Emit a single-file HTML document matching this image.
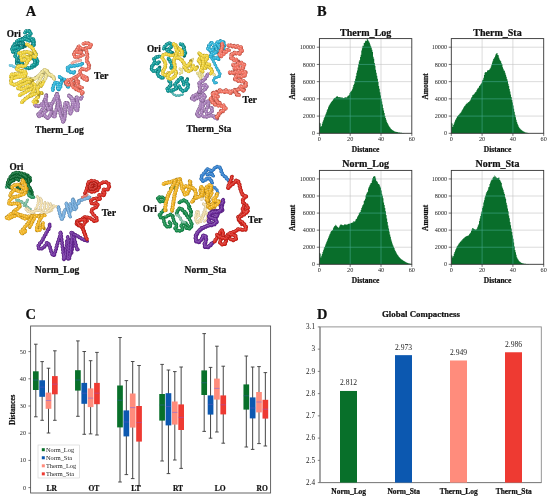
<!DOCTYPE html>
<html><head><meta charset="utf-8"><title>Figure</title>
<style>
html,body{margin:0;padding:0;background:#fff;}
body{width:550px;height:500px;overflow:hidden;font-family:"Liberation Serif",serif;}
svg{display:block;}
svg text{font-family:"Liberation Serif",serif;}
</style></head><body>
<svg width="550" height="500" viewBox="0 0 550 500">
<rect width="550" height="500" fill="#fff"/>
<text x="25.80" y="16.10" font-size="14.4" font-weight="bold" text-anchor="start" fill="#111"  stroke="#111" stroke-width="0.22">A</text>
<text x="317.00" y="16.10" font-size="14.4" font-weight="bold" text-anchor="start" fill="#111"  stroke="#111" stroke-width="0.22">B</text>
<text x="25.50" y="318.90" font-size="14.4" font-weight="bold" text-anchor="start" fill="#111"  stroke="#111" stroke-width="0.22">C</text>
<text x="317.00" y="318.90" font-size="14.4" font-weight="bold" text-anchor="start" fill="#111"  stroke="#111" stroke-width="0.22">D</text>
<g fill="none" stroke-linecap="round" stroke-linejoin="round" opacity="0.7"><defs><path id="s1" d="M9.8,65.2L10.1,65.7L10.5,65.9L10.8,65.8L11.2,65.6L11.7,65.4L12.2,65.4L12.7,66.1L13.2,66.8L14.2,66.7L14.9,66.6L15.2,67.0L15.3,67.5L15.4,67.9L15.6,68.2L15.8,68.3L16.3,68.3"/></defs><use href="#s1" stroke="#218ba9" stroke-width="2.2"/><use href="#s1" stroke="#2bb3d9" stroke-width="1.50"/><use href="#s1" stroke="#6ac9e4" stroke-width="0.55" transform="translate(-0.3,-0.4)"/></g>
<g fill="none" stroke-linecap="round" stroke-linejoin="round"><defs><path id="s2" d="M24.8,32.8L25.3,32.8L25.6,32.5L25.8,32.2L25.7,31.8L25.8,31.4L26.0,30.9L26.5,30.8L27.2,31.1L27.9,31.4L28.3,31.1L28.7,30.8L29.2,30.6L29.6,30.8L29.8,31.2L29.8,31.8L29.8,32.4L30.2,32.8L30.7,33.0L31.0,33.4L31.0,33.8L30.7,34.2L30.2,34.3L29.6,34.5L29.3,35.0L29.3,35.7L28.9,36.2L28.4,36.3L28.0,36.0L27.6,35.7L27.2,35.6L26.8,36.0L26.8,36.5L27.2,36.8L27.6,36.8L27.9,36.8L28.2,36.9L28.5,37.3L28.8,37.9L29.3,38.3L30.3,38.0L31.0,38.1L31.4,38.5L31.7,38.9L32.0,39.1L32.2,39.1L32.3,39.1L32.8,39.0L33.5,39.1L33.8,39.7L33.8,40.3L33.7,40.6L33.7,40.8L33.7,41.0L33.9,41.3L34.2,41.9L34.2,42.5L33.7,43.0L33.1,43.2L32.9,43.5L32.8,43.8L32.7,44.2L32.6,44.5L32.5,44.9L32.3,45.1"/></defs><use href="#s2" stroke="#0b6e6d" stroke-width="3.1"/><use href="#s2" stroke="#109a98" stroke-width="3.04" stroke-dasharray="0.01 2.48"/><use href="#s2" stroke="#6fc2c1" stroke-width="1.18" stroke-dasharray="0.01 2.48" transform="translate(-0.35,-0.45)"/></g>
<g fill="none" stroke-linecap="round" stroke-linejoin="round"><defs><path id="s3" d="M25.4,37.0L24.9,36.9L24.6,37.0L24.4,37.2L24.2,37.5L24.1,37.9L23.9,38.5L23.3,38.6L22.2,38.5L21.6,39.0L21.3,39.6L21.0,39.9L20.7,40.0L20.4,39.9L19.9,39.8L19.3,39.8L18.8,40.6L18.3,41.4L17.7,41.4L17.2,41.3L16.9,41.3L16.6,41.5L16.5,41.8L16.4,42.5L16.1,43.3L15.1,43.4L14.5,43.6L14.3,43.9L14.3,44.3L14.3,44.6L14.4,45.0L14.1,45.5L13.2,45.9L12.7,46.5L12.8,47.3L12.8,47.8L12.6,48.0L12.4,48.2L12.0,48.5L11.7,49.0L12.0,49.6L12.6,50.2L12.8,50.7L12.6,51.1L12.5,51.4L12.6,51.8L12.9,52.2L13.4,52.2L14.0,51.9L14.6,51.7L14.9,51.8L15.1,52.0L15.5,52.1L15.9,52.1L16.3,51.9L16.5,51.3L16.8,50.5L17.4,50.2L18.0,50.2L18.4,50.0L18.5,49.8L18.6,49.6L18.5,49.2L18.6,48.6L19.2,48.1L20.2,48.3L20.8,48.1L21.1,47.7L21.4,47.2L21.8,47.0L22.2,47.0L22.6,47.3L23.1,47.5"/></defs><use href="#s3" stroke="#0b6e6d" stroke-width="3.1"/><use href="#s3" stroke="#109a98" stroke-width="3.04" stroke-dasharray="0.01 2.48"/><use href="#s3" stroke="#6fc2c1" stroke-width="1.18" stroke-dasharray="0.01 2.48" transform="translate(-0.35,-0.45)"/></g>
<g fill="none" stroke-linecap="round" stroke-linejoin="round"><defs><path id="s4" d="M16.4,52.6L15.9,52.8L15.6,53.1L15.6,53.6L15.7,54.1L15.7,54.6L15.5,54.9L14.9,55.5L14.8,56.3L15.5,56.8L16.0,57.0L16.2,57.3L16.4,57.8L16.6,58.3L16.8,58.5L17.3,58.7L18.0,59.1L18.0,59.9L17.4,60.2L17.0,60.3L16.7,60.5L16.5,60.9L16.5,61.4L16.7,61.7L16.8,62.1L16.5,62.8L16.5,63.4L16.8,63.7L17.3,63.8L17.8,63.6L18.2,63.4L18.8,63.6L19.4,64.3L20.1,64.4L20.6,63.9L20.8,63.5L21.0,63.3L21.3,63.2L21.8,63.2L22.2,63.2L22.6,63.2"/></defs><use href="#s4" stroke="#0b6e6d" stroke-width="3.1"/><use href="#s4" stroke="#109a98" stroke-width="3.04" stroke-dasharray="0.01 2.48"/><use href="#s4" stroke="#6fc2c1" stroke-width="1.18" stroke-dasharray="0.01 2.48" transform="translate(-0.35,-0.45)"/></g>
<g fill="none" stroke-linecap="round" stroke-linejoin="round"><defs><path id="s5" d="M20.6,42.4L20.9,42.8L21.2,43.0L21.5,43.0L21.8,42.9L22.3,42.7L22.8,42.6L23.2,42.9L23.5,43.8L23.8,44.3L24.4,44.4L24.9,44.5L25.3,44.7L25.4,45.0L25.3,45.3L25.2,45.7L25.2,46.2"/></defs><use href="#s5" stroke="#095d5c" stroke-width="3.1"/><use href="#s5" stroke="#0d8281" stroke-width="3.04" stroke-dasharray="0.01 2.48"/><use href="#s5" stroke="#6db4b3" stroke-width="1.18" stroke-dasharray="0.01 2.48" transform="translate(-0.35,-0.45)"/></g>
<g fill="none" stroke-linecap="round" stroke-linejoin="round"><defs><path id="s6" d="M32.0,55.6L32.2,56.2L32.6,56.4L33.1,56.4L33.7,56.2L34.2,56.3L34.6,56.8L34.7,57.7L35.5,58.1L36.5,58.2L36.8,58.7L36.8,59.2L36.9,59.5L36.8,59.7L36.9,59.9L37.2,60.3L37.8,61.0L37.7,61.7L37.2,62.2L37.0,62.6L37.1,62.8L37.1,63.2L37.2,63.7L37.0,64.3L36.1,64.6L35.4,64.9L35.3,65.3L35.2,65.7L35.1,65.9L34.8,66.2L34.5,66.3L33.9,66.1L33.0,66.0L32.5,66.8L32.3,67.5L32.0,67.7L31.6,67.8L31.2,67.7L30.7,67.6L30.3,67.7L29.6,68.4L28.9,68.7L28.3,68.3L28.0,68.1L27.9,67.9L27.6,67.9L27.2,67.9L26.6,68.1L25.9,67.9L25.4,67.1L25.0,66.7L24.6,66.7L24.3,66.8L24.0,66.8L23.6,66.8L23.2,66.5L23.1,65.7L22.8,65.1L22.3,64.9L21.9,64.9L21.5,64.8L21.3,64.7L21.1,64.6L21.1,64.5L21.0,64.2"/></defs><use href="#s6" stroke="#0b6e6d" stroke-width="3.1"/><use href="#s6" stroke="#109a98" stroke-width="3.04" stroke-dasharray="0.01 2.48"/><use href="#s6" stroke="#6fc2c1" stroke-width="1.18" stroke-dasharray="0.01 2.48" transform="translate(-0.35,-0.45)"/></g>
<g fill="none" stroke-linecap="round" stroke-linejoin="round"><defs><path id="s7" d="M34.4,52.0L34.3,52.6L34.5,53.0L34.9,53.2L35.5,53.4L35.9,53.6L36.0,54.1L35.9,54.7L35.9,55.2"/></defs><use href="#s7" stroke="#0b6e6d" stroke-width="3.1"/><use href="#s7" stroke="#109a98" stroke-width="3.04" stroke-dasharray="0.01 2.48"/><use href="#s7" stroke="#6fc2c1" stroke-width="1.18" stroke-dasharray="0.01 2.48" transform="translate(-0.35,-0.45)"/></g>
<g fill="none" stroke-linecap="round" stroke-linejoin="round"><defs><path id="s8" d="M17.0,41.2L17.5,41.4L17.9,41.3L18.2,41.1L18.4,40.7L18.6,40.3L19.1,40.0L19.8,40.2L20.7,40.4L21.3,39.7L21.7,39.2L22.0,39.1L22.3,39.2L22.6,39.4L23.0,39.6L23.5,39.9L24.2,39.4L25.0,39.0L25.5,39.2L25.8,39.5L26.0,39.8L26.2,40.0L26.5,40.0L27.1,39.9L27.9,39.6L28.5,40.1L28.9,40.7L29.3,40.9L29.6,40.9L30.0,40.8L30.3,40.7L30.6,40.7L31.0,40.8"/></defs><use href="#s8" stroke="#0b6e6d" stroke-width="3.1"/><use href="#s8" stroke="#109a98" stroke-width="3.04" stroke-dasharray="0.01 2.48"/><use href="#s8" stroke="#6fc2c1" stroke-width="1.18" stroke-dasharray="0.01 2.48" transform="translate(-0.35,-0.45)"/></g>
<g fill="none" stroke-linecap="round" stroke-linejoin="round"><defs><path id="s9" d="M15.2,44.8L15.7,44.9L16.0,44.9L16.2,44.7L16.4,44.4L16.5,44.0L16.8,43.5L17.4,43.4L18.2,43.8L19.0,43.9L19.4,43.4L19.7,43.0L20.0,42.9L20.3,42.9L20.7,43.1L21.1,43.7L21.7,44.0L22.6,43.6L23.2,43.5L23.6,43.8L23.8,44.2L23.9,44.5L24.0,44.8L24.3,45.0L24.7,45.1"/></defs><use href="#s9" stroke="#0a6361" stroke-width="3.1"/><use href="#s9" stroke="#0e8a88" stroke-width="3.04" stroke-dasharray="0.01 2.48"/><use href="#s9" stroke="#6eb8b7" stroke-width="1.18" stroke-dasharray="0.01 2.48" transform="translate(-0.35,-0.45)"/></g>
<g fill="none" stroke-linecap="round" stroke-linejoin="round"><defs><path id="s10" d="M13.4,48.4L13.8,48.6L14.1,48.8L14.3,48.8L14.6,48.6L14.9,48.3L15.2,47.9L15.7,47.7L16.4,47.9L17.2,47.9L17.5,47.5L17.7,46.9L17.7,46.6L17.8,46.3L18.1,46.2L18.4,46.1L18.9,46.1"/></defs><use href="#s10" stroke="#0b6e6d" stroke-width="3.1"/><use href="#s10" stroke="#109a98" stroke-width="3.04" stroke-dasharray="0.01 2.48"/><use href="#s10" stroke="#6fc2c1" stroke-width="1.18" stroke-dasharray="0.01 2.48" transform="translate(-0.35,-0.45)"/></g>
<g fill="none" stroke-linecap="round" stroke-linejoin="round"><defs><path id="s11" d="M32.0,40.0L31.9,40.6L32.1,41.0L32.6,41.2L33.2,41.4L33.6,41.7L33.6,42.3L33.3,43.0L33.5,43.7L34.1,44.2L34.3,44.7L34.2,45.1L33.9,45.4L33.6,45.4L33.3,45.5L33.0,45.6L32.8,45.8"/></defs><use href="#s11" stroke="#0b6e6d" stroke-width="3.1"/><use href="#s11" stroke="#109a98" stroke-width="3.04" stroke-dasharray="0.01 2.48"/><use href="#s11" stroke="#6fc2c1" stroke-width="1.18" stroke-dasharray="0.01 2.48" transform="translate(-0.35,-0.45)"/></g>
<g fill="none" stroke-linecap="round" stroke-linejoin="round"><defs><path id="s12" d="M17.0,60.4L17.2,60.8L17.5,61.0L17.8,61.1L18.0,61.0L18.4,60.8L19.0,60.7L19.5,60.9L19.9,61.8L20.5,62.3L21.3,62.3L21.8,62.3L22.1,62.7L22.2,63.2L22.2,63.6L22.4,64.0L22.8,64.3"/></defs><use href="#s12" stroke="#0a6361" stroke-width="3.1"/><use href="#s12" stroke="#0e8a88" stroke-width="3.04" stroke-dasharray="0.01 2.48"/><use href="#s12" stroke="#6eb8b7" stroke-width="1.18" stroke-dasharray="0.01 2.48" transform="translate(-0.35,-0.45)"/></g>
<g fill="none" stroke-linecap="round" stroke-linejoin="round"><defs><path id="s13" d="M32.6,58.0L32.7,58.6L33.0,58.9L33.4,59.0L34.0,59.0L34.5,59.1L34.7,59.7L34.6,60.4L34.6,61.1L35.3,61.6L35.7,62.0L35.8,62.4L35.6,62.8L35.3,62.9L34.9,63.0L34.4,63.2L34.2,63.9L34.3,64.7L34.0,65.2L33.5,65.3L33.1,65.2L32.7,65.1L32.4,65.1L32.1,65.3L31.9,65.7"/></defs><use href="#s13" stroke="#0b6e6d" stroke-width="3.1"/><use href="#s13" stroke="#109a98" stroke-width="3.04" stroke-dasharray="0.01 2.48"/><use href="#s13" stroke="#6fc2c1" stroke-width="1.18" stroke-dasharray="0.01 2.48" transform="translate(-0.35,-0.45)"/></g>
<g fill="none" stroke-linecap="round" stroke-linejoin="round"><defs><path id="s14" d="M19.4,55.6L19.4,56.1L19.5,56.5L19.8,56.7L20.3,56.8L20.8,56.9L21.1,57.1L21.2,57.5L21.2,58.0"/></defs><use href="#s14" stroke="#0b6e6d" stroke-width="3.1"/><use href="#s14" stroke="#109a98" stroke-width="3.04" stroke-dasharray="0.01 2.48"/><use href="#s14" stroke="#6fc2c1" stroke-width="1.18" stroke-dasharray="0.01 2.48" transform="translate(-0.35,-0.45)"/></g>
<g fill="none" stroke-linecap="round" stroke-linejoin="round"><defs><path id="s15" d="M25.4,76.6L25.6,77.1L25.9,77.4L26.2,77.5L26.7,77.4L27.2,77.3L27.7,77.5L28.1,78.3L28.9,78.7L29.9,78.4L30.5,78.5L30.8,79.0L31.0,79.4L31.4,79.6L31.8,79.6L32.4,79.1L33.1,78.6L34.0,79.1L34.7,79.2L35.0,78.9L35.2,78.5L35.2,78.1L35.4,77.7L36.0,77.4L37.0,77.5L37.6,76.9L37.8,76.2L38.0,75.9L38.2,75.8L38.5,75.8L38.9,75.8L39.6,75.7L39.9,74.9L40.0,73.9L40.5,73.7L41.0,73.5L41.3,73.4L41.5,73.2L41.6,72.9L41.7,72.3L41.9,71.5L42.8,71.3L43.5,71.1L43.7,70.8L43.8,70.4L43.9,70.0L44.2,69.7L44.6,69.6L45.2,69.9L45.7,70.4L46.0,70.5L46.2,70.4L46.5,70.4L46.8,70.5L47.2,70.6L47.5,71.0L47.5,71.9L47.7,72.6L48.1,72.8L48.5,73.0L48.8,73.2L48.9,73.4L48.9,73.7L48.9,74.3L49.1,75.1L49.9,75.3L50.5,75.3L50.8,75.4L51.0,75.5L51.2,75.8L51.4,76.2L51.6,76.6L52.3,76.8L53.1,76.7L53.6,77.0L53.7,77.4L53.7,77.7L53.6,78.0L53.6,78.2L53.7,78.5L53.9,78.7"/></defs><use href="#s15" stroke="#aca268" stroke-width="3.1"/><use href="#s15" stroke="#efe291" stroke-width="3.04" stroke-dasharray="0.01 2.48"/><use href="#s15" stroke="#f5edbd" stroke-width="1.18" stroke-dasharray="0.01 2.48" transform="translate(-0.35,-0.45)"/></g>
<g fill="none" stroke-linecap="round" stroke-linejoin="round"><defs><path id="s16" d="M36.8,84.4L37.4,84.2L37.7,83.9L37.7,83.5L37.7,83.0L37.7,82.4L38.1,82.1L39.0,81.8L39.3,80.9L39.2,79.8L39.7,79.4L40.1,79.2L40.4,79.0L40.6,78.8L40.7,78.5L40.5,77.9L40.6,77.0L41.6,76.6L42.2,76.2L42.2,75.6L42.2,75.1L42.4,74.7L42.6,74.5L43.0,74.4L43.6,74.3"/></defs><use href="#s16" stroke="#aca268" stroke-width="3.1"/><use href="#s16" stroke="#efe291" stroke-width="3.04" stroke-dasharray="0.01 2.48"/><use href="#s16" stroke="#f5edbd" stroke-width="1.18" stroke-dasharray="0.01 2.48" transform="translate(-0.35,-0.45)"/></g>
<g fill="none" stroke-linecap="round" stroke-linejoin="round"><defs><path id="s17" d="M45.8,70.6L45.5,71.2L45.7,71.7L46.2,72.0L46.7,72.4L46.8,72.9L46.4,73.6L46.1,74.4L46.7,75.4L46.4,76.4L45.8,76.9L45.6,77.2L45.7,77.5L45.7,78.0L45.7,78.5L45.3,79.0L44.2,79.4L44.2,80.5L44.1,81.3L43.6,81.7L43.0,81.8L42.6,81.9L42.4,82.3L42.4,82.8L42.5,83.4"/></defs><use href="#s17" stroke="#aca268" stroke-width="3.1"/><use href="#s17" stroke="#efe291" stroke-width="3.04" stroke-dasharray="0.01 2.48"/><use href="#s17" stroke="#f5edbd" stroke-width="1.18" stroke-dasharray="0.01 2.48" transform="translate(-0.35,-0.45)"/></g>
<g fill="none" stroke-linecap="round" stroke-linejoin="round"><defs><path id="s18" d="M45.0,70.0L45.1,70.7L45.5,71.0L46.1,71.1L46.6,71.2L47.0,71.6L47.1,72.5L47.6,73.2L48.9,73.3L49.3,74.3L49.7,74.9L50.1,75.0L50.5,74.9L50.9,74.8L51.4,74.8L51.8,75.2L52.0,76.3L52.7,76.7L53.6,76.8L53.9,77.2L53.9,77.8L53.8,78.2L53.8,78.6L54.0,78.9L54.5,79.1"/></defs><use href="#s18" stroke="#aca268" stroke-width="3.1"/><use href="#s18" stroke="#efe291" stroke-width="3.04" stroke-dasharray="0.01 2.48"/><use href="#s18" stroke="#f5edbd" stroke-width="1.18" stroke-dasharray="0.01 2.48" transform="translate(-0.35,-0.45)"/></g>
<g fill="none" stroke-linecap="round" stroke-linejoin="round"><defs><path id="s19" d="M26.6,44.2L26.8,44.7L27.0,45.0L27.3,45.0L27.7,45.0L28.2,44.9L28.7,44.9L29.1,45.4L29.4,46.3L30.0,46.6L30.6,46.5L30.9,46.4L31.1,46.4L31.4,46.5L31.6,46.7L31.6,47.2L31.7,48.1L32.2,48.5L32.8,48.6L33.2,48.7L33.4,49.0L33.4,49.2L33.4,49.6L33.2,50.3L33.5,51.0L34.4,51.3L34.9,51.5L35.0,51.9L35.0,52.3L35.0,52.6L34.9,52.9L35.1,53.3L35.7,53.8L36.2,54.4L36.0,55.0L35.7,55.4L35.5,55.7L35.4,55.8L35.5,56.1L35.4,56.6L35.2,57.1L34.8,57.4L34.3,57.3L34.1,57.0L33.9,56.7L33.7,56.4L33.3,56.3L32.6,56.5L31.9,56.6L31.3,56.1L30.9,55.6L30.5,55.5L30.2,55.6L29.9,55.7L29.6,55.9L29.3,56.1L28.9,56.0"/></defs><use href="#s19" stroke="#ac9729" stroke-width="3.1"/><use href="#s19" stroke="#f0d33a" stroke-width="3.04" stroke-dasharray="0.01 2.48"/><use href="#s19" stroke="#f6e488" stroke-width="1.18" stroke-dasharray="0.01 2.48" transform="translate(-0.35,-0.45)"/></g>
<g fill="none" stroke-linecap="round" stroke-linejoin="round"><defs><path id="s20" d="M18.8,53.2L19.3,53.5L19.6,53.5L19.9,53.4L20.2,53.1L20.5,52.7L20.9,52.4L21.6,52.6L22.5,53.0L23.2,52.5L23.5,52.0L23.8,51.8L24.1,51.8L24.4,51.9L24.8,52.1L25.3,52.4L26.0,52.2L26.8,51.6L27.3,51.7L27.7,52.0L27.9,52.3L28.1,52.5L28.4,52.7L28.9,52.5L29.7,52.2L30.3,52.5L30.6,53.1L30.8,53.5L31.0,53.6L31.2,53.7L31.4,53.7L31.7,53.7L32.1,53.6"/></defs><use href="#s20" stroke="#ac9729" stroke-width="3.1"/><use href="#s20" stroke="#f0d33a" stroke-width="3.04" stroke-dasharray="0.01 2.48"/><use href="#s20" stroke="#f6e488" stroke-width="1.18" stroke-dasharray="0.01 2.48" transform="translate(-0.35,-0.45)"/></g>
<g fill="none" stroke-linecap="round" stroke-linejoin="round"><defs><path id="s21" d="M20.6,53.8L20.3,54.3L20.2,54.6L20.4,54.9L20.7,55.2L21.1,55.6L21.3,56.0L21.1,56.6L20.8,57.5L21.3,58.1L21.8,58.7L21.9,59.1L21.7,59.4L21.5,59.7L21.5,60.0L21.7,60.5L22.3,60.7L23.0,60.4L23.3,60.3L23.5,60.3L23.8,60.3L24.3,60.5L24.8,60.6L25.3,60.2L25.9,59.4L26.8,59.5L27.3,60.0L27.7,60.2L28.1,60.1L28.4,59.9L28.6,59.6L28.9,59.2L29.5,59.0L30.3,59.0L30.8,58.6L30.7,58.0L30.5,57.6L30.3,57.3L30.2,56.9L30.5,56.5L30.9,56.2"/></defs><use href="#s21" stroke="#ac9729" stroke-width="3.1"/><use href="#s21" stroke="#f0d33a" stroke-width="3.04" stroke-dasharray="0.01 2.48"/><use href="#s21" stroke="#f6e488" stroke-width="1.18" stroke-dasharray="0.01 2.48" transform="translate(-0.35,-0.45)"/></g>
<g fill="none" stroke-linecap="round" stroke-linejoin="round"><defs><path id="s22" d="M23.0,56.2L23.4,56.6L23.8,56.7L24.2,56.5L24.6,56.2L25.0,55.9L25.5,56.0L26.0,56.6L26.4,57.2L27.1,57.2L27.7,56.9L28.0,56.9L28.3,57.0L28.6,57.3L28.6,57.6L28.3,58.0L28.0,58.6L28.2,59.2L28.6,59.6L28.7,60.1L28.7,60.4L28.3,60.7L27.7,60.9L27.1,61.3L27.2,62.2L27.3,63.1L26.9,63.5L26.4,63.7L26.1,63.8L26.0,64.0L25.8,64.2L25.8,64.7L25.7,65.5L25.2,65.8L24.6,65.9L24.3,65.9L24.2,65.9L24.1,65.9L23.9,65.9L23.6,66.2L23.0,66.7L22.4,66.8L22.0,66.5L21.8,66.1L21.7,65.8L21.5,65.6L21.1,65.5L20.6,65.8L20.0,66.2L19.5,66.2L19.0,65.9L18.6,65.7L18.3,65.7L18.0,65.8L17.9,66.1L17.8,66.6L17.9,67.2L17.7,67.6L17.3,67.8L16.9,68.1L16.7,68.3L16.6,68.6L16.6,68.9L16.8,69.1L17.0,69.4"/></defs><use href="#s22" stroke="#ac9729" stroke-width="3.1"/><use href="#s22" stroke="#f0d33a" stroke-width="3.04" stroke-dasharray="0.01 2.48"/><use href="#s22" stroke="#f6e488" stroke-width="1.18" stroke-dasharray="0.01 2.48" transform="translate(-0.35,-0.45)"/></g>
<g fill="none" stroke-linecap="round" stroke-linejoin="round"><defs><path id="s23" d="M17.0,69.4L17.2,69.8L17.4,70.1L17.6,70.2L17.9,70.2L18.3,70.1L18.9,69.9L19.4,70.0L19.9,70.8L20.6,71.2L21.2,70.9L21.6,70.5L21.9,70.4L22.2,70.4L22.5,70.7L22.9,71.2L23.5,71.6L24.3,71.3L25.0,71.3L25.4,71.6L25.6,72.1L25.6,72.4L25.6,72.6L25.6,72.7L25.8,73.0L26.0,73.3L26.1,73.7L25.9,74.1L25.5,74.2L25.1,74.2L24.5,73.8L23.8,73.6L23.0,74.4L22.2,74.6L21.6,74.2L21.1,73.9L20.8,74.0L20.4,74.2L19.8,74.6L19.2,74.5L18.2,73.8L17.3,74.2L16.6,74.6L16.1,74.4L15.9,74.1L15.6,73.8L15.2,73.6L14.7,73.7L14.0,74.5L13.2,74.6L12.6,74.2L12.0,74.0L11.7,74.2L11.4,74.5L11.4,74.8L11.4,75.2L11.4,75.5L11.1,75.9L10.7,76.2L10.5,76.6L10.6,77.1L11.1,77.3L11.7,77.3L12.3,77.2L12.8,77.7L13.4,78.4L13.9,78.4L14.3,78.2L14.5,77.8L14.7,77.4L15.2,77.2L16.1,77.6L17.0,77.5L17.9,76.6L18.6,76.9L19.1,77.2L19.5,77.3L19.9,77.2L20.3,76.8L20.9,76.3L21.8,76.6L22.8,76.9L23.4,76.2L23.8,75.9L24.1,75.8L24.4,76.0L24.7,76.1L25.1,76.3L25.5,76.4"/></defs><use href="#s23" stroke="#ac9729" stroke-width="3.1"/><use href="#s23" stroke="#f0d33a" stroke-width="3.04" stroke-dasharray="0.01 2.48"/><use href="#s23" stroke="#f6e488" stroke-width="1.18" stroke-dasharray="0.01 2.48" transform="translate(-0.35,-0.45)"/></g>
<g fill="none" stroke-linecap="round" stroke-linejoin="round"><defs><path id="s24" d="M12.2,77.2L11.7,77.4L11.4,77.7L11.4,78.1L11.4,78.6L11.6,79.1L11.4,79.5L10.9,80.0L10.6,80.8L11.2,81.6L11.5,82.2L11.3,82.7L11.0,83.2L11.1,83.7L11.5,84.0L12.2,84.0L13.0,84.0L13.4,84.7L13.9,85.2L14.4,85.3L14.7,85.0L15.0,84.4L15.3,84.0L16.1,84.0L17.1,84.2L17.8,83.4L18.2,82.9L18.5,82.9L18.8,82.9L19.2,83.0L19.6,83.0L20.0,82.7L20.5,81.7L21.2,81.4L21.9,81.5L22.4,81.5L22.6,81.3L22.7,81.1L22.9,80.6L23.3,80.1L24.2,80.1L25.2,80.4L25.6,79.9L25.9,79.4L26.1,79.1L26.5,79.1L26.9,79.3L27.5,79.8L28.4,79.8L29.4,79.3L30.1,79.7L30.5,80.3L30.9,80.5L31.3,80.4L31.8,80.3L32.3,80.2L32.7,80.5"/></defs><use href="#s24" stroke="#ac9729" stroke-width="3.1"/><use href="#s24" stroke="#f0d33a" stroke-width="3.04" stroke-dasharray="0.01 2.48"/><use href="#s24" stroke="#f6e488" stroke-width="1.18" stroke-dasharray="0.01 2.48" transform="translate(-0.35,-0.45)"/></g>
<g fill="none" stroke-linecap="round" stroke-linejoin="round"><defs><path id="s25" d="M19.4,86.2L20.0,86.3L20.3,86.2L20.5,86.0L20.7,85.6L20.9,85.1L21.3,84.7L22.2,84.9L23.2,84.7L23.7,83.7L24.2,83.4L24.8,83.5L25.2,83.6L25.6,83.6L25.9,83.3L26.3,82.6L27.1,82.3L28.2,82.7L28.8,82.5L29.1,82.0L29.5,81.7L29.8,81.6L30.1,81.7L30.4,81.9L30.8,82.2"/></defs><use href="#s25" stroke="#ac9729" stroke-width="3.1"/><use href="#s25" stroke="#f0d33a" stroke-width="3.04" stroke-dasharray="0.01 2.48"/><use href="#s25" stroke="#f6e488" stroke-width="1.18" stroke-dasharray="0.01 2.48" transform="translate(-0.35,-0.45)"/></g>
<g fill="none" stroke-linecap="round" stroke-linejoin="round"><defs><path id="s26" d="M17.6,88.0L17.8,88.5L18.1,88.7L18.5,88.8L19.0,88.7L19.5,88.6L19.9,88.7L20.4,89.2L21.2,89.6L21.9,89.1L22.4,88.7L22.6,88.7L22.8,88.7L23.1,88.7L23.6,88.8L24.2,88.7L24.7,87.8L25.5,87.4L26.3,87.6L26.8,87.7L27.1,87.4L27.3,87.0L27.5,86.5L28.0,86.1L29.1,86.5L29.9,86.1L30.4,85.3L30.8,85.1L31.3,85.2L31.6,85.4L32.0,85.5L32.3,85.6L32.7,85.3"/></defs><use href="#s26" stroke="#ac9729" stroke-width="3.1"/><use href="#s26" stroke="#f0d33a" stroke-width="3.04" stroke-dasharray="0.01 2.48"/><use href="#s26" stroke="#f6e488" stroke-width="1.18" stroke-dasharray="0.01 2.48" transform="translate(-0.35,-0.45)"/></g>
<g fill="none" stroke-linecap="round" stroke-linejoin="round"><defs><path id="s27" d="M19.4,95.2L19.9,95.3L20.3,95.3L20.5,95.0L20.7,94.7L20.9,94.2L21.3,93.8L22.2,93.9L23.2,93.7L23.6,92.6L24.2,92.3L24.8,92.5L25.3,92.5L25.6,92.4L25.9,91.9L26.2,91.1L27.1,90.9L28.2,91.0L28.6,90.4L28.7,89.9L28.9,89.6L29.1,89.4L29.5,89.4L30.1,89.6L31.0,89.6L31.5,88.7L32.1,88.2L32.7,88.4L33.1,88.6L33.5,88.7L33.8,88.6L34.1,88.3L34.3,87.8"/></defs><use href="#s27" stroke="#ac9729" stroke-width="3.1"/><use href="#s27" stroke="#f0d33a" stroke-width="3.04" stroke-dasharray="0.01 2.48"/><use href="#s27" stroke="#f6e488" stroke-width="1.18" stroke-dasharray="0.01 2.48" transform="translate(-0.35,-0.45)"/></g>
<g fill="none" stroke-linecap="round" stroke-linejoin="round"><defs><path id="s28" d="M33.2,83.2L33.2,83.8L33.4,84.2L33.9,84.3L34.5,84.4L35.0,84.6L35.1,85.2L34.7,86.0L34.7,86.8L35.4,87.6L35.3,88.3L34.8,88.6L34.4,88.7L34.0,88.9L33.9,89.5L34.0,90.4L33.3,91.1L32.4,91.6L32.4,92.4L32.5,92.9L32.4,93.3L32.2,93.5L31.7,93.6L31.0,93.8L30.6,94.5L30.6,95.5L30.1,95.9L29.5,95.9L29.1,96.0L28.8,96.1L28.6,96.3L28.5,96.6L28.5,97.1"/></defs><use href="#s28" stroke="#ac9729" stroke-width="3.1"/><use href="#s28" stroke="#f0d33a" stroke-width="3.04" stroke-dasharray="0.01 2.48"/><use href="#s28" stroke="#f6e488" stroke-width="1.18" stroke-dasharray="0.01 2.48" transform="translate(-0.35,-0.45)"/></g>
<g fill="none" stroke-linecap="round" stroke-linejoin="round"><defs><path id="s29" d="M21.8,102.4L22.4,102.3L22.7,102.1L22.8,101.6L22.8,101.1L22.9,100.6L23.4,100.3L24.3,100.2L25.0,99.6L25.1,98.5L25.6,98.2L26.1,98.2L26.4,98.2L26.7,98.2L27.0,98.1L27.3,97.6L27.6,96.7L28.4,96.5L29.2,96.5L29.6,96.3L29.8,95.9L29.9,95.6L30.0,95.2L30.2,95.0L30.6,94.9"/></defs><use href="#s29" stroke="#ac9729" stroke-width="3.1"/><use href="#s29" stroke="#f0d33a" stroke-width="3.04" stroke-dasharray="0.01 2.48"/><use href="#s29" stroke="#f6e488" stroke-width="1.18" stroke-dasharray="0.01 2.48" transform="translate(-0.35,-0.45)"/></g>
<g fill="none" stroke-linecap="round" stroke-linejoin="round"><defs><path id="s30" d="M30.8,95.8L31.4,96.0L31.8,95.8L32.1,95.4L32.3,94.9L32.6,94.4L33.3,94.5L34.2,94.7L35.0,93.9L35.7,93.3L36.6,93.6L37.1,93.6L37.4,93.5L37.6,93.2L37.9,92.8L38.4,92.4L39.2,92.8L40.0,93.2L40.5,92.9L41.0,92.7L41.4,92.6L41.7,92.7L41.8,92.9L42.0,93.1L42.2,93.5"/></defs><use href="#s30" stroke="#ac9729" stroke-width="3.1"/><use href="#s30" stroke="#f0d33a" stroke-width="3.04" stroke-dasharray="0.01 2.48"/><use href="#s30" stroke="#f6e488" stroke-width="1.18" stroke-dasharray="0.01 2.48" transform="translate(-0.35,-0.45)"/></g>
<g fill="none" stroke-linecap="round" stroke-linejoin="round"><defs><path id="s31" d="M33.2,101.8L33.8,101.7L34.1,101.5L34.2,101.1L34.3,100.6L34.4,100.1L34.8,99.7L35.7,99.7L36.4,99.0L36.5,97.8L37.3,97.6L38.0,97.5L38.4,97.2L38.5,96.8L38.5,96.3L38.6,95.9L38.9,95.5"/></defs><use href="#s31" stroke="#ac9729" stroke-width="3.1"/><use href="#s31" stroke="#f0d33a" stroke-width="3.04" stroke-dasharray="0.01 2.48"/><use href="#s31" stroke="#f6e488" stroke-width="1.18" stroke-dasharray="0.01 2.48" transform="translate(-0.35,-0.45)"/></g>
<g fill="none" stroke-linecap="round" stroke-linejoin="round"><defs><path id="s32" d="M41.0,83.2L40.4,83.4L40.1,83.7L40.1,84.1L40.1,84.7L40.0,85.2L39.6,85.5L38.7,85.8L38.5,86.7L38.6,87.8L38.0,88.2L37.5,88.3L37.1,88.5L36.9,88.8L37.0,89.2L37.4,89.7L37.8,90.3L37.5,91.1L37.3,91.8L37.6,92.3L38.1,92.4L38.6,92.4L39.0,92.5L39.3,92.8L39.3,93.3"/></defs><use href="#s32" stroke="#ac9729" stroke-width="3.1"/><use href="#s32" stroke="#f0d33a" stroke-width="3.04" stroke-dasharray="0.01 2.48"/><use href="#s32" stroke="#f6e488" stroke-width="1.18" stroke-dasharray="0.01 2.48" transform="translate(-0.35,-0.45)"/></g>
<g fill="none" stroke-linecap="round" stroke-linejoin="round"><defs><path id="s33" d="M43.4,82.0L42.7,82.3L42.6,82.9L42.7,83.7L42.6,84.3L41.9,84.6L41.2,84.9L41.1,85.6L41.3,86.3"/></defs><use href="#s33" stroke="#ac9729" stroke-width="3.1"/><use href="#s33" stroke="#f0d33a" stroke-width="3.04" stroke-dasharray="0.01 2.48"/><use href="#s33" stroke="#f6e488" stroke-width="1.18" stroke-dasharray="0.01 2.48" transform="translate(-0.35,-0.45)"/></g>
<g fill="none" stroke-linecap="round" stroke-linejoin="round"><defs><path id="s34" d="M34.4,104.2L35.1,104.1L35.4,103.7L35.5,103.0L35.6,102.4L36.1,102.1L36.8,102.1L37.3,101.9L37.6,101.4"/></defs><use href="#s34" stroke="#ac9729" stroke-width="3.1"/><use href="#s34" stroke="#f0d33a" stroke-width="3.04" stroke-dasharray="0.01 2.48"/><use href="#s34" stroke="#f6e488" stroke-width="1.18" stroke-dasharray="0.01 2.48" transform="translate(-0.35,-0.45)"/></g>
<g fill="none" stroke-linecap="round" stroke-linejoin="round"><defs><path id="s35" d="M52.8,90.4L53.2,89.9L53.3,89.5L53.0,89.1L52.7,88.7L52.4,88.3L52.6,87.7L53.4,87.2L53.6,86.3L53.3,85.2L54.0,84.6L54.6,84.2L54.7,83.7L54.6,83.2L54.7,82.7L55.1,82.4L55.8,82.5L56.4,82.8L56.7,82.9L57.0,82.8L57.4,82.8L57.9,83.0L58.2,83.5L57.9,84.3L57.8,85.1L58.5,85.8L58.7,86.5L58.1,87.1L57.5,87.5L57.4,88.0L57.6,88.5L57.8,88.8L58.0,89.0L58.0,89.2L58.1,89.4L58.3,89.7L58.8,89.7L59.2,89.4L59.3,88.8L59.2,87.9L59.9,87.4L60.8,86.9L60.7,86.2L60.4,85.6L60.2,85.2L60.4,84.7L61.0,84.3L61.3,83.6L60.9,82.5L61.4,81.6L62.1,81.0L62.1,80.4L61.8,79.8L61.7,79.4L62.0,79.0L62.5,78.9L63.0,79.1L63.5,79.3L63.7,79.3L63.9,79.2L64.3,79.3L64.8,79.5L65.1,80.0L64.9,80.8L65.0,81.6L65.9,82.0L66.4,82.4L66.3,82.9L66.1,83.3L65.8,83.6L65.7,84.1L66.0,84.5L66.8,84.9L67.3,85.4L67.3,85.9L67.3,86.4L67.4,86.7L67.6,86.8L67.8,86.9L68.0,86.9L68.4,86.9"/></defs><use href="#s35" stroke="#1e809c" stroke-width="3.1"/><use href="#s35" stroke="#2bb3d9" stroke-width="3.04" stroke-dasharray="0.01 2.48"/><use href="#s35" stroke="#7fd1e8" stroke-width="1.18" stroke-dasharray="0.01 2.48" transform="translate(-0.35,-0.45)"/></g>
<g fill="none" stroke-linecap="round" stroke-linejoin="round"><defs><path id="s36" d="M59.4,76.6L59.5,77.1L59.7,77.5L60.2,77.6L60.7,77.7L61.2,77.8L61.5,78.1L61.5,78.7L61.6,79.2"/></defs><use href="#s36" stroke="#1e809c" stroke-width="3.1"/><use href="#s36" stroke="#2bb3d9" stroke-width="3.04" stroke-dasharray="0.01 2.48"/><use href="#s36" stroke="#7fd1e8" stroke-width="1.18" stroke-dasharray="0.01 2.48" transform="translate(-0.35,-0.45)"/></g>
<g fill="none" stroke-linecap="round" stroke-linejoin="round"><defs><path id="s37" d="M82.6,63.6L82.2,63.5L81.9,63.6L81.7,63.6L81.6,63.8L81.5,64.0L81.3,64.4L81.0,65.0L80.3,65.0L79.5,64.7L79.0,64.7L78.8,64.8L78.5,65.1L78.3,65.4L77.9,65.6L77.4,65.6L76.6,65.1L75.8,65.2L75.4,65.7L75.1,66.0L74.9,66.1L74.6,66.2L74.3,66.0L73.7,65.6L72.9,65.6L72.3,66.4L71.7,66.6L71.3,66.3L71.0,66.0L70.7,65.8L70.3,65.7L69.8,66.0L69.5,66.8L69.0,67.3L68.4,67.2L67.9,67.2L67.5,67.3L67.3,67.6L67.3,68.1L67.6,68.5L68.0,69.0L68.0,69.5L67.7,69.9L67.5,70.2L67.5,70.6L67.8,70.9L68.2,71.0L68.9,70.9L69.6,71.0L70.0,71.8L70.3,72.4L70.7,72.6L71.2,72.5L71.6,72.2L72.0,72.1L72.4,72.2L73.0,72.8L73.6,73.1L74.0,72.9L74.2,72.6L74.3,72.4L74.2,72.2L74.2,72.0L74.4,71.8L74.6,71.6"/></defs><use href="#s37" stroke="#218ba9" stroke-width="3.1"/><use href="#s37" stroke="#2bb3d9" stroke-width="2.11"/><use href="#s37" stroke="#6ac9e4" stroke-width="0.78" transform="translate(-0.3,-0.4)"/></g>
<g fill="none" stroke-linecap="round" stroke-linejoin="round"><defs><path id="s38" d="M71.8,63.0L72.2,63.1L72.6,63.2L72.8,63.1L73.0,62.8L73.2,62.5L73.4,62.0L73.9,61.7L74.9,62.0L75.6,61.9L76.0,61.3L76.3,60.9L76.5,60.7L76.9,60.7L77.3,60.8L77.9,61.1L78.5,61.0L79.0,60.2L79.4,59.9L79.7,59.8L80.0,59.9L80.2,60.0L80.4,60.2L80.6,60.3L80.9,60.4"/></defs><use href="#s38" stroke="#bf8479" stroke-width="2.4"/><use href="#s38" stroke="#f6aa9c" stroke-width="1.63"/><use href="#s38" stroke="#f8c3b9" stroke-width="0.60" transform="translate(-0.3,-0.4)"/></g>
<g fill="none" stroke-linecap="round" stroke-linejoin="round"><defs><path id="s39" d="M35.0,105.4L35.4,105.9L35.7,106.1L36.2,106.0L36.7,105.8L37.2,105.8L37.6,106.1L38.4,106.6L39.2,106.1L39.9,105.3L40.5,105.4L41.1,105.5L41.5,105.4L41.8,105.0L41.7,104.3L41.8,103.5L43.0,103.1L43.6,102.4L43.6,101.5L43.8,101.1L44.1,100.9L44.6,100.7L45.0,100.4L45.1,99.7L44.8,98.6L45.7,97.9L46.2,97.1L45.8,96.1L45.9,95.5L46.3,95.1L46.6,94.9L46.2,94.9L46.0,95.2L46.0,95.7L46.5,96.3L46.7,97.0L46.1,97.7L45.7,98.6L46.2,99.8L45.2,100.9L45.5,102.5L44.8,103.6L44.3,104.3L44.5,104.9L44.7,105.3L44.7,105.6L44.5,106.0L43.8,106.3L43.1,107.0L43.3,108.3L42.9,108.9L42.4,109.1L42.0,109.3L41.8,109.5L41.8,109.9L41.8,110.8L41.1,111.5L40.0,112.0L40.0,113.0L39.5,113.6L38.8,113.6L38.2,113.7L37.9,114.0L37.8,114.5L38.2,115.0L38.5,115.4L38.5,115.7L38.4,115.9L38.6,116.3L39.0,116.6L39.6,116.5L40.1,115.7L40.9,115.3L41.9,115.6L42.5,115.3L42.7,114.7L42.8,114.2L43.2,113.9L44.0,113.7L44.7,113.1L44.9,111.7L46.2,111.3L46.6,110.6L46.5,109.8L46.6,109.4L47.0,109.1L47.6,108.8L48.1,108.3L47.9,107.0L48.8,106.3L49.4,105.5L49.1,104.7L48.9,104.1L49.1,103.7L49.4,103.5L49.7,103.5L49.9,103.9L50.0,104.1L50.2,104.2L50.5,104.5L51.0,104.9L51.1,105.5L50.5,106.4L50.8,107.3L51.6,108.3L51.1,109.5L51.3,110.2L51.8,110.6L52.1,110.9L52.2,111.2L52.1,111.7L51.7,112.4L52.3,113.2L53.1,114.1L52.7,115.1L52.7,115.9L53.4,116.3L53.7,116.6L53.8,116.6L53.7,116.7L54.2,116.8L54.9,116.8L55.2,116.3L55.0,115.6L54.7,114.9L55.2,114.2L55.9,113.4L55.3,112.1L56.3,110.9L56.1,109.5L56.2,108.7L56.8,108.2L57.1,107.9L57.2,107.5L56.9,106.9L56.6,106.0L57.6,104.9L57.1,103.5L57.3,102.6L57.9,102.1L58.2,101.7L58.0,101.2L57.6,100.7L57.4,99.9L58.2,98.8L57.4,97.6L57.6,96.5L57.9,95.5L57.3,94.9L56.8,94.5L56.7,94.2L56.8,93.7L57.4,93.8L57.4,94.1L57.3,94.6L57.2,95.0L57.6,95.6L58.4,96.2L58.2,97.3L58.5,98.5L59.1,100.0L59.3,101.4L60.0,102.3L59.7,103.1L59.5,103.7L59.8,104.2L60.5,104.8L60.5,105.8L60.7,107.2L61.4,108.6L61.0,109.7L61.6,110.3L62.1,110.7L62.2,111.1L62.0,111.7L61.8,112.5L62.7,113.2L63.3,113.9L63.1,114.8L63.2,115.3L63.5,115.5L63.7,115.6L63.9,115.5L64.2,115.4L64.5,115.5"/></defs><use href="#s39" stroke="#775a84" stroke-width="3.1"/><use href="#s39" stroke="#a67db8" stroke-width="3.04" stroke-dasharray="0.01 2.48"/><use href="#s39" stroke="#c9b1d4" stroke-width="1.18" stroke-dasharray="0.01 2.48" transform="translate(-0.35,-0.45)"/></g>
<g fill="none" stroke-linecap="round" stroke-linejoin="round"><defs><path id="s40" d="M45.0,100.0L44.8,100.7L45.0,101.1L45.5,101.4L46.0,101.7L46.2,102.2L46.0,103.0L46.0,103.9L47.2,104.7L46.9,106.0L47.2,106.9L47.9,107.6L47.9,108.2L47.6,108.8L47.5,109.4L48.0,109.7L48.6,109.6L49.0,109.3L49.1,109.2L49.2,109.2L49.7,109.0L50.3,108.6L50.4,107.9L50.1,106.8L51.2,106.1L51.7,105.2L51.5,104.3L51.7,103.8L52.2,103.6L52.7,103.3L53.1,102.9L52.9,102.1L53.1,101.0L54.2,100.5L54.4,99.9L54.2,99.5L54.2,99.1L54.1,98.9L54.2,98.6L54.7,98.2L55.6,97.8L55.5,96.7L55.5,95.8L56.2,95.2L56.7,94.7L56.6,94.2L56.5,93.8L56.8,93.6L57.3,93.7L57.6,94.1L57.5,94.7L57.1,95.2L57.1,95.8L57.7,96.6L57.7,97.5L57.0,98.7L58.0,100.0L57.4,101.3L57.5,102.1L58.0,102.6L58.2,103.0L58.1,103.4L57.7,104.0L57.6,104.8L58.6,105.9L58.1,107.3L58.5,108.1L59.1,108.5L59.4,108.8L59.3,109.3L59.0,110.0L59.4,110.8L60.4,111.9L59.9,113.4L60.9,114.1L61.2,114.7L61.0,115.3L60.7,115.8L60.8,116.4L61.6,116.9L62.0,117.9L61.8,119.2L62.7,119.9L63.0,120.6L62.7,121.2L62.6,121.7L62.8,122.0L63.3,122.1L63.7,121.8L63.9,121.4L63.8,121.0L63.8,120.7L64.1,120.4L64.7,119.8L64.8,119.1L64.2,118.0L65.1,116.8L65.0,115.7L64.7,114.8L65.2,114.3L65.7,113.8L65.8,113.4L65.4,112.8L64.9,111.9L65.7,110.8L65.3,109.7L64.8,109.0L64.9,108.5L65.1,108.0L65.2,107.7L65.2,107.4L64.8,106.9L64.4,105.9L65.2,105.1L65.4,104.3L65.0,103.6L65.0,103.0L65.4,102.6L65.9,102.6L66.3,102.7L66.6,102.9L66.9,102.7L67.2,102.6L67.6,102.7L68.0,103.0L68.0,103.5L67.7,104.3L67.7,105.1L68.8,105.9L68.7,106.9L68.5,107.7L68.8,108.2L69.3,108.5L69.6,108.9L69.5,109.4L69.2,110.1L69.2,110.9L70.2,111.5L70.4,112.2L70.0,112.8L69.8,113.3L69.9,113.7L70.4,113.9L70.8,113.7L70.9,113.3L70.8,112.7L70.8,112.3L71.1,112.0L71.7,111.6L72.0,111.0L71.6,110.2L71.4,109.3L72.3,108.5L72.4,107.6L72.1,107.0L72.1,106.6L72.1,106.5L72.2,106.4L72.3,106.1L72.8,105.6L73.0,104.8L72.3,103.9L72.3,103.3L72.8,102.8L73.1,102.5L73.2,102.0L72.8,101.6L72.0,101.1L72.0,100.0L71.8,98.8L70.7,98.4L70.5,97.7L70.4,96.8L70.0,96.4L69.4,96.4L68.9,96.3L68.6,95.9L68.6,95.5L68.9,95.1L69.3,95.2L69.4,95.6L69.5,96.1L70.0,96.5L71.0,96.6L71.5,97.5L71.6,98.6L72.4,98.8L73.1,99.0L73.4,99.4L73.3,100.0L73.2,100.8L73.9,101.4L74.7,102.3L74.4,103.6L75.0,104.1L75.5,104.5L75.7,104.9L75.6,105.3L75.2,105.7L74.9,106.4L75.6,107.2L76.2,108.1L75.7,109.1L75.8,109.7L76.3,110.2L76.7,110.5L76.7,110.5L76.6,110.5L76.7,110.6L77.1,110.6L77.6,110.5L77.9,110.1L77.8,109.5L77.4,108.8L77.6,108.0L78.4,107.1L77.7,106.0L77.9,105.0L78.5,104.3L78.5,103.8L78.1,103.4L77.7,103.2L77.4,102.8L77.4,102.1L77.8,101.1L77.0,100.3L76.5,99.8L76.6,99.0L76.6,98.4L76.5,98.1L76.3,98.1L76.1,97.9L76.1,97.5L76.4,97.0L77.0,97.1L77.3,97.5L77.4,98.2L77.8,98.7L78.5,98.7L79.2,98.4L79.8,98.5L80.5,99.0L81.1,98.9L81.4,98.5L81.4,98.0L81.3,97.6L81.4,97.3L81.7,97.0L82.1,96.9"/></defs><use href="#s40" stroke="#775a84" stroke-width="3.1"/><use href="#s40" stroke="#a67db8" stroke-width="3.04" stroke-dasharray="0.01 2.48"/><use href="#s40" stroke="#c9b1d4" stroke-width="1.18" stroke-dasharray="0.01 2.48" transform="translate(-0.35,-0.45)"/></g>
<g fill="none" stroke-linecap="round" stroke-linejoin="round"><defs><path id="s41" d="M45.0,115.6L45.0,116.1L45.1,116.5L45.5,116.8L46.1,117.0L46.5,117.2L46.6,117.5L46.9,118.0L47.4,118.4L47.9,118.3L48.3,117.9L48.4,117.6L48.3,117.3L48.5,117.0L48.9,116.8L49.7,116.5L50.0,115.7L49.9,114.7L50.4,114.2L51.0,114.0L51.4,113.7L51.5,113.3L51.3,112.8L51.1,112.3L51.2,111.8"/></defs><use href="#s41" stroke="#775a84" stroke-width="3.1"/><use href="#s41" stroke="#a67db8" stroke-width="3.04" stroke-dasharray="0.01 2.48"/><use href="#s41" stroke="#c9b1d4" stroke-width="1.18" stroke-dasharray="0.01 2.48" transform="translate(-0.35,-0.45)"/></g>
<g fill="none" stroke-linecap="round" stroke-linejoin="round"><defs><path id="s42" d="M83.2,43.8L83.6,44.0L84.0,44.0L84.2,43.9L84.4,43.7L84.6,43.3L85.0,42.9L85.5,42.8L86.2,43.3L86.8,43.6L87.3,43.5L87.6,43.2L87.9,43.0L88.2,42.9L88.5,43.0L88.8,43.3L89.1,44.0L89.5,44.5L90.1,44.4L90.5,44.3L90.9,44.3L91.2,44.5L91.4,44.8L91.3,45.2L91.0,45.6L90.6,46.0L90.5,46.2L90.5,46.3L90.5,46.4L90.4,46.7L90.3,47.2L89.9,47.6L89.3,47.5L88.6,47.3L88.2,47.3L88.0,47.4L87.8,47.6L87.5,47.8L87.2,48.1L86.9,48.3L86.2,48.1L85.5,47.9L85.1,48.1L84.9,48.5L84.9,48.8L85.0,49.1L84.8,49.4L84.4,49.6L83.8,49.4L83.3,48.9L83.0,48.6L82.7,48.6L82.4,48.5L81.9,48.5L81.6,48.6L81.3,48.4L80.8,47.9L80.2,47.6L79.8,47.7L79.6,47.9L79.5,48.2L79.5,48.5L79.4,48.8L79.2,49.2L78.5,49.3L77.7,49.2L77.3,49.3L77.2,49.6L77.1,49.9L77.0,50.2L77.0,50.5L76.8,50.9L76.1,51.1L75.3,51.1L75.0,51.4L74.8,51.8L74.8,52.1L74.8,52.4L74.8,52.6L74.7,52.9L74.2,53.4L73.6,53.9L73.7,54.4L73.9,54.8L74.2,55.1L74.4,55.2L74.5,55.4L74.5,55.9L74.6,56.6L74.9,57.1L75.4,57.2L75.8,57.1L76.0,56.9L76.2,56.8L76.6,56.8L77.2,57.1L77.9,57.4L78.5,57.1L78.8,56.6L79.0,56.4L79.1,56.2L79.4,56.2L79.8,56.2L80.4,56.3L81.0,56.2L81.3,55.4L81.6,54.9L82.0,54.8L82.3,54.8L82.5,54.9L82.8,55.0L83.1,55.0L83.4,55.0"/></defs><use href="#s42" stroke="#ac5044" stroke-width="3.1"/><use href="#s42" stroke="#f0705f" stroke-width="3.04" stroke-dasharray="0.01 2.48"/><use href="#s42" stroke="#f6a99f" stroke-width="1.18" stroke-dasharray="0.01 2.48" transform="translate(-0.35,-0.45)"/></g>
<g fill="none" stroke-linecap="round" stroke-linejoin="round"><defs><path id="s43" d="M79.0,46.2L78.4,46.4L78.1,46.7L78.1,47.2L78.1,47.8L78.0,48.2L77.6,48.5L76.9,49.0L76.9,49.8L77.5,50.5L77.7,51.1L77.4,51.5L77.3,52.0L77.4,52.5L77.9,52.7L78.5,52.6L79.1,52.4L79.6,52.6L80.0,53.0L80.6,53.1L81.0,52.9L81.2,52.5L81.2,51.9L81.4,51.4L81.8,51.3"/></defs><use href="#s43" stroke="#ac5044" stroke-width="3.1"/><use href="#s43" stroke="#f0705f" stroke-width="3.04" stroke-dasharray="0.01 2.48"/><use href="#s43" stroke="#f6a99f" stroke-width="1.18" stroke-dasharray="0.01 2.48" transform="translate(-0.35,-0.45)"/></g>
<g fill="none" stroke-linecap="round" stroke-linejoin="round"><defs><path id="s44" d="M85.6,49.2L85.4,49.7L85.5,50.1L85.7,50.4L86.1,50.6L86.5,50.8L86.8,51.3L86.6,52.0L86.4,52.9L87.1,53.5L87.6,53.9L87.7,54.2L87.6,54.5L87.4,54.8L87.2,55.2L87.0,55.7L87.4,56.4L87.8,57.2L87.5,57.7L87.1,58.0L86.7,58.1L86.5,58.4L86.4,58.8L86.8,59.3L87.2,60.0L87.0,60.7L86.7,61.2L86.7,61.6L86.8,61.8L87.0,62.0L87.4,62.1L88.0,62.3L88.4,62.8L88.2,63.7L88.2,64.3L88.4,64.6L88.7,64.6L89.0,64.7L89.4,64.9L89.6,65.3L89.4,66.0L88.8,66.7L88.8,67.1L89.0,67.5L89.2,67.8L89.3,68.2L89.1,68.6L88.6,68.8L87.8,68.8L87.3,69.0L87.1,69.4L87.0,69.7L86.7,70.0L86.4,70.1L86.1,70.1L85.6,69.8L85.0,69.2L84.4,69.3L83.9,69.5L83.4,69.6L83.1,69.4L83.0,69.3L82.8,69.0L82.5,68.7L81.9,68.6L81.4,69.0L81.2,69.5L81.1,69.8L81.0,70.0L80.9,70.1L80.5,70.4L80.0,70.7L79.8,71.3L80.1,72.0L80.4,72.5L80.4,72.7L80.3,72.9L80.2,73.2L80.1,73.6L80.1,74.1L80.6,74.5L81.4,74.7L81.7,74.9L81.8,75.1L81.8,75.3L81.9,75.6L82.1,75.9L82.4,76.3L83.1,76.3L83.9,76.1L84.3,76.3L84.6,76.5L84.8,76.8L85.0,77.1L85.2,77.2L85.5,77.3L86.3,77.3L87.0,77.5L87.2,78.1L87.1,78.6L87.1,79.0L87.1,79.2L87.2,79.3L87.4,79.5L87.5,79.8L87.4,80.2L87.2,80.4L86.9,80.5L86.6,80.4L86.3,80.1L86.1,79.6L85.8,79.1L85.1,79.0L84.2,79.3L83.7,79.0L83.5,78.5L83.4,78.0L83.2,77.7L82.9,77.5L82.4,77.5L81.9,77.6"/></defs><use href="#s44" stroke="#ac5044" stroke-width="3.1"/><use href="#s44" stroke="#f0705f" stroke-width="3.04" stroke-dasharray="0.01 2.48"/><use href="#s44" stroke="#f6a99f" stroke-width="1.18" stroke-dasharray="0.01 2.48" transform="translate(-0.35,-0.45)"/></g>
<g fill="none" stroke-linecap="round" stroke-linejoin="round"><defs><path id="s45" d="M79.0,75.0L78.5,74.9L78.2,75.0L77.9,75.2L77.8,75.5L77.6,76.0L77.4,76.5L76.8,76.6L75.8,76.5L75.3,77.0L75.1,77.6L74.9,78.0L74.8,78.1L74.5,78.2L74.1,78.2L73.5,78.0L72.8,78.3L72.5,79.1L72.1,79.5L71.8,79.6L71.6,79.6L71.3,79.5L71.0,79.3L70.5,79.2L69.9,79.6L69.5,80.4L69.0,80.6L68.6,80.5L68.3,80.3L68.0,80.2L67.6,80.1L67.2,80.4L67.0,81.0L66.8,81.7L66.4,81.9L66.0,81.8L65.7,81.8L65.5,81.9L65.3,82.2L65.3,82.5L65.5,82.9L65.9,83.2L66.3,83.4L66.6,83.5L66.7,83.7L66.8,84.0L67.0,84.4L67.4,84.9L68.2,84.8L68.9,84.3L69.3,84.3L69.6,84.5L69.9,84.7L70.3,84.9L70.8,84.8L71.1,84.4L71.7,83.6L72.5,83.6L73.2,83.9L73.6,83.9L73.9,83.6L74.0,83.3L74.2,82.9L74.3,82.6L74.6,82.4"/></defs><use href="#s45" stroke="#ac5044" stroke-width="3.1"/><use href="#s45" stroke="#f0705f" stroke-width="3.04" stroke-dasharray="0.01 2.48"/><use href="#s45" stroke="#f6a99f" stroke-width="1.18" stroke-dasharray="0.01 2.48" transform="translate(-0.35,-0.45)"/></g>
<g fill="none" stroke-linecap="round" stroke-linejoin="round"><defs><path id="s46" d="M70.6,81.6L70.5,82.2L70.7,82.6L71.1,82.8L71.6,83.0L72.0,83.3L72.2,83.8L72.1,84.8L72.9,85.3L73.9,85.5L74.1,86.1L74.2,86.5L74.3,86.9L74.4,87.1L74.7,87.3L75.4,87.2L76.3,87.2L76.7,88.1L76.9,88.8L77.4,88.9L77.9,88.8L78.2,88.7L78.6,88.7L78.9,88.8L79.1,89.2"/></defs><use href="#s46" stroke="#ac5044" stroke-width="3.1"/><use href="#s46" stroke="#f0705f" stroke-width="3.04" stroke-dasharray="0.01 2.48"/><use href="#s46" stroke="#f6a99f" stroke-width="1.18" stroke-dasharray="0.01 2.48" transform="translate(-0.35,-0.45)"/></g>
<g fill="none" stroke-linecap="round" stroke-linejoin="round"><defs><path id="s47" d="M74.2,78.0L74.3,78.6L74.6,78.9L75.0,78.9L75.5,78.9L76.0,78.9L76.5,79.2L76.6,79.9L76.9,80.7L77.8,80.9L78.4,81.1L78.6,81.4L78.6,81.8L78.5,82.1L78.5,82.4L78.5,82.8L78.6,83.0"/></defs><use href="#s47" stroke="#ac5044" stroke-width="3.1"/><use href="#s47" stroke="#f0705f" stroke-width="3.04" stroke-dasharray="0.01 2.48"/><use href="#s47" stroke="#f6a99f" stroke-width="1.18" stroke-dasharray="0.01 2.48" transform="translate(-0.35,-0.45)"/></g>
<g fill="none" stroke-linecap="round" stroke-linejoin="round"><defs><path id="s48" d="M70.8,81.4L70.6,81.9L70.5,82.2L70.7,82.5L71.1,82.8L71.5,83.1L71.8,83.5L71.6,84.3L71.6,85.2L72.5,85.6L73.0,86.0L73.1,86.3L73.1,86.6L73.1,87.0L73.2,87.4L73.6,87.8L74.5,87.9L75.2,88.2L75.4,88.8L75.5,89.2L75.7,89.5L75.9,89.6L76.2,89.6L76.8,89.5L77.6,89.4L78.1,90.1L78.3,90.6L78.6,90.8L78.9,90.8L79.1,90.7L79.4,90.6L80.0,90.4L80.6,90.7L80.9,91.5L81.3,92.0L81.7,92.0L82.1,91.9L82.5,91.9L82.8,92.0L83.1,92.3L83.1,92.7L83.0,93.1L82.7,93.3L82.5,93.3L82.3,93.2L82.1,93.3L81.9,93.5L81.7,93.8L81.6,94.1"/></defs><use href="#s48" stroke="#ac5044" stroke-width="3.1"/><use href="#s48" stroke="#f0705f" stroke-width="3.04" stroke-dasharray="0.01 2.48"/><use href="#s48" stroke="#f6a99f" stroke-width="1.18" stroke-dasharray="0.01 2.48" transform="translate(-0.35,-0.45)"/></g>
<g fill="none" stroke-linecap="round" stroke-linejoin="round"><defs><path id="s49" d="M76.2,79.6L75.9,80.0L75.8,80.3L75.9,80.7L76.1,81.0L76.5,81.4L76.7,81.8L76.6,82.4L76.4,83.4L77.1,83.9L77.7,84.2L77.9,84.5L77.9,84.7L77.9,85.1L78.0,85.6L78.3,86.0L79.3,86.1L80.1,86.4L80.3,87.1L80.5,87.6L80.8,87.9L81.2,87.9L81.5,87.7L82.0,87.6L82.4,87.6"/></defs><use href="#s49" stroke="#ac5044" stroke-width="3.1"/><use href="#s49" stroke="#f0705f" stroke-width="3.04" stroke-dasharray="0.01 2.48"/><use href="#s49" stroke="#f6a99f" stroke-width="1.18" stroke-dasharray="0.01 2.48" transform="translate(-0.35,-0.45)"/></g>
<text x="6.80" y="36.70" font-size="9.3" font-weight="bold" text-anchor="start" fill="#111"  stroke="#111" stroke-width="0.22">Ori</text>
<text x="94.00" y="79.20" font-size="9.8" font-weight="bold" text-anchor="start" fill="#111"  stroke="#111" stroke-width="0.22">Ter</text>
<text x="59.40" y="133.00" font-size="9.5" font-weight="bold" text-anchor="middle" fill="#111"  stroke="#111" stroke-width="0.22">Therm_Log</text>
<g fill="none" stroke-linecap="round" stroke-linejoin="round"><defs><path id="s50" d="M163.6,48.8L164.2,48.6L164.4,48.2L164.4,47.7L164.2,47.1L164.3,46.6L164.8,46.2L165.7,46.1L166.1,45.3L166.3,44.3L166.8,44.0L167.4,44.0L167.7,44.0L167.9,44.0L168.1,43.9L168.4,43.5L169.0,43.0L169.6,43.0L170.1,43.4L170.4,43.6L170.6,43.7L170.7,43.7L171.0,43.8L171.4,44.0L171.8,44.5L171.7,45.1L171.4,45.6L171.1,45.9L171.1,46.2L171.2,46.7L171.3,47.3L171.0,47.8L170.0,48.0L169.4,48.5L169.2,49.2L168.8,49.7L168.3,49.7L167.9,49.4L167.4,49.2L167.0,49.4L166.8,49.9L167.0,50.4L167.4,50.6L167.6,50.6L167.9,50.7L168.1,50.9L168.4,51.4L168.8,51.9L169.5,52.0L170.3,51.7L170.8,51.8L171.1,52.2L171.4,52.5L171.7,52.7L172.0,52.8L172.2,52.7L172.6,52.5"/></defs><use href="#s50" stroke="#0b6e6d" stroke-width="3.1"/><use href="#s50" stroke="#109a98" stroke-width="3.04" stroke-dasharray="0.01 2.48"/><use href="#s50" stroke="#6fc2c1" stroke-width="1.18" stroke-dasharray="0.01 2.48" transform="translate(-0.35,-0.45)"/></g>
<g fill="none" stroke-linecap="round" stroke-linejoin="round"><defs><path id="s51" d="M180.4,44.0L180.6,44.5L181.0,44.7L181.4,44.7L181.8,44.4L182.3,44.3L182.8,44.5L183.0,45.2L183.0,46.0L183.6,46.5L184.1,46.7L184.4,47.1L184.4,47.4L184.2,47.7L183.8,48.1L183.4,48.7L183.9,49.4L184.6,50.0L184.7,50.6L184.6,51.1L184.5,51.5L184.6,51.7L184.8,51.9L185.2,52.3L185.7,53.0L185.2,53.7L184.7,54.2L184.5,54.5L184.6,54.8L184.6,55.2L184.6,55.6L184.5,55.9L184.3,56.2"/></defs><use href="#s51" stroke="#0b6e6d" stroke-width="3.1"/><use href="#s51" stroke="#109a98" stroke-width="3.04" stroke-dasharray="0.01 2.48"/><use href="#s51" stroke="#6fc2c1" stroke-width="1.18" stroke-dasharray="0.01 2.48" transform="translate(-0.35,-0.45)"/></g>
<g fill="none" stroke-linecap="round" stroke-linejoin="round"><defs><path id="s52" d="M160.0,56.6L159.6,56.3L159.2,56.2L158.9,56.3L158.5,56.6L158.1,57.0L157.7,57.1L157.1,56.9L156.2,56.8L155.7,57.5L155.4,58.1L155.1,58.3L154.8,58.3L154.4,58.3L154.0,58.5L153.7,58.9L153.9,59.6L154.3,60.1L154.5,60.4L154.5,60.7L154.5,61.2L154.6,61.6L154.7,61.8L155.0,62.0L155.5,62.7L155.4,63.3L155.0,63.6L154.5,63.6L154.2,63.4L153.8,63.4L153.4,63.8L153.3,64.5L153.2,65.2L152.3,65.6L151.7,65.9L151.6,66.3L151.7,66.8L151.8,67.2L151.9,67.5L151.7,67.9L151.3,68.7L151.4,69.3L151.9,69.7L152.3,70.0L152.5,70.1L152.6,70.3L152.8,70.8L153.2,71.3L154.0,71.2L154.7,70.8L155.1,70.7L155.4,70.9L155.8,71.1L156.3,71.1L156.7,70.9L157.0,70.2L157.4,69.4L158.2,69.4L159.0,69.4L159.3,69.0L159.3,68.5L159.3,68.1L159.2,67.7L159.4,67.4L159.8,67.2"/></defs><use href="#s52" stroke="#0b6e6d" stroke-width="3.1"/><use href="#s52" stroke="#109a98" stroke-width="3.04" stroke-dasharray="0.01 2.48"/><use href="#s52" stroke="#6fc2c1" stroke-width="1.18" stroke-dasharray="0.01 2.48" transform="translate(-0.35,-0.45)"/></g>
<g fill="none" stroke-linecap="round" stroke-linejoin="round"><defs><path id="s53" d="M157.0,63.8L157.5,63.8L157.9,63.7L158.1,63.4L158.2,62.9L158.3,62.4L158.5,62.1L158.9,62.0L159.4,62.0"/></defs><use href="#s53" stroke="#0b6e6d" stroke-width="3.1"/><use href="#s53" stroke="#109a98" stroke-width="3.04" stroke-dasharray="0.01 2.48"/><use href="#s53" stroke="#6fc2c1" stroke-width="1.18" stroke-dasharray="0.01 2.48" transform="translate(-0.35,-0.45)"/></g>
<g fill="none" stroke-linecap="round" stroke-linejoin="round"><defs><path id="s54" d="M159.4,70.4L158.9,70.5L158.6,70.7L158.4,71.1L158.3,71.6L158.3,72.1L158.2,72.4L157.7,72.7L157.2,73.4L157.4,74.0L157.8,74.5L158.1,74.7L158.2,74.8L158.2,75.1L158.3,75.6L158.5,76.2L159.3,76.5L160.3,76.6L160.6,77.2L160.9,77.8L161.3,78.1L161.7,78.0L162.2,77.8L162.7,77.6L163.2,77.8"/></defs><use href="#s54" stroke="#0b6e6d" stroke-width="3.1"/><use href="#s54" stroke="#109a98" stroke-width="3.04" stroke-dasharray="0.01 2.48"/><use href="#s54" stroke="#6fc2c1" stroke-width="1.18" stroke-dasharray="0.01 2.48" transform="translate(-0.35,-0.45)"/></g>
<g fill="none" stroke-linecap="round" stroke-linejoin="round"><defs><path id="s55" d="M168.4,58.4L168.3,58.9L168.4,59.2L168.6,59.4L168.9,59.6L169.3,59.7L169.9,59.9L170.0,60.5L169.9,61.6L170.5,62.2L171.2,62.4L171.6,62.6L171.7,63.0L171.6,63.5L171.5,63.9L171.5,64.4L172.1,65.0L172.5,65.7L172.1,66.3L171.6,66.5L171.3,66.7L171.1,66.9L171.0,67.3L171.1,67.7L171.1,68.2"/></defs><use href="#s55" stroke="#0b6e6d" stroke-width="3.1"/><use href="#s55" stroke="#109a98" stroke-width="3.04" stroke-dasharray="0.01 2.48"/><use href="#s55" stroke="#6fc2c1" stroke-width="1.18" stroke-dasharray="0.01 2.48" transform="translate(-0.35,-0.45)"/></g>
<g fill="none" stroke-linecap="round" stroke-linejoin="round"><defs><path id="s56" d="M169.0,80.6L168.9,81.2L169.2,81.6L169.7,81.8L170.3,81.9L170.8,82.2L170.8,82.8L170.4,83.5L170.5,84.2L171.1,84.9L171.1,85.5L170.8,85.8L170.4,85.9L170.0,85.9L169.5,86.0L169.2,86.4L169.2,87.4L168.8,88.0L168.1,88.1L167.6,88.1L167.3,88.3L167.1,88.6L167.1,88.9L167.3,89.2L167.6,89.5L167.7,89.8L167.7,90.2L167.7,90.6L167.9,91.0L168.3,91.2L168.8,91.0L169.5,90.5L170.2,90.5L170.9,91.1L171.4,91.2L171.8,91.0L172.0,90.6L172.1,90.2L172.4,89.8L173.0,89.7L174.0,90.0L174.6,89.5L175.0,88.8L175.5,88.6L175.9,88.8L176.3,88.9L176.7,88.8L177.1,88.5L177.0,87.8L176.6,87.3L176.3,87.2L176.2,87.0L176.0,86.4L175.8,85.9L175.6,85.6L175.1,85.4L174.6,84.8L174.8,84.1L175.4,83.8L175.7,83.8L175.9,83.7L176.2,83.3L176.3,82.7L176.5,82.1L177.5,81.9L178.2,81.4L178.2,80.7L178.2,80.2L178.2,79.8L178.4,79.6L178.9,79.5L179.5,79.4L180.1,79.1L180.3,78.3L180.5,77.7L180.9,77.6L181.2,77.6L181.5,77.8L181.7,77.9L182.0,78.0L182.4,78.0"/></defs><use href="#s56" stroke="#0b6e6d" stroke-width="3.1"/><use href="#s56" stroke="#109a98" stroke-width="3.04" stroke-dasharray="0.01 2.48"/><use href="#s56" stroke="#6fc2c1" stroke-width="1.18" stroke-dasharray="0.01 2.48" transform="translate(-0.35,-0.45)"/></g>
<g fill="none" stroke-linecap="round" stroke-linejoin="round"><defs><path id="s57" d="M179.2,86.0L179.0,86.6L179.1,87.0L179.4,87.3L179.9,87.6L180.3,87.9L180.3,88.4L180.3,89.2L180.8,89.8L181.7,89.9L182.2,90.2L182.3,90.6L182.4,91.0L182.6,91.2L183.0,91.4L183.4,91.3L184.0,90.6L184.5,90.2L185.1,90.4L185.5,90.6L186.0,90.5L186.3,90.2L186.3,89.6L186.3,88.9L186.8,88.3L187.8,88.0L188.1,87.5L188.0,87.0L187.9,86.6L187.8,86.3L187.9,86.0L188.3,85.5L188.6,84.7L188.1,84.1L187.6,83.9L187.3,83.8L187.1,83.5L187.0,83.1L187.0,82.6L187.0,82.3L186.5,81.8L186.0,81.1L186.1,80.6L186.6,80.2L187.0,80.1L187.3,80.0L187.5,79.6L187.5,79.2L187.4,78.7"/></defs><use href="#s57" stroke="#0b6e6d" stroke-width="3.1"/><use href="#s57" stroke="#109a98" stroke-width="3.04" stroke-dasharray="0.01 2.48"/><use href="#s57" stroke="#6fc2c1" stroke-width="1.18" stroke-dasharray="0.01 2.48" transform="translate(-0.35,-0.45)"/></g>
<g fill="none" stroke-linecap="round" stroke-linejoin="round"><defs><path id="s58" d="M182.8,80.6L182.6,81.2L182.8,81.7L183.4,82.1L183.8,82.6L183.8,83.2L183.5,83.8L183.4,84.4L183.9,84.8"/></defs><use href="#s58" stroke="#0b6e6d" stroke-width="3.1"/><use href="#s58" stroke="#109a98" stroke-width="3.04" stroke-dasharray="0.01 2.48"/><use href="#s58" stroke="#6fc2c1" stroke-width="1.18" stroke-dasharray="0.01 2.48" transform="translate(-0.35,-0.45)"/></g>
<g fill="none" stroke-linecap="round" stroke-linejoin="round" opacity="0.75"><defs><path id="s59" d="M171.4,91.4L171.3,91.9L171.4,92.3L171.7,92.5L172.1,92.7L172.6,92.9L172.9,93.2L173.1,94.0L173.6,94.7L174.6,94.7L175.2,94.8L175.4,95.2L175.6,95.6L175.9,95.9L176.4,96.1L177.0,95.6L178.0,95.2L179.0,95.9L179.8,95.7L180.3,95.0L180.8,94.8L181.3,94.9L181.9,95.1L182.4,95.0L182.8,94.4"/></defs><use href="#s59" stroke="#0c7876" stroke-width="2.0"/><use href="#s59" stroke="#109a98" stroke-width="1.36"/><use href="#s59" stroke="#57b8b6" stroke-width="0.50" transform="translate(-0.3,-0.4)"/></g>
<g fill="none" stroke-linecap="round" stroke-linejoin="round"><defs><path id="s60" d="M193.0,59.0L192.4,59.3L192.2,59.7L192.2,60.2L192.3,60.7L192.2,61.2L191.6,61.6L190.7,62.1L190.9,63.3L190.2,64.2L189.4,64.5L189.3,65.0L189.4,65.4L189.5,65.8L189.5,66.4L188.9,66.8L187.8,67.1L187.7,68.3L187.4,69.0L186.7,69.2L186.2,69.2L185.8,69.3L185.6,69.6L185.5,70.1L185.5,70.7"/></defs><use href="#s60" stroke="#bab071" stroke-width="2.2"/><use href="#s60" stroke="#efe291" stroke-width="1.50"/><use href="#s60" stroke="#f3eab2" stroke-width="0.55" transform="translate(-0.3,-0.4)"/></g>
<g fill="none" stroke-linecap="round" stroke-linejoin="round"><defs><path id="s61" d="M179.8,68.6L179.9,69.2L180.3,69.5L180.8,69.4L181.4,69.3L181.9,69.3L182.2,69.8L182.1,70.4L181.8,71.0L181.9,71.6L182.1,72.2L182.0,72.8L181.5,73.0L180.8,72.9L180.2,73.0L179.9,73.4L179.9,74.1"/></defs><use href="#s61" stroke="#bab071" stroke-width="2.2"/><use href="#s61" stroke="#efe291" stroke-width="1.50"/><use href="#s61" stroke="#f3eab2" stroke-width="0.55" transform="translate(-0.3,-0.4)"/></g>
<g fill="none" stroke-linecap="round" stroke-linejoin="round"><defs><path id="s62" d="M197.2,72.8L197.2,73.5L197.5,73.9L198.2,74.1L198.8,74.4L198.9,74.9L198.8,75.6L198.9,76.2L199.5,76.5"/></defs><use href="#s62" stroke="#bab071" stroke-width="2.2"/><use href="#s62" stroke="#efe291" stroke-width="1.50"/><use href="#s62" stroke="#f3eab2" stroke-width="0.55" transform="translate(-0.3,-0.4)"/></g>
<g fill="none" stroke-linecap="round" stroke-linejoin="round"><defs><path id="s63" d="M200.0,71.6L200.1,72.1L200.5,72.4L200.9,72.4L201.4,72.3L201.9,72.3L202.3,72.6L202.3,73.3L202.0,74.1L202.3,74.7L202.7,75.3L202.7,75.9L202.3,76.2L201.7,76.4L201.3,76.6L201.1,77.0L201.2,77.6"/></defs><use href="#s63" stroke="#bab071" stroke-width="2.2"/><use href="#s63" stroke="#efe291" stroke-width="1.50"/><use href="#s63" stroke="#f3eab2" stroke-width="0.55" transform="translate(-0.3,-0.4)"/></g>
<g fill="none" stroke-linecap="round" stroke-linejoin="round"><defs><path id="s64" d="M212.0,73.4L212.2,73.9L212.5,74.2L213.0,74.2L213.6,74.1L214.1,74.1L214.4,74.5L214.6,75.0L214.8,75.5"/></defs><use href="#s64" stroke="#bab071" stroke-width="2.2"/><use href="#s64" stroke="#efe291" stroke-width="1.50"/><use href="#s64" stroke="#f3eab2" stroke-width="0.55" transform="translate(-0.3,-0.4)"/></g>
<g fill="none" stroke-linecap="round" stroke-linejoin="round"><defs><path id="s65" d="M199.4,72.4L199.1,72.8L199.0,73.2L199.2,73.5L199.4,73.8L199.8,74.1L200.1,74.5L200.0,75.2L199.6,76.1L200.2,76.8L200.8,77.3L200.8,77.8L200.7,78.3L200.5,78.7L200.5,79.0L200.7,79.3L201.2,79.6"/></defs><use href="#s65" stroke="#bab071" stroke-width="2.2"/><use href="#s65" stroke="#efe291" stroke-width="1.50"/><use href="#s65" stroke="#f3eab2" stroke-width="0.55" transform="translate(-0.3,-0.4)"/></g>
<g fill="none" stroke-linecap="round" stroke-linejoin="round"><defs><path id="s66" d="M212.0,42.8L211.4,42.6L211.0,42.6L210.8,42.8L210.7,43.3L210.8,44.0L210.9,44.6L210.5,45.0L209.3,45.0L208.6,45.3L208.7,46.0L208.9,46.7L209.0,47.1L209.1,47.2L208.9,47.2L208.4,47.6L207.8,48.3L207.9,49.0L208.8,49.3L209.5,49.4L209.7,49.4L209.7,49.8L209.8,50.4L210.1,51.2L210.7,51.3L211.3,50.7L211.6,50.2L211.5,49.9L211.5,49.9L211.7,49.8L212.3,49.7L213.2,49.7L213.7,49.2L213.4,48.1L213.3,47.5L213.4,47.3L213.7,47.2L214.2,47.1L214.8,47.0L215.3,46.8L215.2,45.9L214.8,44.9L214.9,44.5L215.2,44.4L215.5,44.3L215.8,44.3L216.3,44.4L216.8,44.4L217.1,43.7L216.9,42.5L217.1,42.0L217.6,42.0L218.1,42.1L218.6,42.3L218.9,42.5L219.3,42.4L219.8,41.5L220.3,40.7L220.8,40.9L221.3,41.3L221.4,41.7L221.5,42.1L221.6,42.3L222.0,42.3L223.0,42.0L223.7,41.9L224.0,42.2L224.0,42.7L223.9,43.1L223.6,43.4L223.3,43.6L223.2,44.1L223.8,44.6L224.7,45.1L224.9,45.6L224.7,46.0L224.3,46.2L223.8,46.3L223.3,46.4L222.9,46.7L223.1,47.5L223.8,48.4L223.7,48.9L223.3,49.2L222.8,49.2L222.4,49.2L222.0,49.2L221.7,49.4L221.5,49.6"/></defs><use href="#s66" stroke="#1e809c" stroke-width="3.1"/><use href="#s66" stroke="#2bb3d9" stroke-width="3.04" stroke-dasharray="0.01 2.48"/><use href="#s66" stroke="#7fd1e8" stroke-width="1.18" stroke-dasharray="0.01 2.48" transform="translate(-0.35,-0.45)"/></g>
<g fill="none" stroke-linecap="round" stroke-linejoin="round"><defs><path id="s67" d="M215.6,47.0L215.3,47.6L215.4,48.1L215.7,48.3L216.2,48.3L216.8,48.3L217.5,48.7L217.5,49.3L216.6,50.0L215.9,50.6L216.2,51.1L216.7,51.6L216.9,52.1L216.8,52.6L216.3,52.8L215.5,52.6L214.6,52.4L214.3,52.9L214.1,53.7L213.6,54.1L213.2,54.1L213.0,54.0L212.9,53.6L212.4,53.1L211.6,52.9L211.3,53.5L211.3,54.3L211.3,54.8L211.4,55.0L211.4,55.0L211.1,55.1L210.6,55.5L210.1,56.2L210.3,56.7L211.0,57.0L211.6,57.1L212.0,57.0L212.1,57.2L212.1,57.8L212.4,58.7L213.0,59.1L213.9,58.3L214.2,57.8L214.4,57.7L214.8,57.9L215.4,58.2L215.9,58.5L216.2,58.5L216.8,57.7L217.6,57.1L218.1,57.5L218.3,58.1L218.2,58.6L218.2,58.9L218.2,59.2L218.5,59.5L218.9,59.5"/></defs><use href="#s67" stroke="#1e809c" stroke-width="3.1"/><use href="#s67" stroke="#2bb3d9" stroke-width="3.04" stroke-dasharray="0.01 2.48"/><use href="#s67" stroke="#7fd1e8" stroke-width="1.18" stroke-dasharray="0.01 2.48" transform="translate(-0.35,-0.45)"/></g>
<g fill="none" stroke-linecap="round" stroke-linejoin="round"><defs><path id="s68" d="M218.0,45.2L217.8,45.9L217.9,46.4L218.4,46.5L219.0,46.4L219.7,46.4L220.3,46.7L220.1,47.4L219.2,48.3L219.1,48.8L219.7,49.4L220.1,50.0L220.1,50.5L219.7,50.8L219.2,50.8L218.5,50.7L218.0,50.9"/></defs><use href="#s68" stroke="#1e809c" stroke-width="3.1"/><use href="#s68" stroke="#2bb3d9" stroke-width="3.04" stroke-dasharray="0.01 2.48"/><use href="#s68" stroke="#7fd1e8" stroke-width="1.18" stroke-dasharray="0.01 2.48" transform="translate(-0.35,-0.45)"/></g>
<g fill="none" stroke-linecap="round" stroke-linejoin="round"><defs><path id="s69" d="M212.0,58.4L211.9,59.0L212.0,59.3L212.3,59.6L212.7,59.7L213.2,60.0L213.5,60.4L213.3,61.3L213.5,62.2L214.4,62.6L214.8,63.0L214.8,63.5L214.7,63.8L214.6,64.2L214.6,64.6L215.0,65.0L216.0,65.4L216.1,66.3L215.9,67.0L216.0,67.4L216.2,67.6L216.5,67.8L217.0,67.9L217.4,68.3L217.3,69.2L217.4,70.1L218.0,70.4L218.4,70.5L218.7,70.5L219.0,70.7L219.1,71.0L219.0,71.6L218.8,72.4L219.3,72.9L219.9,73.2L220.2,73.4L220.4,73.7L220.3,74.1L220.1,74.4L219.7,74.6L219.4,75.1L219.5,75.7L219.7,76.1L219.7,76.5L219.5,76.8L219.3,76.9L218.9,76.9L218.5,76.8L217.8,76.6L217.4,76.9L217.2,77.2L217.0,77.4L216.8,77.6L216.6,77.7L216.5,77.7L216.2,77.7L215.6,77.5L215.0,77.5L214.6,77.6L214.4,77.9L214.3,78.2L214.3,78.4L214.4,78.7L214.4,79.0L214.0,79.4L213.4,79.9L213.1,80.3L213.3,80.7L213.6,81.1L213.9,81.2L214.2,81.4L214.4,81.8L214.3,82.5L214.5,83.1L214.9,83.3L215.4,83.2L215.7,83.0L215.9,82.7L216.2,82.6L216.5,82.5L216.8,82.8"/></defs><use href="#s69" stroke="#218ba9" stroke-width="2.3"/><use href="#s69" stroke="#2bb3d9" stroke-width="1.56"/><use href="#s69" stroke="#6ac9e4" stroke-width="0.57" transform="translate(-0.3,-0.4)"/></g>
<g fill="none" stroke-linecap="round" stroke-linejoin="round"><defs><path id="s70" d="M173.8,44.0L173.9,44.4L174.1,44.7L174.3,44.8L174.6,44.9L175.0,44.8L175.5,44.8L176.0,45.0L176.2,45.8L176.3,46.5L176.6,46.8L176.9,46.9L177.1,47.0L177.4,47.1L177.6,47.2L177.9,47.5L178.0,48.2L178.2,49.0L178.6,49.2L178.9,49.2L179.2,49.1L179.5,49.0L179.9,49.0L180.2,49.3L180.4,50.0L180.6,50.8L181.1,51.0L181.6,50.9L181.9,50.9L182.3,51.1L182.5,51.4L182.4,51.8L182.0,52.4L181.8,53.0L182.0,53.4L182.3,53.7L182.4,54.1L182.4,54.5L182.0,54.8L181.6,54.8L180.9,54.6L180.5,54.5L180.3,54.6L180.0,54.7L179.7,54.8L179.3,54.9L179.0,54.8L178.6,54.4L178.0,53.8L177.3,53.9L176.8,54.4L176.5,54.7L176.3,54.8L176.0,54.8L175.6,54.7L175.3,54.5L174.9,54.4"/></defs><use href="#s70" stroke="#ac9729" stroke-width="3.1"/><use href="#s70" stroke="#f0d33a" stroke-width="3.04" stroke-dasharray="0.01 2.48"/><use href="#s70" stroke="#f6e488" stroke-width="1.18" stroke-dasharray="0.01 2.48" transform="translate(-0.35,-0.45)"/></g>
<g fill="none" stroke-linecap="round" stroke-linejoin="round"><defs><path id="s71" d="M173.8,44.0L173.7,44.8L174.1,45.2L174.8,45.4L175.3,45.6L175.4,46.3L175.2,47.2L175.7,47.9L176.6,48.7L176.2,49.9L176.5,50.6L177.2,50.9L177.6,51.2L177.7,51.6L177.4,52.0L176.9,52.3L176.4,52.8L176.5,53.6L176.6,54.2L176.3,54.6L175.9,54.7L175.5,54.5L175.0,54.2L174.4,54.2L173.8,54.9L173.3,55.5L172.7,55.4L172.3,55.2L172.0,55.1L171.8,55.1L171.5,55.2L170.9,55.6L170.2,55.8L169.5,55.2L169.1,54.7L168.8,54.7L168.4,54.7L168.0,54.8L167.6,54.8L167.2,54.7L166.6,54.0L166.0,53.7L165.4,54.0L165.0,54.3L164.8,54.4L164.8,54.4L164.6,54.5L164.1,54.5L163.3,54.5L162.9,55.0L162.9,55.6L162.8,56.0L162.8,56.2L162.7,56.3L162.4,56.7L162.0,57.2L162.0,57.8L162.7,58.4L163.0,58.6L163.1,58.8L163.2,59.0L163.3,59.4L163.3,59.9L163.5,60.3L164.3,60.7L164.9,61.3L164.8,61.9L164.7,62.4L164.7,62.7L164.8,62.9L165.0,63.2L165.6,63.6L165.8,64.4L165.2,65.2L165.1,65.7L165.2,66.0L165.4,66.3L165.5,66.6L165.6,67.0L165.4,67.5L164.6,67.9L164.2,68.5L164.2,69.1L164.2,69.6L164.0,69.9L163.8,70.0L163.5,70.1L163.0,70.3L162.6,70.9L162.9,71.6L163.2,72.2L163.2,72.5L163.1,72.6L163.0,72.9L162.9,73.3L162.9,73.8L163.3,74.2L164.1,74.4L164.5,74.6L164.7,74.8L164.8,75.1L164.9,75.4L165.2,75.6L165.6,75.8L166.1,75.5L166.4,74.9L166.5,74.5L166.7,74.2L167.0,74.1L167.5,73.9L167.8,73.6L168.0,73.3L168.0,72.9"/></defs><use href="#s71" stroke="#ac9729" stroke-width="3.1"/><use href="#s71" stroke="#f0d33a" stroke-width="3.04" stroke-dasharray="0.01 2.48"/><use href="#s71" stroke="#f6e488" stroke-width="1.18" stroke-dasharray="0.01 2.48" transform="translate(-0.35,-0.45)"/></g>
<g fill="none" stroke-linecap="round" stroke-linejoin="round"><defs><path id="s72" d="M176.2,53.6L175.7,54.0L175.5,54.3L175.6,54.7L175.9,55.2L176.0,55.7L175.8,56.2L174.9,56.8L174.9,57.8L175.1,58.8L174.6,59.3L174.0,59.5L173.7,59.7L173.6,60.0L173.7,60.5L174.2,61.1L174.0,62.0L173.4,62.9L173.8,63.5L174.4,63.8L174.7,63.9L175.0,64.3L174.9,64.8L174.6,65.4L174.8,66.2L175.4,67.0L175.3,67.6L174.9,67.9L174.6,68.1L174.4,68.2L174.2,68.5L174.2,69.2L174.2,70.0L173.5,70.5L172.9,70.6L172.6,70.8L172.5,70.9L172.4,71.2L172.3,71.6L172.2,72.1L171.6,72.4L170.7,72.4L170.3,72.5L170.1,72.6L170.0,72.8L169.8,73.1L169.8,73.4L169.7,73.8L169.2,74.2L168.3,74.3L167.9,74.6L167.8,75.1L167.9,75.6L168.0,75.9L168.1,76.1L168.0,76.4L167.6,77.0L167.5,77.7L167.8,78.1L168.3,78.2L168.6,78.2L168.9,78.2L169.2,78.3L169.6,78.7L170.2,79.2L170.7,79.2L171.2,78.9L171.4,78.6L171.5,78.4L171.7,78.3L172.1,78.2L172.8,78.2L173.4,77.9L173.7,77.0L173.9,76.5L174.3,76.4L174.6,76.4L175.1,76.3L175.4,76.0L175.5,75.4L175.3,74.5L175.7,73.8L176.4,73.4L176.6,72.9L176.5,72.4L176.1,72.1L175.8,71.8L175.7,71.4L175.9,71.0"/></defs><use href="#s72" stroke="#ac9729" stroke-width="3.1"/><use href="#s72" stroke="#f0d33a" stroke-width="3.04" stroke-dasharray="0.01 2.48"/><use href="#s72" stroke="#f6e488" stroke-width="1.18" stroke-dasharray="0.01 2.48" transform="translate(-0.35,-0.45)"/></g>
<g fill="none" stroke-linecap="round" stroke-linejoin="round"><defs><path id="s73" d="M177.4,57.8L177.7,58.2L177.9,58.4L178.2,58.4L178.5,58.3L178.9,58.1L179.5,58.0L180.0,58.3L180.3,59.2L180.7,59.7L181.3,59.7L181.7,59.7L182.0,59.7L182.3,59.9L182.4,60.2L182.4,60.8L182.4,61.7L183.2,62.0L183.8,62.2L184.0,62.6L184.1,62.9L184.0,63.1L183.8,63.6L183.8,64.1L184.4,64.6L185.3,64.7L185.7,65.2L185.7,65.7L185.6,66.1L185.7,66.4L186.1,66.7L186.5,66.6L187.0,66.2L187.4,65.7L187.7,65.6L187.9,65.6L188.3,65.6L188.7,65.4L189.0,65.1L189.1,64.5L189.1,63.5L189.8,63.1L190.5,62.9L190.8,62.5L190.8,62.1L190.7,61.7L190.6,61.3L190.6,60.9L190.9,60.6"/></defs><use href="#s73" stroke="#ac9729" stroke-width="3.1"/><use href="#s73" stroke="#f0d33a" stroke-width="3.04" stroke-dasharray="0.01 2.48"/><use href="#s73" stroke="#f6e488" stroke-width="1.18" stroke-dasharray="0.01 2.48" transform="translate(-0.35,-0.45)"/></g>
<g fill="none" stroke-linecap="round" stroke-linejoin="round"><defs><path id="s74" d="M184.0,66.8L184.0,67.4L184.1,67.7L184.4,67.9L184.9,68.1L185.4,68.3L185.7,68.6L185.7,69.4L186.1,70.1L187.0,70.2L187.7,70.3L187.9,70.6L188.0,71.0L188.1,71.3L188.4,71.5L188.9,71.6L189.4,71.1L189.9,70.5L190.2,70.3L190.5,70.3L190.8,70.3L191.2,70.2L191.6,69.9L191.6,69.3L191.5,68.4L191.9,67.9L192.6,67.4L192.8,66.8L192.5,66.4L192.2,66.0L192.2,65.5L192.5,65.2L193.1,65.2L193.4,65.8L193.4,66.4L193.6,66.9L194.3,67.3L194.8,67.8L194.6,68.5L194.7,69.2L195.3,69.6L195.9,69.2L196.0,68.9L196.0,68.6L196.3,68.3L196.8,68.0L197.3,67.7L197.4,67.3L197.3,66.8"/></defs><use href="#s74" stroke="#ac9729" stroke-width="3.1"/><use href="#s74" stroke="#f0d33a" stroke-width="3.04" stroke-dasharray="0.01 2.48"/><use href="#s74" stroke="#f6e488" stroke-width="1.18" stroke-dasharray="0.01 2.48" transform="translate(-0.35,-0.45)"/></g>
<g fill="none" stroke-linecap="round" stroke-linejoin="round"><defs><path id="s75" d="M199.0,53.0L199.0,53.5L199.2,53.9L199.6,54.0L200.0,54.1L200.6,54.2L200.9,54.6L200.8,55.3L200.4,56.0L200.6,56.7L200.9,57.4L200.8,57.9L200.3,58.1L199.7,58.2L199.3,58.4L199.2,59.0L199.7,59.6L200.2,60.1L200.1,60.6L200.0,61.1L200.1,61.5L200.4,61.8L200.9,61.8L201.4,61.4L201.9,61.0L202.5,61.1L203.1,61.3L203.5,61.2L203.8,60.9L203.9,60.4L203.8,59.8L204.1,59.2L205.1,59.1L205.9,58.9L206.1,58.3L206.2,57.7L206.3,57.4L206.5,57.3L206.7,57.3L207.0,57.3L207.5,57.3"/></defs><use href="#s75" stroke="#ac9729" stroke-width="3.1"/><use href="#s75" stroke="#f0d33a" stroke-width="3.04" stroke-dasharray="0.01 2.48"/><use href="#s75" stroke="#f6e488" stroke-width="1.18" stroke-dasharray="0.01 2.48" transform="translate(-0.35,-0.45)"/></g>
<g fill="none" stroke-linecap="round" stroke-linejoin="round"><defs><path id="s76" d="M198.4,60.2L198.3,60.8L198.5,61.2L198.9,61.4L199.4,61.5L199.9,61.8L200.1,62.3L200.0,63.3L200.7,63.9L201.7,64.2L201.8,64.9L201.7,65.4L201.7,65.7L201.8,66.0L202.1,66.2L202.7,66.3L203.5,66.5L203.8,67.3L203.9,68.0L204.2,68.3L204.5,68.3L204.9,68.3L205.2,68.2L205.5,68.1L205.9,68.2"/></defs><use href="#s76" stroke="#ac9729" stroke-width="3.1"/><use href="#s76" stroke="#f0d33a" stroke-width="3.04" stroke-dasharray="0.01 2.48"/><use href="#s76" stroke="#f6e488" stroke-width="1.18" stroke-dasharray="0.01 2.48" transform="translate(-0.35,-0.45)"/></g>
<g fill="none" stroke-linecap="round" stroke-linejoin="round"><defs><path id="s77" d="M200.0,53.6L200.0,54.1L200.1,54.5L200.4,54.7L200.8,54.9L201.3,55.0L201.6,55.1L201.9,55.6L202.3,56.4L202.9,56.5L203.4,56.1L203.6,55.7L203.7,55.4L204.0,55.3L204.5,55.3L204.9,55.5L205.3,55.8L205.9,55.7L206.4,55.5L206.8,55.4L207.1,55.5L207.3,55.8L207.3,56.2L207.0,56.7L206.8,57.3L207.0,57.7L207.3,58.1L207.5,58.5L207.4,58.8L207.2,59.1L206.8,59.3L206.1,59.5L205.7,60.0L205.8,60.8L205.6,61.4L205.3,61.6L204.9,61.6L204.6,61.5L204.2,61.6L203.9,61.9L203.9,62.6L204.4,63.2L204.6,63.6L204.5,63.9L204.3,64.2L204.3,64.6L204.3,65.1L204.7,65.4L205.5,65.5L206.1,65.7L206.3,66.0L206.5,66.3L206.7,66.6L207.0,66.7L207.3,66.8L207.7,66.7L208.6,66.5L209.1,66.8L209.3,67.3L209.5,67.7L209.6,67.8L209.7,67.9L209.9,68.0L210.4,68.2L211.1,68.4L211.4,69.0L211.4,69.6L211.4,70.1L211.5,70.3L211.8,70.4L212.1,70.7L212.4,71.1L212.4,71.7L211.9,72.1L211.5,72.3L211.2,72.4L211.1,72.5L210.9,72.8L210.7,73.2L210.6,73.5L210.5,73.8"/></defs><use href="#s77" stroke="#ac9729" stroke-width="3.1"/><use href="#s77" stroke="#f0d33a" stroke-width="3.04" stroke-dasharray="0.01 2.48"/><use href="#s77" stroke="#f6e488" stroke-width="1.18" stroke-dasharray="0.01 2.48" transform="translate(-0.35,-0.45)"/></g>
<g fill="none" stroke-linecap="round" stroke-linejoin="round"><defs><path id="s78" d="M201.8,58.4L201.7,59.0L202.0,59.4L202.4,59.5L203.0,59.6L203.5,59.8L203.6,60.4L203.2,61.2L203.3,62.0L204.0,62.8L204.0,63.4L203.6,63.8L203.2,64.0L202.8,64.2L202.7,64.7L202.9,65.5L202.7,66.3L201.8,66.9L201.6,67.5L201.7,68.0L201.7,68.5L201.7,68.7L201.6,68.9L201.2,69.2L200.8,69.9L201.0,70.5L201.5,70.8L201.9,70.8L202.1,70.8L202.3,70.8L202.6,71.1L202.8,71.4L202.9,71.8"/></defs><use href="#s78" stroke="#ac9729" stroke-width="3.1"/><use href="#s78" stroke="#f0d33a" stroke-width="3.04" stroke-dasharray="0.01 2.48"/><use href="#s78" stroke="#f6e488" stroke-width="1.18" stroke-dasharray="0.01 2.48" transform="translate(-0.35,-0.45)"/></g>
<g fill="none" stroke-linecap="round" stroke-linejoin="round"><defs><path id="s79" d="M207.2,63.8L207.4,64.2L207.6,64.5L207.9,64.6L208.3,64.5L208.8,64.4L209.2,64.3L209.5,64.5L209.7,64.8"/></defs><use href="#s79" stroke="#ac9729" stroke-width="3.1"/><use href="#s79" stroke="#f0d33a" stroke-width="3.04" stroke-dasharray="0.01 2.48"/><use href="#s79" stroke="#f6e488" stroke-width="1.18" stroke-dasharray="0.01 2.48" transform="translate(-0.35,-0.45)"/></g>
<g fill="none" stroke-linecap="round" stroke-linejoin="round"><defs><path id="s80" d="M207.8,74.2L207.3,74.4L207.1,74.6L207.0,74.9L207.0,75.2L207.1,75.7L207.1,76.3L206.7,76.7L205.7,77.0L205.4,77.7L205.5,78.4L205.5,78.8L205.3,79.1L205.0,79.2L204.5,79.3L203.9,79.4L203.5,80.1L203.3,81.0L202.7,81.2L202.2,81.1L201.9,80.9L201.6,80.8L201.2,81.0L200.9,81.4L200.8,82.3L200.4,82.7L199.7,82.7L199.2,82.8L198.9,83.0L198.8,83.4L198.9,83.7L199.3,84.0L199.7,84.2L200.0,84.6L200.0,84.9L200.0,85.3L200.3,85.7L200.7,85.9L201.1,85.8L201.7,85.3L202.4,85.2L203.1,85.7L203.6,85.9L204.1,85.7L204.2,85.3L204.3,84.9L204.6,84.6L205.0,84.4L205.5,84.7L205.8,85.3L206.0,85.8L206.2,85.9L206.4,86.0L206.7,86.1L207.1,86.5L207.2,86.9L206.8,87.4L206.2,87.8L205.9,88.0L205.9,88.2L205.8,88.5L205.7,88.9L205.5,89.4L205.0,89.6L204.0,89.6L203.4,89.9L203.3,90.5L203.1,90.9L203.0,91.2L202.7,91.3L202.4,91.3L201.8,91.1L201.0,91.2L200.6,92.0L200.4,92.6L200.1,92.8L199.9,92.8L199.6,92.8L199.2,92.7L198.6,92.7L198.1,93.3L197.8,94.1L197.4,94.3L197.0,94.3L196.7,94.2L196.4,94.2L196.0,94.2L195.7,94.6L195.3,95.5L194.7,95.9L193.9,95.6L193.4,95.5L193.1,95.7L192.8,96.0L192.7,96.4L192.7,96.8L192.6,97.2L192.0,97.5L191.6,97.9L191.4,98.3L191.7,98.7L192.1,98.9L192.6,98.8L193.0,98.8L193.4,99.2L193.9,99.8L194.3,100.0L194.7,99.8L195.0,99.4L195.1,98.9L195.4,98.5L196.2,98.5L197.2,98.6L197.7,97.8L198.1,97.3L198.4,97.2L198.8,97.2L199.2,97.3L199.6,97.4L200.1,97.1L200.5,96.2L201.1,95.7L201.9,95.7L202.5,95.6L202.6,95.2L202.7,94.9L202.8,94.5L203.1,94.2L203.7,94.2L204.1,94.6L204.3,95.0L204.4,95.3L204.4,95.4L204.6,95.5L204.9,95.9L205.3,96.4L205.1,97.0L204.5,97.5L204.2,97.8L204.1,97.9L204.1,98.1L204.0,98.5L204.0,99.0L203.8,99.5L202.8,99.9L202.3,100.5L202.4,101.2L202.5,101.6L202.4,101.9L202.3,102.2L201.8,102.4L201.2,102.7L201.0,103.5L201.3,104.5L201.1,104.9L200.7,105.2L200.5,105.4L200.2,105.6L200.0,105.8L200.1,106.4L200.4,107.4L199.8,108.0L199.1,108.3L198.9,108.6L198.8,108.9L198.9,109.3L199.0,109.8L198.9,110.3L198.1,110.8L197.5,111.3L197.5,111.9L197.5,112.4L197.5,112.7L197.4,112.8L197.3,112.9L197.1,113.2L196.6,113.8L196.7,114.5L197.2,114.9L197.7,115.2L197.8,115.4L197.8,115.7L197.9,116.1L198.3,116.5L198.8,116.6L199.3,116.3L199.6,116.0L199.7,115.7L199.7,115.5L200.0,115.4L200.6,115.2L201.2,114.7L201.1,113.8L201.2,112.9L201.8,112.6L202.3,112.3L202.5,111.9L202.4,111.5L202.1,111.0L201.8,110.4L202.4,109.6L203.0,108.9L202.8,108.3L202.4,107.9L202.3,107.7L202.2,107.4L202.3,107.0L202.7,106.7L203.4,106.1L203.3,105.3L203.1,104.7L203.1,104.3L203.4,104.1L203.7,103.9L204.1,103.9L204.7,103.8L205.0,103.2L205.0,102.2L205.3,101.8L205.8,101.6L206.3,101.5L206.5,101.5L206.6,101.5L206.8,101.4L207.2,101.2L207.8,101.0L208.2,101.2L208.4,101.6L208.3,102.0L208.1,102.4L207.9,102.9L208.3,103.5L208.8,104.2L208.6,104.9L208.1,105.3L207.8,105.5L207.7,105.7L207.7,106.0L207.8,106.6L207.9,107.2L207.2,107.8L206.5,108.4L206.6,109.0L206.7,109.6L206.6,110.0L206.5,110.2L206.2,110.4L205.8,110.8L205.6,111.4L206.1,112.1L206.5,112.5L206.6,112.8L206.6,113.1L206.6,113.4L206.8,113.8L207.1,114.1L207.8,114.0L208.4,113.6L208.8,113.5L209.0,113.6L209.3,113.8L209.8,113.9L210.3,113.8L210.5,113.3L210.6,112.4L211.0,111.9L211.5,111.8L212.0,111.7L212.3,111.4L212.4,111.0L212.3,110.6L211.9,110.2L211.6,109.6L211.8,109.0L212.1,108.5L212.1,108.0L211.9,107.7L211.5,107.6L211.2,107.6L210.8,107.6L210.5,107.4"/></defs><use href="#s80" stroke="#775a84" stroke-width="3.1"/><use href="#s80" stroke="#a67db8" stroke-width="3.04" stroke-dasharray="0.01 2.48"/><use href="#s80" stroke="#c9b1d4" stroke-width="1.18" stroke-dasharray="0.01 2.48" transform="translate(-0.35,-0.45)"/></g>
<g fill="none" stroke-linecap="round" stroke-linejoin="round"><defs><path id="s81" d="M199.4,85.6L199.2,86.1L199.2,86.5L199.4,86.8L199.8,87.0L200.2,87.3L200.5,87.8L200.1,88.4L199.6,89.2L199.9,90.0L200.2,90.7L199.9,91.2L199.5,91.4L199.0,91.6L198.7,91.9L198.7,92.3L198.8,92.8"/></defs><use href="#s81" stroke="#775a84" stroke-width="3.1"/><use href="#s81" stroke="#a67db8" stroke-width="3.04" stroke-dasharray="0.01 2.48"/><use href="#s81" stroke="#c9b1d4" stroke-width="1.18" stroke-dasharray="0.01 2.48" transform="translate(-0.35,-0.45)"/></g>
<g fill="none" stroke-linecap="round" stroke-linejoin="round"><defs><path id="s82" d="M203.0,116.2L203.3,116.6L203.6,116.8L203.9,116.9L204.3,116.7L204.8,116.5L205.2,116.4L205.8,116.7L206.6,117.2L207.4,116.7L207.7,116.2L208.0,116.0L208.3,116.0L208.7,116.0L209.2,116.1L209.6,116.1L210.2,115.6L210.8,115.1L211.3,115.2L211.6,115.5L211.8,115.7L211.9,115.9L212.1,116.1L212.5,116.2L213.3,116.0L214.0,116.1L214.2,116.6L214.3,117.0L214.3,117.3L214.4,117.6L214.6,117.8L215.0,117.9L215.7,117.8L216.3,117.8L216.5,118.1L216.7,118.4L216.8,118.6L216.9,118.7L217.0,118.8L217.1,118.9L217.3,119.0"/></defs><use href="#s82" stroke="#775a84" stroke-width="3.1"/><use href="#s82" stroke="#a67db8" stroke-width="3.04" stroke-dasharray="0.01 2.48"/><use href="#s82" stroke="#c9b1d4" stroke-width="1.18" stroke-dasharray="0.01 2.48" transform="translate(-0.35,-0.45)"/></g>
<g fill="none" stroke-linecap="round" stroke-linejoin="round"><defs><path id="s83" d="M200.6,100.0L200.8,100.4L201.0,100.7L201.3,100.8L201.7,100.7L202.2,100.6L202.6,100.5L202.9,100.7L203.1,101.0"/></defs><use href="#s83" stroke="#775a84" stroke-width="3.1"/><use href="#s83" stroke="#a67db8" stroke-width="3.04" stroke-dasharray="0.01 2.48"/><use href="#s83" stroke="#c9b1d4" stroke-width="1.18" stroke-dasharray="0.01 2.48" transform="translate(-0.35,-0.45)"/></g>
<g fill="none" stroke-linecap="round" stroke-linejoin="round"><defs><path id="s84" d="M222.2,43.4L221.6,43.9L221.3,44.3L221.4,44.6L221.8,44.8L222.4,45.1L223.1,45.6L223.1,46.3L221.8,46.9L221.2,47.6L221.6,48.1L222.1,48.6L222.3,49.1L222.4,49.4L222.3,49.7L221.5,50.0L220.2,50.3L220.3,51.2L221.0,52.1L221.2,52.7L220.9,53.0L220.5,53.1L219.9,53.2L219.2,53.5L218.9,54.1L219.7,54.8L220.3,55.4L220.5,55.7L220.5,55.7L220.2,55.5L219.9,55.5L220.0,55.8L220.5,56.4L221.1,56.8L221.6,56.6L221.8,56.0L221.6,55.4L221.4,54.6L221.6,54.0L222.6,54.0L224.0,54.3L224.2,53.3L224.0,52.2L224.2,51.8L224.4,51.7L224.8,51.7L225.5,51.9L226.3,52.2L226.9,51.8L226.7,50.4L226.9,49.7L227.3,49.6L227.8,49.7L228.2,49.9L228.6,50.1L229.0,50.2L229.4,50.2"/></defs><use href="#s84" stroke="#ac5044" stroke-width="3.1"/><use href="#s84" stroke="#f0705f" stroke-width="3.04" stroke-dasharray="0.01 2.48"/><use href="#s84" stroke="#f6a99f" stroke-width="1.18" stroke-dasharray="0.01 2.48" transform="translate(-0.35,-0.45)"/></g>
<g fill="none" stroke-linecap="round" stroke-linejoin="round"><defs><path id="s85" d="M228.2,45.2L228.4,45.8L228.6,46.1L228.8,46.3L229.1,46.3L229.4,46.0L230.0,45.4L230.6,44.8L231.3,45.3L231.8,46.5L232.2,46.9L232.5,46.9L232.9,46.6L233.2,46.2L233.6,45.7L234.2,45.3L234.8,46.2L235.4,47.4L236.0,47.3L236.4,46.8L236.7,46.4L237.0,46.0L237.5,45.8L238.0,46.0L238.3,47.3L238.9,48.1L239.6,47.7L240.2,47.1L240.8,46.8L241.2,47.0L241.5,47.5L241.3,48.2L240.7,49.1L240.8,49.7L241.4,49.8L242.0,50.0L242.3,50.5L242.4,51.0L242.2,51.4L241.4,51.4L240.2,51.4L239.7,51.9L240.0,52.5L240.3,53.1L240.3,53.6L240.0,54.1L239.6,54.3L239.1,54.0L238.3,53.2L237.8,52.7L237.6,52.9L237.4,53.2L236.9,53.5L236.5,53.7L236.2,53.9L236.0,53.8L235.4,52.9L234.7,52.2L234.2,52.3L233.9,52.8L233.7,53.4L233.7,53.8L233.7,54.2L233.4,54.5L232.4,54.2L231.4,53.9L231.0,54.2L231.0,54.7L231.0,55.2L231.3,55.5L231.7,55.7L232.1,56.0L231.9,56.5L231.1,57.1L230.7,57.7L230.6,58.2L230.9,58.6L231.4,58.7L232.0,58.5L232.8,58.1L233.5,58.3L233.5,59.3L233.6,60.2L233.9,60.6L234.3,60.7L234.6,60.5L234.9,60.1L235.6,59.5L236.4,59.3L236.7,60.3L236.8,61.2L236.9,61.6L237.1,61.8L237.4,61.7L237.7,61.6L238.1,61.4L238.6,61.1"/></defs><use href="#s85" stroke="#ac5044" stroke-width="3.1"/><use href="#s85" stroke="#f0705f" stroke-width="3.04" stroke-dasharray="0.01 2.48"/><use href="#s85" stroke="#f6a99f" stroke-width="1.18" stroke-dasharray="0.01 2.48" transform="translate(-0.35,-0.45)"/></g>
<g fill="none" stroke-linecap="round" stroke-linejoin="round"><defs><path id="s86" d="M233.0,64.4L232.9,65.0L232.8,65.3L232.9,65.6L233.3,65.8L233.9,65.7L234.4,65.3L234.9,64.8L235.3,64.8L236.0,65.5L236.7,66.0L237.2,65.9L237.5,65.5L237.4,65.0L237.2,64.2L237.3,63.3L238.2,63.3L239.3,64.0L239.9,64.2L240.1,63.9L240.1,63.5L240.2,63.2L240.5,62.7L241.0,62.3L241.6,62.4L242.0,63.4L242.3,64.2L242.5,64.4L242.7,64.3L243.1,64.1L243.7,64.0L244.4,64.2L244.7,64.8L244.1,65.5L243.4,66.0L243.1,66.2L243.1,66.3L243.3,66.6L243.6,67.4L243.6,68.2L243.1,68.6L242.0,68.2L241.4,67.9L241.3,67.8L241.3,67.8L241.1,68.1L240.7,68.6L240.2,69.3L239.6,69.5L239.0,68.6L238.7,67.8L238.7,67.5L238.5,67.4L238.1,67.5L237.6,67.7L237.2,68.3L236.7,68.9L236.1,68.6L235.5,68.0L234.9,67.7L234.4,67.8L234.2,68.0L234.2,68.4L234.3,68.8L234.3,69.4"/></defs><use href="#s86" stroke="#ac5044" stroke-width="3.1"/><use href="#s86" stroke="#f0705f" stroke-width="3.04" stroke-dasharray="0.01 2.48"/><use href="#s86" stroke="#f6a99f" stroke-width="1.18" stroke-dasharray="0.01 2.48" transform="translate(-0.35,-0.45)"/></g>
<g fill="none" stroke-linecap="round" stroke-linejoin="round"><defs><path id="s87" d="M229.4,72.2L229.6,72.8L229.7,73.2L229.8,73.4L230.2,73.4L230.6,73.1L231.2,72.5L231.7,71.9L232.4,72.3L233.1,73.4L233.6,73.7L234.0,73.5L234.3,73.1L234.4,72.6L234.6,71.9L235.1,71.4L236.0,72.1L236.9,73.0L237.4,72.6L237.6,72.1L237.7,71.6L237.9,71.1L238.3,70.7L238.8,70.8L239.6,72.0L240.4,72.5L240.9,71.9L241.3,71.3L241.7,71.0L242.1,70.9L242.4,71.0L242.6,71.8L243.0,72.9L243.7,73.1L244.4,72.4L244.9,71.9L245.3,71.7L245.8,71.9L246.1,72.4L246.0,72.9L245.5,73.4L244.9,73.8L244.7,74.0L244.8,74.1L245.0,74.4L245.2,75.0L245.2,75.8L244.8,76.2L243.8,75.9L242.9,75.4L242.5,75.5L242.5,75.8L242.4,76.1L242.2,76.5L241.8,77.0L241.4,77.4L240.8,76.8L240.3,75.8L240.1,75.4L239.9,75.4L239.5,75.6L239.0,75.8L238.7,76.1L238.4,76.6L237.9,76.5L237.2,75.7L236.5,75.2L236.0,75.3L235.7,75.8L235.7,76.4L236.0,77.0L236.3,77.4L236.2,77.8L235.5,78.1L234.8,78.4L234.5,78.9L234.5,79.4L234.9,79.8L235.5,79.8L236.3,79.5L237.1,79.2L237.4,79.7L237.4,80.4L237.6,80.9L237.9,81.2L238.2,81.4L238.5,81.4L238.9,80.8L239.7,79.9L240.4,79.9L240.7,80.5L240.9,81.0L241.0,81.3L241.2,81.6L241.3,81.8L241.8,81.8L242.7,81.0L243.6,80.5L244.0,81.1L244.1,81.9L244.2,82.5L244.3,82.8L244.6,82.9L245.0,82.8L245.6,82.4"/></defs><use href="#s87" stroke="#ac5044" stroke-width="3.1"/><use href="#s87" stroke="#f0705f" stroke-width="3.04" stroke-dasharray="0.01 2.48"/><use href="#s87" stroke="#f6a99f" stroke-width="1.18" stroke-dasharray="0.01 2.48" transform="translate(-0.35,-0.45)"/></g>
<g fill="none" stroke-linecap="round" stroke-linejoin="round"><defs><path id="s88" d="M246.2,83.0L245.5,83.2L245.1,83.6L245.2,84.0L245.6,84.4L246.1,84.9L246.4,85.6L246.1,86.2L245.1,86.1L244.1,85.7L243.8,85.7L243.8,85.9L243.7,86.2L243.4,86.6L243.0,87.1L242.7,87.5L242.1,87.0L241.3,86.1L240.9,85.8L240.6,86.0L240.2,86.4L240.0,86.8L240.1,87.1L240.3,87.2L240.5,87.4L240.4,87.6L240.0,87.8L239.6,88.1L239.4,88.7L239.5,89.3L239.9,89.6L240.8,89.3L241.8,88.9L242.3,89.3L242.4,90.1L242.7,90.8L243.1,91.1L243.5,91.1L243.8,90.7L244.1,90.2L244.5,89.6"/></defs><use href="#s88" stroke="#ac5044" stroke-width="3.1"/><use href="#s88" stroke="#f0705f" stroke-width="3.04" stroke-dasharray="0.01 2.48"/><use href="#s88" stroke="#f6a99f" stroke-width="1.18" stroke-dasharray="0.01 2.48" transform="translate(-0.35,-0.45)"/></g>
<g fill="none" stroke-linecap="round" stroke-linejoin="round"><defs><path id="s89" d="M239.0,89.6L238.6,89.1L238.2,88.9L238.0,88.8L237.7,89.0L237.5,89.5L237.2,90.2L236.8,91.0L236.1,90.8L235.3,89.8L234.9,89.4L234.6,89.5L234.4,89.6L234.2,90.0L234.0,90.5L233.8,91.2L233.4,91.6L232.5,91.1L231.6,90.9L231.1,91.1L231.0,91.5L231.1,91.8L231.3,92.2L231.2,92.9L230.7,93.5L230.1,93.3L229.7,92.8L229.7,92.3L229.9,91.9L229.9,91.5L229.6,91.2L229.0,91.1L228.1,91.7L227.3,92.0L227.0,91.8L226.9,91.4L226.9,91.0L226.8,90.7L226.6,90.3L226.2,89.9L225.7,89.9L225.2,90.7L225.2,91.4L225.3,91.8L225.3,92.1L225.1,92.3L224.5,92.4L223.9,92.0L223.4,91.3L223.1,91.0L222.9,91.3L222.5,91.5L222.0,91.6L221.6,91.7L221.3,91.8L221.2,91.8L221.0,91.0L220.6,90.2L220.2,89.8L219.8,89.8L219.4,90.0L219.3,90.3L219.3,90.7L219.2,91.5L218.9,92.3L218.4,92.2L217.8,91.9L217.4,91.6L217.1,91.5L216.8,91.4L216.6,91.4L216.4,91.7L216.2,92.6L215.9,93.6L215.3,93.7L214.9,93.5L214.7,93.1L214.6,92.8L214.3,92.5L213.7,92.3L213.1,92.5L213.1,93.2L213.3,93.8L213.5,94.3L213.8,94.4L213.9,94.5L213.8,94.6L213.5,95.0L212.8,95.7L212.5,96.4L212.9,96.9L213.5,97.0L214.0,96.8L214.5,96.5L214.9,96.3L215.3,96.4L215.5,96.8"/></defs><use href="#s89" stroke="#ac5044" stroke-width="3.1"/><use href="#s89" stroke="#f0705f" stroke-width="3.04" stroke-dasharray="0.01 2.48"/><use href="#s89" stroke="#f6a99f" stroke-width="1.18" stroke-dasharray="0.01 2.48" transform="translate(-0.35,-0.45)"/></g>
<g fill="none" stroke-linecap="round" stroke-linejoin="round"><defs><path id="s90" d="M234.8,90.8L234.4,91.4L234.3,91.8L234.5,92.1L235.0,92.3L235.7,92.3L236.5,92.3L236.8,92.7L236.4,93.9L236.4,95.0L237.1,95.1L237.8,94.9L238.3,94.6L238.6,94.4L238.9,94.4L239.2,94.7L239.2,95.2"/></defs><use href="#s90" stroke="#ac5044" stroke-width="3.1"/><use href="#s90" stroke="#f0705f" stroke-width="3.04" stroke-dasharray="0.01 2.48"/><use href="#s90" stroke="#f6a99f" stroke-width="1.18" stroke-dasharray="0.01 2.48" transform="translate(-0.35,-0.45)"/></g>
<g fill="none" stroke-linecap="round" stroke-linejoin="round"><defs><path id="s91" d="M216.8,93.4L216.7,92.8L216.7,92.4L216.5,92.2L216.1,92.2L215.6,92.4L215.2,92.8L215.0,93.4L214.8,93.7L214.2,93.5L213.6,93.1L212.9,93.0L212.4,93.2L212.2,93.8L212.5,94.3L213.2,94.7L214.0,95.0L214.2,95.4L213.8,95.9L213.5,96.5L213.5,97.1L213.9,97.6L214.4,97.6L215.0,97.0L215.7,96.3L216.1,96.1L216.4,96.5L216.9,96.9L217.5,97.1L218.0,97.0L218.2,96.8L218.1,96.5L218.1,95.9"/></defs><use href="#s91" stroke="#ac5044" stroke-width="3.1"/><use href="#s91" stroke="#f0705f" stroke-width="3.04" stroke-dasharray="0.01 2.48"/><use href="#s91" stroke="#f6a99f" stroke-width="1.18" stroke-dasharray="0.01 2.48" transform="translate(-0.35,-0.45)"/></g>
<g fill="none" stroke-linecap="round" stroke-linejoin="round"><defs><path id="s92" d="M210.8,98.2L210.4,98.7L210.1,99.0L210.1,99.3L210.4,99.6L211.0,99.8L211.8,99.9L212.4,100.1L212.2,101.1L211.7,102.2L211.9,102.7L212.3,102.8L212.8,102.8L213.3,102.6L213.8,102.4L214.3,102.4L214.5,103.5L214.5,104.7L214.9,105.0L215.4,104.9L215.8,104.6L216.1,104.3L216.5,103.9L217.0,103.7L217.5,104.5L217.8,105.6L218.2,106.0L218.6,106.0L218.8,105.8L219.1,105.5L219.4,105.0L219.9,104.5L220.5,104.6L221.0,105.7L221.4,106.4L221.8,106.5L222.0,106.4L222.2,106.1L222.5,105.8L223.1,105.3L223.8,105.1L224.1,105.9L224.2,106.7L224.3,107.3L224.3,107.4L224.3,107.3L224.5,107.2L225.0,107.4L225.7,107.8L226.1,108.4L225.9,108.8L225.4,109.1L224.9,109.1L224.3,108.9L223.7,108.8L223.4,109.2L223.5,110.3L223.5,111.3L223.0,111.6L222.5,111.5L222.2,111.2L222.0,110.9L221.6,110.6L221.0,110.4L220.5,110.8L220.6,111.8L220.8,112.5L220.9,112.8L220.9,112.9L220.7,113.0L220.2,113.2L219.4,113.2L218.4,113.2L218.4,114.0L218.7,114.8L218.9,115.4L218.8,115.7L218.7,115.8L218.5,115.9L217.9,115.9L216.9,115.9L216.3,116.2L216.4,116.7L216.6,117.1L216.9,117.4L217.1,117.5L217.3,117.7L217.5,117.9L217.6,118.2"/></defs><use href="#s92" stroke="#ac5044" stroke-width="3.1"/><use href="#s92" stroke="#f0705f" stroke-width="3.04" stroke-dasharray="0.01 2.48"/><use href="#s92" stroke="#f6a99f" stroke-width="1.18" stroke-dasharray="0.01 2.48" transform="translate(-0.35,-0.45)"/></g>
<g fill="none" stroke-linecap="round" stroke-linejoin="round"><defs><path id="s93" d="M215.6,98.8L215.2,99.4L215.1,99.8L215.3,100.1L215.8,100.3L216.5,100.3L217.3,100.3L217.6,100.7L217.2,101.9L217.2,103.0L217.9,103.1L218.6,102.9L219.1,102.6L219.4,102.4L219.7,102.4L220.0,102.7L220.0,103.2"/></defs><use href="#s93" stroke="#ac5044" stroke-width="3.1"/><use href="#s93" stroke="#f0705f" stroke-width="3.04" stroke-dasharray="0.01 2.48"/><use href="#s93" stroke="#f6a99f" stroke-width="1.18" stroke-dasharray="0.01 2.48" transform="translate(-0.35,-0.45)"/></g>
<text x="146.90" y="51.70" font-size="9.3" font-weight="bold" text-anchor="start" fill="#111"  stroke="#111" stroke-width="0.22">Ori</text>
<text x="242.50" y="102.80" font-size="9.8" font-weight="bold" text-anchor="start" fill="#111"  stroke="#111" stroke-width="0.22">Ter</text>
<text x="209.00" y="132.20" font-size="9.3" font-weight="bold" text-anchor="middle" fill="#111"  stroke="#111" stroke-width="0.22">Therm_Sta</text>
<g fill="none" stroke-linecap="round" stroke-linejoin="round"><defs><path id="s94" d="M9.2,181.2L8.7,181.4L8.4,181.8L8.4,182.2L8.5,182.8L8.6,183.3L8.2,183.7L7.4,184.0L7.1,184.7L7.3,185.5L7.4,186.0L7.3,186.3L7.1,186.5L6.9,186.6L6.8,186.8L6.6,186.9L6.4,187.1"/></defs><use href="#s94" stroke="#2d835d" stroke-width="3.1"/><use href="#s94" stroke="#3aa878" stroke-width="2.11"/><use href="#s94" stroke="#75c2a0" stroke-width="0.78" transform="translate(-0.3,-0.4)"/></g>
<g fill="none" stroke-linecap="round" stroke-linejoin="round"><defs><path id="s95" d="M11.6,175.2L12.1,175.2L12.4,175.1L12.5,174.9L12.6,174.6L12.6,174.2L12.7,173.7L13.2,173.3L14.0,173.4L14.8,173.6L15.1,173.2L15.3,172.9L15.5,172.6L15.8,172.4L16.2,172.3L16.8,172.7L17.6,173.2L18.4,172.7L19.0,172.4L19.4,172.5L19.7,172.8L20.0,173.1L20.3,173.5L20.9,173.5L21.9,173.0L22.6,173.5L23.1,174.0L23.4,174.2L23.6,174.2L23.9,174.1L24.3,174.0L24.9,173.9L25.5,174.5L25.9,175.3L26.5,175.4L26.9,175.2L27.2,175.1L27.5,175.1L27.9,175.2L28.1,175.7L28.2,176.6L28.7,177.1L29.5,177.2L29.9,177.3L30.2,177.6L30.2,178.0L30.0,178.4L29.8,178.9L29.8,179.4L30.4,180.0L30.6,180.5L30.4,181.0L30.0,181.1L29.6,181.1L29.2,181.1L28.8,181.3L28.6,181.6"/></defs><use href="#s95" stroke="#095528" stroke-width="3.1"/><use href="#s95" stroke="#0c6e34" stroke-width="2.11"/><use href="#s95" stroke="#549970" stroke-width="0.78" transform="translate(-0.3,-0.4)"/></g>
<g fill="none" stroke-linecap="round" stroke-linejoin="round"><defs><path id="s96" d="M11.0,176.4L10.5,176.5L10.2,176.7L10.1,177.0L10.1,177.3L10.2,177.8L10.2,178.4L9.8,178.8L8.8,179.2L8.7,180.0L8.9,180.7L8.8,181.1L8.6,181.3L8.4,181.5L8.0,181.8L7.6,182.3L7.9,183.0L8.3,183.7L8.2,184.2L8.0,184.5L7.8,184.7L7.7,185.0L7.7,185.4L7.9,185.7L8.7,186.0L9.3,186.2L9.5,186.7L9.6,187.2L9.7,187.6L10.0,187.8L10.3,187.9L10.6,187.8L11.1,187.7"/></defs><use href="#s96" stroke="#095528" stroke-width="3.1"/><use href="#s96" stroke="#0c6e34" stroke-width="2.11"/><use href="#s96" stroke="#549970" stroke-width="0.78" transform="translate(-0.3,-0.4)"/></g>
<g fill="none" stroke-linecap="round" stroke-linejoin="round"><defs><path id="s97" d="M14.6,176.4L15.1,176.6L15.5,176.6L15.8,176.4L16.0,176.0L16.3,175.6L16.8,175.3L17.4,175.7L18.2,176.2L18.9,175.9L19.5,175.6L19.9,175.6L20.2,175.8L20.4,176.1L20.5,176.6L20.9,177.1L21.8,177.0L22.7,176.9L23.0,177.3L23.2,177.7L23.4,178.0L23.5,178.1L23.7,178.3L24.2,178.4L25.1,178.5L25.4,179.2L25.4,179.8L25.5,180.1L25.5,180.3L25.7,180.4L26.0,180.7L26.6,181.0L26.9,181.7L26.6,182.6L26.7,183.1L27.0,183.4L27.3,183.6L27.5,183.8L27.8,184.1L27.7,184.6L27.5,185.6L27.9,186.2L28.5,186.4L28.8,186.6L29.0,186.7L29.1,186.9L29.1,187.3L29.0,187.9L29.3,188.6L30.2,188.9L30.6,189.2L30.8,189.5L30.8,189.8L30.7,190.1L30.7,190.5L30.7,191.0L31.4,191.4L32.1,191.9L32.1,192.4L32.0,192.8L31.9,193.1L31.8,193.3L31.7,193.5L31.8,193.8L32.2,194.4L32.2,195.1L31.9,195.4L31.4,195.5L31.1,195.5L30.8,195.4L30.5,195.5L30.2,195.7L30.1,196.1"/></defs><use href="#s97" stroke="#095528" stroke-width="3.1"/><use href="#s97" stroke="#0c6e34" stroke-width="2.11"/><use href="#s97" stroke="#549970" stroke-width="0.78" transform="translate(-0.3,-0.4)"/></g>
<g fill="none" stroke-linecap="round" stroke-linejoin="round"><defs><path id="s98" d="M12.8,179.4L13.2,179.6L13.6,179.6L13.8,179.4L14.0,179.2L14.2,178.8L14.6,178.4L15.1,178.3L15.8,178.9L16.4,179.3L16.9,179.2L17.4,179.0L17.9,179.0L18.2,179.1L18.3,179.4L18.5,179.9L18.7,180.3"/></defs><use href="#s98" stroke="#095528" stroke-width="3.1"/><use href="#s98" stroke="#0c6e34" stroke-width="2.11"/><use href="#s98" stroke="#549970" stroke-width="0.78" transform="translate(-0.3,-0.4)"/></g>
<g fill="none" stroke-linecap="round" stroke-linejoin="round"><defs><path id="s99" d="M10.4,178.8L11.0,178.9L11.4,178.8L11.6,178.4L11.7,177.9L11.9,177.4L12.4,177.2L13.3,177.5L14.1,177.3L14.6,176.5L15.1,176.1L15.5,176.2L15.8,176.3L16.0,176.5L16.3,176.7L16.8,176.7L17.6,176.2L18.4,176.1L18.9,176.5L19.1,176.9L19.3,177.0L19.5,177.1L20.0,177.1L20.7,176.9L21.4,177.3L21.7,178.3L22.3,178.6L22.9,178.6L23.4,178.7L23.7,178.9L23.8,179.3L23.8,179.8L23.9,180.3"/></defs><use href="#s99" stroke="#074d23" stroke-width="3.1"/><use href="#s99" stroke="#0a632e" stroke-width="2.11"/><use href="#s99" stroke="#53916c" stroke-width="0.78" transform="translate(-0.3,-0.4)"/></g>
<g fill="none" stroke-linecap="round" stroke-linejoin="round"><defs><path id="s100" d="M9.2,183.6L9.7,183.5L10.0,183.3L10.2,183.0L10.1,182.5L10.1,182.0L10.4,181.5L11.0,181.4L11.8,181.5L12.3,181.2L12.5,180.7L12.8,180.4L13.1,180.2L13.4,180.2L13.5,180.2L13.7,180.4L14.0,180.6"/></defs><use href="#s100" stroke="#095528" stroke-width="3.1"/><use href="#s100" stroke="#0c6e34" stroke-width="2.11"/><use href="#s100" stroke="#549970" stroke-width="0.78" transform="translate(-0.3,-0.4)"/></g>
<g fill="none" stroke-linecap="round" stroke-linejoin="round"><defs><path id="s101" d="M24.8,175.2L24.9,175.8L25.2,176.1L25.7,176.2L26.3,176.1L26.8,176.3L27.0,176.9L27.0,177.8L27.6,178.3L28.6,178.6L28.9,179.1L28.8,179.5L28.8,179.9L28.6,180.0L28.6,180.3L28.7,180.6L29.1,181.2L29.4,181.8L29.1,182.3L28.7,182.5L28.3,182.6L28.1,182.7L27.9,182.8L27.7,183.1L27.7,183.6"/></defs><use href="#s101" stroke="#074d23" stroke-width="3.1"/><use href="#s101" stroke="#0a632e" stroke-width="2.11"/><use href="#s101" stroke="#53916c" stroke-width="0.78" transform="translate(-0.3,-0.4)"/></g>
<g fill="none" stroke-linecap="round" stroke-linejoin="round"><defs><path id="s102" d="M26.0,186.0L25.9,186.5L26.0,186.9L26.3,187.1L26.6,187.2L27.1,187.3L27.6,187.6L27.7,188.2L27.4,189.2L27.9,189.7L28.4,190.0L28.7,190.3L28.8,190.6L28.8,190.8L28.7,191.1L28.6,191.6L28.6,192.2L29.2,192.6L29.8,192.7L30.2,192.8L30.3,192.9L30.4,193.1L30.5,193.4L30.6,193.7L30.6,194.0"/></defs><use href="#s102" stroke="#095528" stroke-width="3.1"/><use href="#s102" stroke="#0c6e34" stroke-width="2.11"/><use href="#s102" stroke="#549970" stroke-width="0.78" transform="translate(-0.3,-0.4)"/></g>
<g fill="none" stroke-linecap="round" stroke-linejoin="round"><defs><path id="s103" d="M20.0,174.0L20.3,174.5L20.7,174.6L21.0,174.6L21.4,174.3L21.9,174.1L22.4,174.2L22.9,174.8L23.4,175.6L24.4,175.5L25.1,175.6L25.4,176.1L25.4,176.7L25.5,177.1L25.7,177.4L26.1,177.5L26.7,177.5"/></defs><use href="#s103" stroke="#095528" stroke-width="3.1"/><use href="#s103" stroke="#0c6e34" stroke-width="2.11"/><use href="#s103" stroke="#549970" stroke-width="0.78" transform="translate(-0.3,-0.4)"/></g>
<g fill="none" stroke-linecap="round" stroke-linejoin="round"><defs><path id="s104" d="M26.6,183.6L26.6,184.2L26.8,184.5L27.1,184.6L27.5,184.7L28.1,184.8L28.5,185.1L28.5,185.9L28.6,186.8L29.6,187.2L30.2,187.7L30.1,188.4L29.9,188.9L29.9,189.3L30.1,189.6L30.6,189.8L31.1,190.1"/></defs><use href="#s104" stroke="#095528" stroke-width="3.1"/><use href="#s104" stroke="#0c6e34" stroke-width="2.11"/><use href="#s104" stroke="#549970" stroke-width="0.78" transform="translate(-0.3,-0.4)"/></g>
<g fill="none" stroke-linecap="round" stroke-linejoin="round"><defs><path id="s105" d="M27.8,192.0L27.6,192.4L27.6,192.8L27.7,193.0L27.9,193.3L28.3,193.6L28.7,193.8L28.9,194.3L28.8,195.1L29.0,195.8L29.5,195.9L30.0,196.0L30.2,195.9L30.4,195.9L30.7,196.0L31.0,196.4L31.3,197.1L31.8,197.4L32.3,197.3L32.7,197.1L32.9,197.0L33.1,196.9L33.3,196.9L33.6,197.0L33.8,197.3"/></defs><use href="#s105" stroke="#20784c" stroke-width="3.1"/><use href="#s105" stroke="#2a9a62" stroke-width="2.11"/><use href="#s105" stroke="#69b891" stroke-width="0.78" transform="translate(-0.3,-0.4)"/></g>
<g fill="none" stroke-linecap="round" stroke-linejoin="round"><defs><path id="s106" d="M17.0,186.6L17.2,187.1L17.5,187.4L17.8,187.4L18.2,187.3L18.7,187.2L19.2,187.3L19.4,187.8L19.3,188.4L19.1,189.0L19.2,189.2L19.3,189.5L19.5,189.9L19.5,190.2L19.4,190.5L19.3,190.7L19.0,190.9"/></defs><use href="#s106" stroke="#07441f" stroke-width="3.1"/><use href="#s106" stroke="#095829" stroke-width="2.11"/><use href="#s106" stroke="#528a69" stroke-width="0.78" transform="translate(-0.3,-0.4)"/></g>
<g fill="none" stroke-linecap="round" stroke-linejoin="round"><defs><path id="s107" d="M16.4,199.8L16.7,200.3L17.1,200.5L17.4,200.4L17.8,200.2L18.3,200.0L18.8,200.0L19.3,200.7L19.8,201.4L20.7,201.3L21.3,201.1L21.6,201.3L21.8,201.5L21.9,201.8L22.0,202.2L22.2,202.7L22.9,202.9L23.8,202.9L24.2,203.3L24.3,203.6L24.3,203.9L24.2,204.3L24.3,204.6L24.6,205.0L25.6,205.1L26.2,205.4L26.3,206.0L26.3,206.4L26.3,206.7L26.4,207.0L26.7,207.1L27.3,207.2L28.1,207.3L28.4,207.9L28.5,208.6L28.8,209.0L29.1,209.1L29.4,209.1L29.7,209.0L30.1,209.0L30.5,209.0"/></defs><use href="#s107" stroke="#60957e" stroke-width="2.4"/><use href="#s107" stroke="#7cc0a2" stroke-width="1.63"/><use href="#s107" stroke="#a3d2bd" stroke-width="0.60" transform="translate(-0.3,-0.4)"/></g>
<g fill="none" stroke-linecap="round" stroke-linejoin="round"><defs><path id="s108" d="M27.8,199.8L27.3,200.0L27.1,200.2L27.0,200.5L27.0,200.8L27.1,201.3L27.1,201.9L26.6,202.3L25.7,202.6L25.4,203.4L25.6,204.1L25.4,204.6L25.1,204.8L24.7,204.9L24.3,205.1L24.0,205.2L23.9,205.6"/></defs><use href="#s108" stroke="#60957e" stroke-width="2.4"/><use href="#s108" stroke="#7cc0a2" stroke-width="1.63"/><use href="#s108" stroke="#a3d2bd" stroke-width="0.60" transform="translate(-0.3,-0.4)"/></g>
<g fill="none" stroke-linecap="round" stroke-linejoin="round"><defs><path id="s109" d="M37.4,196.2L37.2,196.7L37.3,197.1L37.6,197.4L38.1,197.5L38.6,197.8L38.8,198.3L38.5,199.0L38.2,199.8L38.7,200.5L39.1,201.0L39.1,201.4L38.9,201.7L38.6,201.9L38.2,202.1L37.8,202.5L38.0,203.4L38.3,204.3L37.8,204.7L37.4,205.0L37.2,205.2L37.0,205.5L37.1,205.8L37.2,206.4L37.2,207.2L36.4,207.6L35.8,207.9L35.7,208.2L35.6,208.5L35.6,208.9L35.6,209.2L35.5,209.4L35.3,209.7"/></defs><use href="#s109" stroke="#bfb089" stroke-width="2.2"/><use href="#s109" stroke="#f6e2b0" stroke-width="1.50"/><use href="#s109" stroke="#f8eac7" stroke-width="0.55" transform="translate(-0.3,-0.4)"/></g>
<g fill="none" stroke-linecap="round" stroke-linejoin="round"><defs><path id="s110" d="M40.4,198.0L40.2,198.5L40.3,198.9L40.6,199.2L41.1,199.3L41.6,199.6L41.8,200.1L41.5,200.8L41.2,201.6L41.7,202.3L42.1,202.9L42.0,203.3L41.8,203.5L41.5,203.7L41.1,203.9L40.7,204.4L41.0,205.2L41.3,206.1L40.8,206.5L40.4,206.8L40.1,207.0L40.0,207.3L40.1,207.7L40.4,208.2L40.8,208.8L40.6,209.5L40.2,210.0L40.1,210.5L40.3,210.8L40.6,211.0L41.0,210.9L41.3,210.8L41.7,210.8L42.0,211.0L42.3,211.3L42.7,211.5L43.1,211.4L43.4,211.1L43.5,210.5L43.4,209.8L43.7,209.2L44.5,208.9L44.9,208.6L44.9,208.2L44.8,207.8L44.5,207.5L44.2,207.1L44.2,206.6L44.9,205.8L45.0,205.0L44.5,204.4L44.2,203.9L44.3,203.6L44.6,203.2L44.8,202.9L45.0,202.6L45.0,202.2"/></defs><use href="#s110" stroke="#bfb089" stroke-width="2.2"/><use href="#s110" stroke="#f6e2b0" stroke-width="1.50"/><use href="#s110" stroke="#f8eac7" stroke-width="0.55" transform="translate(-0.3,-0.4)"/></g>
<g fill="none" stroke-linecap="round" stroke-linejoin="round"><defs><path id="s111" d="M27.2,208.2L27.2,208.7L27.3,209.0L27.5,209.2L27.9,209.3L28.4,209.4L28.9,209.5L29.2,210.0L29.4,210.9L30.0,211.3L30.6,211.2L31.0,211.2L31.2,211.3L31.4,211.3L31.6,211.5L32.0,211.9L32.6,212.3L33.2,211.9L33.6,211.4L33.8,211.2L33.9,211.2L34.2,211.1L34.7,211.1L35.2,211.2L35.7,210.9L36.1,210.1L36.4,209.7L36.8,209.7L37.1,209.7L37.4,209.8L37.7,209.9L37.9,209.9L38.2,209.8"/></defs><use href="#s111" stroke="#bfb089" stroke-width="2.2"/><use href="#s111" stroke="#f6e2b0" stroke-width="1.50"/><use href="#s111" stroke="#f8eac7" stroke-width="0.55" transform="translate(-0.3,-0.4)"/></g>
<g fill="none" stroke-linecap="round" stroke-linejoin="round"><defs><path id="s112" d="M47.6,202.8L47.4,203.3L47.3,203.7L47.5,203.9L47.9,204.2L48.3,204.5L48.6,204.9L48.3,205.6L47.8,206.4L48.1,207.2L48.4,207.9L48.2,208.3L47.8,208.6L47.4,208.7L47.0,209.1L47.0,209.6L47.5,210.0L48.2,210.4L48.4,210.7L48.4,211.0L48.4,211.4L48.7,211.7L49.1,211.8L49.5,211.7L50.0,211.1L50.4,210.6L50.7,210.6L51.1,210.7L51.5,210.6L51.9,210.5L52.1,210.1L52.0,209.4L52.0,208.6L52.7,208.2L53.3,207.8L53.4,207.3L53.3,206.9L53.0,206.6L52.8,206.2L52.9,205.8L53.4,205.5L54.0,205.6L54.3,205.7L54.4,205.9L54.4,206.0L54.6,206.1L55.0,206.1L55.6,206.0L56.2,206.0L56.6,206.5L56.8,207.0L57.0,207.3L57.3,207.4L57.6,207.4L57.9,207.4L58.2,207.3L58.6,207.3"/></defs><use href="#s112" stroke="#bfb089" stroke-width="2.2"/><use href="#s112" stroke="#f6e2b0" stroke-width="1.50"/><use href="#s112" stroke="#f8eac7" stroke-width="0.55" transform="translate(-0.3,-0.4)"/></g>
<g fill="none" stroke-linecap="round" stroke-linejoin="round"><defs><path id="s113" d="M50.6,203.4L50.3,203.9L50.3,204.4L50.7,204.8L51.2,205.2L51.4,205.6L51.3,206.1L51.0,206.6L50.8,207.1"/></defs><use href="#s113" stroke="#bfb089" stroke-width="2.2"/><use href="#s113" stroke="#f6e2b0" stroke-width="1.50"/><use href="#s113" stroke="#f8eac7" stroke-width="0.55" transform="translate(-0.3,-0.4)"/></g>
<g fill="none" stroke-linecap="round" stroke-linejoin="round"><defs><path id="s114" d="M25.8,208.6L25.7,209.2L25.8,209.5L26.2,209.8L26.6,210.0L27.1,210.1L27.4,210.5L27.5,211.3L28.0,212.0L28.9,211.9L29.5,211.8L29.7,212.0L29.9,212.2L30.1,212.5L30.6,212.7L31.1,212.7L31.8,212.0L32.5,211.7L33.1,212.0L33.5,212.2L33.9,212.1L34.1,211.9L34.3,211.5L34.6,210.9L35.3,210.7L36.2,211.0L36.7,211.0L36.9,210.8L37.1,210.6L37.2,210.4L37.4,210.1L37.8,209.9L38.4,210.1L39.0,210.8L39.3,211.0L39.5,211.0L39.7,211.0L40.0,211.0L40.4,210.9L40.9,210.9L41.4,211.6L41.9,212.3L42.5,212.3L43.0,212.2L43.4,212.2L43.6,212.2L43.9,212.4L44.3,212.9L45.0,213.2L45.7,212.8L46.1,212.4L46.3,212.3L46.5,212.3L46.7,212.3L47.1,212.4L47.7,212.3L48.1,211.8L48.4,210.9L48.7,210.6L49.0,210.5L49.3,210.5L49.7,210.5L50.0,210.3L50.3,210.0L50.3,209.1L50.5,208.4L51.1,208.2L51.6,208.1L52.0,207.9L52.1,207.7L52.2,207.5L52.1,207.2L52.1,206.7"/></defs><use href="#s114" stroke="#bfb089" stroke-width="2.2"/><use href="#s114" stroke="#f6e2b0" stroke-width="1.50"/><use href="#s114" stroke="#f8eac7" stroke-width="0.55" transform="translate(-0.3,-0.4)"/></g>
<g fill="none" stroke-linecap="round" stroke-linejoin="round"><defs><path id="s115" d="M22.4,180.0L22.3,180.5L22.4,180.9L22.7,181.1L23.0,181.2L23.5,181.3L24.0,181.6L24.1,182.2L23.9,183.2L24.3,183.8L25.0,183.9L25.4,184.1L25.6,184.3L25.6,184.7L25.5,185.0L25.2,185.4L25.0,186.0L25.3,186.6L25.7,187.1L25.8,187.5L25.6,187.9L25.2,188.1L24.8,188.0L24.5,187.9L24.1,188.0L23.8,188.3L23.5,188.6L23.2,188.8L22.8,188.7L22.6,188.5L22.4,188.2L22.4,187.5L22.1,186.9L21.5,186.7L20.9,186.5L20.6,186.3L20.6,186.0L20.6,185.7L20.7,185.4L20.6,184.9L20.2,184.4L19.5,184.5L19.1,184.7L18.9,184.8L18.7,184.9L18.5,184.8L18.1,184.7L17.6,184.4L17.0,184.4L16.4,185.0L15.9,185.3L15.6,185.3L15.4,185.2L15.2,185.0L14.8,184.9L14.3,184.8L13.9,185.1L13.5,185.8L13.2,186.2L13.0,186.3L12.7,186.3L12.5,186.3L12.2,186.4L11.9,186.7L11.8,187.1L12.0,187.7L12.3,188.0L12.5,188.2L12.6,188.3L12.6,188.5L12.7,188.9L12.8,189.5L13.2,190.0L13.8,190.0L14.3,189.8L14.5,189.7L14.6,189.6L14.9,189.6L15.3,189.9L15.7,190.3L16.3,190.6L17.1,190.2L17.6,190.2L17.9,190.3L18.1,190.5L18.2,190.8L18.3,191.2L18.6,191.6L19.3,191.6L20.1,191.3L20.6,191.4L20.8,191.7L20.9,192.0L21.1,192.3L21.4,192.5L21.8,192.6L22.4,192.1L22.9,191.4L23.4,191.4L23.8,191.5L24.2,191.6L24.6,191.5L24.8,191.2L25.0,190.7L25.2,189.9L25.7,189.6L26.4,189.6L26.8,189.5L27.0,189.4L27.1,189.2L27.2,189.0L27.1,188.7L27.1,188.3"/></defs><use href="#s115" stroke="#ad8119" stroke-width="3.1"/><use href="#s115" stroke="#f1b424" stroke-width="3.04" stroke-dasharray="0.01 2.48"/><use href="#s115" stroke="#f6d27b" stroke-width="1.18" stroke-dasharray="0.01 2.48" transform="translate(-0.35,-0.45)"/></g>
<g fill="none" stroke-linecap="round" stroke-linejoin="round"><defs><path id="s116" d="M23.0,180.6L22.5,180.8L22.2,181.1L22.2,181.6L22.3,182.2L22.3,182.7L21.9,183.0L21.4,183.2L20.9,183.4"/></defs><use href="#s116" stroke="#ad8119" stroke-width="3.1"/><use href="#s116" stroke="#f1b424" stroke-width="3.04" stroke-dasharray="0.01 2.48"/><use href="#s116" stroke="#f6d27b" stroke-width="1.18" stroke-dasharray="0.01 2.48" transform="translate(-0.35,-0.45)"/></g>
<g fill="none" stroke-linecap="round" stroke-linejoin="round"><defs><path id="s117" d="M14.0,190.2L13.5,190.2L13.2,190.3L13.0,190.5L12.9,190.9L12.8,191.4L12.7,191.9L12.2,192.2L11.3,192.4L10.9,193.0L11.0,193.7L11.0,194.2L10.9,194.4L10.7,194.5L10.4,194.7L10.1,195.1L10.0,195.7L10.3,196.1L10.7,196.5L11.0,196.6L11.1,196.6L11.1,196.7L11.3,197.0L11.6,197.4L12.1,197.8L12.7,197.7L13.1,197.4L13.2,197.2L13.4,197.0L13.6,196.9L14.0,196.9L14.6,197.2L15.3,197.2L15.8,196.7L16.2,196.3L16.5,196.1L16.7,196.2L16.8,196.2L17.1,196.4L17.7,196.6L18.3,196.6L18.8,195.9L19.1,195.5L19.3,195.4L19.5,195.3L19.8,195.4L20.2,195.5L20.7,195.6L21.3,195.3L21.7,194.5L22.2,194.2L22.5,194.3L22.8,194.4L23.1,194.5L23.5,194.6L23.9,194.5L24.2,193.9L24.5,193.1L24.8,192.9L25.2,192.8L25.5,192.8L25.8,192.7L26.0,192.6L26.2,192.5L26.3,192.3"/></defs><use href="#s117" stroke="#ad8119" stroke-width="3.1"/><use href="#s117" stroke="#f1b424" stroke-width="3.04" stroke-dasharray="0.01 2.48"/><use href="#s117" stroke="#f6d27b" stroke-width="1.18" stroke-dasharray="0.01 2.48" transform="translate(-0.35,-0.45)"/></g>
<g fill="none" stroke-linecap="round" stroke-linejoin="round"><defs><path id="s118" d="M12.2,198.0L11.7,198.0L11.4,198.1L11.2,198.3L11.0,198.7L11.0,199.2L10.8,199.7L10.3,199.9L9.5,200.2L9.2,200.8L9.3,201.5L9.4,202.0L9.3,202.2L9.2,202.4L8.9,202.7L8.8,203.1L8.8,203.6L9.1,203.9L9.5,204.0L9.8,204.0L10.0,203.8L10.2,203.7L10.5,203.7L11.0,203.9L11.6,204.4L12.2,204.3L12.6,203.9L12.7,203.6L12.9,203.4L13.1,203.2L13.5,203.1L14.0,203.4L14.6,203.8L15.2,203.6L15.7,203.3L16.0,203.1L16.3,203.0L16.5,203.2L16.8,203.4L17.0,203.9L17.5,204.4L18.2,204.3L18.7,204.0L19.1,203.9L19.4,204.0L19.7,204.2L19.8,204.5L19.7,204.9L19.6,205.3L19.7,205.7L20.0,205.9L20.1,206.1L20.2,206.5L20.1,206.8L19.8,207.1L19.3,207.2L18.5,207.3L18.2,207.8L18.1,208.3L18.1,208.7L17.9,208.9L17.7,209.1L17.5,209.2L17.0,209.1L16.2,209.1L15.7,209.6L15.6,210.3L15.4,210.7L15.2,210.9L14.9,210.9L14.5,210.9L14.1,210.8L13.8,210.9"/></defs><use href="#s118" stroke="#ad8119" stroke-width="3.1"/><use href="#s118" stroke="#f1b424" stroke-width="3.04" stroke-dasharray="0.01 2.48"/><use href="#s118" stroke="#f6d27b" stroke-width="1.18" stroke-dasharray="0.01 2.48" transform="translate(-0.35,-0.45)"/></g>
<g fill="none" stroke-linecap="round" stroke-linejoin="round"><defs><path id="s119" d="M14.6,211.8L14.1,211.7L13.8,211.7L13.6,211.9L13.4,212.2L13.2,212.7L13.0,213.2L12.4,213.4L11.4,213.3L10.8,213.9L10.7,214.6L10.5,215.0L10.2,215.1L9.8,215.1L9.3,215.1L8.8,215.2L8.5,215.9L8.3,216.8L7.8,217.0L7.3,217.0L6.9,216.9L6.6,217.0L6.4,217.2L6.3,217.6L6.5,217.9L6.8,218.1L7.1,218.2L7.3,218.2L7.4,218.2L7.6,218.2L8.0,218.3L8.6,218.8L9.3,218.8L9.8,218.2L10.1,217.7L10.4,217.6L10.7,217.5L11.2,217.6L11.7,217.6L12.2,217.2L12.6,216.2L13.5,216.1L14.1,216.4L14.5,216.4L14.7,216.3L14.9,216.1L15.2,215.8L15.5,215.3L16.3,215.2L17.3,215.6L17.9,215.1L18.2,214.5L18.5,214.2L18.8,214.2L19.2,214.3L19.6,214.5L20.1,214.6"/></defs><use href="#s119" stroke="#ad8119" stroke-width="3.1"/><use href="#s119" stroke="#f1b424" stroke-width="3.04" stroke-dasharray="0.01 2.48"/><use href="#s119" stroke="#f6d27b" stroke-width="1.18" stroke-dasharray="0.01 2.48" transform="translate(-0.35,-0.45)"/></g>
<g fill="none" stroke-linecap="round" stroke-linejoin="round"><defs><path id="s120" d="M14.0,212.4L14.2,212.8L14.5,213.0L14.8,213.1L15.0,213.0L15.4,212.8L16.0,212.7L16.5,212.9L16.9,213.8L17.4,214.3L18.0,214.3L18.5,214.3L18.8,214.4L19.0,214.7L19.1,215.1L19.2,215.8L19.8,216.3L20.8,216.2L21.3,216.4L21.4,216.8L21.5,217.1L21.6,217.4L21.8,217.7L22.2,217.9L23.0,217.7L23.8,217.6L24.1,218.0L24.3,218.3L24.4,218.6L24.6,218.7L24.9,218.9L25.3,218.8L26.0,218.2L26.7,218.0L27.3,218.4L27.9,218.7L28.3,218.6L28.6,218.3L28.8,217.9L29.1,217.5L29.5,217.4"/></defs><use href="#s120" stroke="#ad8119" stroke-width="3.1"/><use href="#s120" stroke="#f1b424" stroke-width="3.04" stroke-dasharray="0.01 2.48"/><use href="#s120" stroke="#f6d27b" stroke-width="1.18" stroke-dasharray="0.01 2.48" transform="translate(-0.35,-0.45)"/></g>
<g fill="none" stroke-linecap="round" stroke-linejoin="round"><defs><path id="s121" d="M20.6,214.8L20.9,215.3L21.2,215.5L21.5,215.5L21.9,215.4L22.4,215.2L22.9,215.2L23.4,215.8L24.1,216.4L25.0,216.1L25.6,215.9L25.9,216.1L26.1,216.3L26.2,216.5L26.6,216.8L27.1,217.1L27.8,216.6L28.5,216.1L29.1,216.4L29.5,216.7L29.8,216.8L30.2,216.8L30.4,216.6L30.8,216.1L31.3,215.6L32.0,215.7L32.4,215.9L32.7,215.9L32.9,215.9L32.9,215.9L33.0,215.9L33.3,215.7L33.8,215.2L34.4,215.0L34.8,215.2L35.0,215.5L35.1,215.8L35.3,216.1L35.6,216.3L36.1,216.3L36.8,215.8L37.5,215.6L38.1,216.0L38.7,216.3L39.1,216.2L39.4,215.8L39.6,215.4L39.9,215.1L40.3,215.0"/></defs><use href="#s121" stroke="#ad8119" stroke-width="3.1"/><use href="#s121" stroke="#f1b424" stroke-width="3.04" stroke-dasharray="0.01 2.48"/><use href="#s121" stroke="#f6d27b" stroke-width="1.18" stroke-dasharray="0.01 2.48" transform="translate(-0.35,-0.45)"/></g>
<g fill="none" stroke-linecap="round" stroke-linejoin="round"><defs><path id="s122" d="M31.8,216.4L31.3,216.6L31.1,217.0L31.0,217.3L31.2,217.7L31.3,218.3L31.2,218.8L30.4,219.2L29.7,219.8L29.9,220.9L29.6,221.5L29.1,221.7L28.7,221.8L28.4,221.9L28.1,222.2L28.1,222.9L28.0,223.9L27.0,224.2L26.4,224.4L26.3,224.8L26.3,225.1L26.3,225.4L26.3,225.8L26.0,226.3L25.1,226.5L24.4,227.0L24.4,227.7L24.4,228.2L24.3,228.5L24.1,228.6L23.7,228.7L23.0,228.9L22.5,229.4L22.5,230.3L22.2,230.9L21.8,231.0L21.3,231.0L21.0,231.0L20.7,231.2L20.6,231.6L20.7,232.0L21.1,232.4L21.4,232.7L21.5,232.8L21.6,232.9L21.6,233.1L21.8,233.4L22.3,233.7L22.9,233.6L23.3,233.0L23.6,232.4L24.0,232.2L24.5,232.2L25.1,232.1L25.4,231.7L25.5,231.2L25.6,230.6"/></defs><use href="#s122" stroke="#ad8119" stroke-width="3.1"/><use href="#s122" stroke="#f1b424" stroke-width="3.04" stroke-dasharray="0.01 2.48"/><use href="#s122" stroke="#f6d27b" stroke-width="1.18" stroke-dasharray="0.01 2.48" transform="translate(-0.35,-0.45)"/></g>
<g fill="none" stroke-linecap="round" stroke-linejoin="round"><defs><path id="s123" d="M34.8,217.0L34.3,217.2L34.0,217.5L34.0,217.9L34.1,218.4L34.3,218.9L34.1,219.4L33.3,219.7L32.7,220.4L32.9,221.5L32.8,222.0L32.4,222.3L32.0,222.4L31.7,222.6L31.4,222.8L31.4,223.4L31.6,224.4L30.9,225.0L30.2,225.3L29.9,225.6L29.9,226.1L30.0,226.4L30.0,226.8L30.0,227.1L29.7,227.4"/></defs><use href="#s123" stroke="#ad8119" stroke-width="3.1"/><use href="#s123" stroke="#f1b424" stroke-width="3.04" stroke-dasharray="0.01 2.48"/><use href="#s123" stroke="#f6d27b" stroke-width="1.18" stroke-dasharray="0.01 2.48" transform="translate(-0.35,-0.45)"/></g>
<g fill="none" stroke-linecap="round" stroke-linejoin="round"><defs><path id="s124" d="M39.0,217.0L39.5,217.1L39.8,217.1L40.0,217.0L40.2,216.7L40.4,216.3L40.7,215.8L41.2,215.7L42.1,216.0L42.8,216.0L43.2,215.5L43.5,215.1L43.8,214.9L44.1,214.9L44.4,215.0L44.7,215.2L45.0,215.5"/></defs><use href="#s124" stroke="#ad8119" stroke-width="3.1"/><use href="#s124" stroke="#f1b424" stroke-width="3.04" stroke-dasharray="0.01 2.48"/><use href="#s124" stroke="#f6d27b" stroke-width="1.18" stroke-dasharray="0.01 2.48" transform="translate(-0.35,-0.45)"/></g>
<g fill="none" stroke-linecap="round" stroke-linejoin="round"><defs><path id="s125" d="M42.0,215.8L41.5,216.0L41.2,216.3L41.2,216.7L41.3,217.2L41.5,217.7L41.3,218.2L40.5,218.5L39.9,219.2L40.1,220.3L39.9,220.8L39.5,221.1L39.2,221.2L38.8,221.3L38.5,221.6L38.5,222.2L38.8,223.2L38.2,223.8L37.6,224.1L37.3,224.5L37.3,224.8L37.4,225.1L37.6,225.5L37.8,226.0L37.3,226.6L36.6,227.2L36.5,227.7L36.7,228.2L36.7,228.6L36.8,228.8L36.8,228.9L36.7,229.1L36.5,229.6L36.5,230.2L36.7,230.6L37.1,230.7L37.5,230.7L37.8,230.4L38.0,230.2L38.4,230.1L39.0,230.3L39.7,230.3L40.0,230.0L40.1,229.5L40.0,229.1L39.8,228.7L39.9,228.3L40.5,227.9L41.2,227.4L41.2,226.6L41.0,225.9L41.1,225.5L41.4,225.3L41.7,225.1L42.0,224.9L42.3,224.7L42.4,224.3"/></defs><use href="#s125" stroke="#ad8119" stroke-width="3.1"/><use href="#s125" stroke="#f1b424" stroke-width="3.04" stroke-dasharray="0.01 2.48"/><use href="#s125" stroke="#f6d27b" stroke-width="1.18" stroke-dasharray="0.01 2.48" transform="translate(-0.35,-0.45)"/></g>
<g fill="none" stroke-linecap="round" stroke-linejoin="round"><defs><path id="s126" d="M43.2,223.0L42.8,223.3L42.6,223.7L42.6,224.1L42.8,224.6L43.0,225.1L42.9,225.5L42.4,226.0L42.2,226.7L42.6,227.2L43.1,227.4L43.5,227.5L43.6,227.6L43.8,227.7L44.0,228.0L44.1,228.3L44.2,228.7"/></defs><use href="#s126" stroke="#ad8119" stroke-width="3.1"/><use href="#s126" stroke="#f1b424" stroke-width="3.04" stroke-dasharray="0.01 2.48"/><use href="#s126" stroke="#f6d27b" stroke-width="1.18" stroke-dasharray="0.01 2.48" transform="translate(-0.35,-0.45)"/></g>
<g fill="none" stroke-linecap="round" stroke-linejoin="round"><defs><path id="s127" d="M89.8,197.2L89.3,197.1L89.0,197.1L88.8,197.2L88.6,197.5L88.4,197.9L88.1,198.4L87.6,198.5L86.7,198.2L86.1,198.2L85.7,198.5L85.5,198.8L85.3,198.9L85.1,199.1L84.9,199.2L84.5,199.1L83.7,198.7L83.0,198.8L82.7,199.3L82.5,199.7L82.4,199.9L82.2,200.1L81.9,200.2L81.4,200.0L80.7,199.8L80.1,200.1L79.8,200.6L79.5,201.0L79.3,201.1L79.1,201.1L78.9,201.1L78.7,201.0L78.4,200.8"/></defs><use href="#s127" stroke="#5a87ae" stroke-width="3.1"/><use href="#s127" stroke="#74aee0" stroke-width="2.11"/><use href="#s127" stroke="#9dc6e9" stroke-width="0.78" transform="translate(-0.3,-0.4)"/></g>
<g fill="none" stroke-linecap="round" stroke-linejoin="round"><defs><path id="s128" d="M73.0,199.0L72.8,199.4L72.8,199.8L72.9,200.0L73.2,200.3L73.6,200.5L74.0,200.8L74.2,201.2L74.0,202.1L74.1,202.8L74.6,203.1L75.1,203.3L75.3,203.5L75.4,203.7L75.4,203.8L75.6,204.2L75.9,204.7L76.4,204.9L76.8,204.8L77.1,204.5L77.2,204.2L77.2,203.9L77.4,203.7L77.9,203.5L78.6,203.4L79.1,203.0L79.1,202.5L79.0,202.0L78.9,201.7L78.9,201.5L79.1,201.3L79.3,201.0L79.7,200.8"/></defs><use href="#s128" stroke="#5a87ae" stroke-width="3.1"/><use href="#s128" stroke="#74aee0" stroke-width="2.11"/><use href="#s128" stroke="#9dc6e9" stroke-width="0.78" transform="translate(-0.3,-0.4)"/></g>
<g fill="none" stroke-linecap="round" stroke-linejoin="round"><defs><path id="s129" d="M73.0,199.6L72.6,199.9L72.4,200.2L72.4,200.5L72.5,200.9L72.8,201.4L72.9,201.8L72.5,202.4L72.0,203.2L72.3,204.0L72.7,204.5L72.8,204.8L72.8,205.0L72.6,205.3L72.4,205.7L72.3,206.3L72.9,206.8L73.7,207.3L73.7,208.0L73.6,208.6L73.6,209.0L73.8,209.3L74.2,209.4L74.6,209.5L75.1,209.6"/></defs><use href="#s129" stroke="#5a87ae" stroke-width="3.1"/><use href="#s129" stroke="#74aee0" stroke-width="2.11"/><use href="#s129" stroke="#9dc6e9" stroke-width="0.78" transform="translate(-0.3,-0.4)"/></g>
<g fill="none" stroke-linecap="round" stroke-linejoin="round"><defs><path id="s130" d="M66.4,203.2L66.1,203.6L66.0,204.0L66.2,204.3L66.4,204.6L66.8,204.9L67.1,205.3L67.0,206.0L66.6,206.9L67.1,207.6L67.7,207.9L67.9,208.2L67.9,208.5L67.8,208.8L67.6,209.2L67.5,209.8L68.2,210.4L68.9,211.0L68.8,211.6L68.6,212.1L68.5,212.4L68.5,212.7L68.7,213.0L69.2,213.3L69.8,213.9L69.6,214.7L69.3,215.3L69.4,215.7L69.6,216.0L69.9,216.2L70.1,216.4L70.3,216.6L70.4,216.9"/></defs><use href="#s130" stroke="#5a87ae" stroke-width="3.1"/><use href="#s130" stroke="#74aee0" stroke-width="2.11"/><use href="#s130" stroke="#9dc6e9" stroke-width="0.78" transform="translate(-0.3,-0.4)"/></g>
<g fill="none" stroke-linecap="round" stroke-linejoin="round"><defs><path id="s131" d="M70.0,203.8L69.7,204.3L69.7,204.6L69.8,204.9L70.1,205.2L70.5,205.5L70.8,205.9L70.6,206.6L70.2,207.5L70.7,208.2L71.2,208.7L71.3,209.2L71.0,209.6L70.8,210.0L70.7,210.3L70.7,210.7L71.0,211.0"/></defs><use href="#s131" stroke="#5a87ae" stroke-width="3.1"/><use href="#s131" stroke="#74aee0" stroke-width="2.11"/><use href="#s131" stroke="#9dc6e9" stroke-width="0.78" transform="translate(-0.3,-0.4)"/></g>
<g fill="none" stroke-linecap="round" stroke-linejoin="round"><defs><path id="s132" d="M58.6,206.8L58.3,207.3L58.3,207.7L58.5,208.0L58.8,208.4L59.2,208.8L59.2,209.3L58.7,210.1L59.0,211.0L59.8,211.8L59.7,212.4L59.5,212.9L59.4,213.3L59.4,213.6L59.7,213.9L60.4,214.3L60.7,215.1L60.2,216.2L60.6,216.8L61.2,217.3L61.4,217.8L61.3,218.1L61.2,218.4L61.2,218.8L61.4,219.2L61.9,219.3L62.3,219.2L62.5,218.8L62.4,218.4L62.3,218.0L62.6,217.6L63.3,217.2L63.8,216.5L63.5,215.7L63.3,215.2L63.4,214.9L63.6,214.7L63.8,214.4L64.1,214.0L64.2,213.6L63.9,212.8L63.8,212.0L64.4,211.5L64.8,211.3L65.1,211.0L65.1,210.8L65.1,210.5L65.0,210.1L64.9,209.7"/></defs><use href="#s132" stroke="#5a87ae" stroke-width="3.1"/><use href="#s132" stroke="#74aee0" stroke-width="2.11"/><use href="#s132" stroke="#9dc6e9" stroke-width="0.78" transform="translate(-0.3,-0.4)"/></g>
<g fill="none" stroke-linecap="round" stroke-linejoin="round"><defs><path id="s133" d="M75.4,205.0L75.2,205.5L75.3,205.9L75.6,206.2L76.1,206.5L76.5,206.7L76.7,207.1L76.6,207.6L76.4,208.1"/></defs><use href="#s133" stroke="#5a87ae" stroke-width="3.1"/><use href="#s133" stroke="#74aee0" stroke-width="2.11"/><use href="#s133" stroke="#9dc6e9" stroke-width="0.78" transform="translate(-0.3,-0.4)"/></g>
<g fill="none" stroke-linecap="round" stroke-linejoin="round"><defs><path id="s134" d="M82.0,197.2L82.5,197.4L82.8,197.4L83.1,197.2L83.3,196.9L83.5,196.5L83.8,196.1L84.3,195.9L85.1,196.2L85.8,196.1L86.1,195.7L86.3,195.2L86.4,194.9L86.5,194.8L86.7,194.7L87.0,194.7L87.4,194.7"/></defs><use href="#s134" stroke="#b45c54" stroke-width="2.2"/><use href="#s134" stroke="#e8766c" stroke-width="1.50"/><use href="#s134" stroke="#ee9f98" stroke-width="0.55" transform="translate(-0.3,-0.4)"/></g>
<g fill="none" stroke-linecap="round" stroke-linejoin="round"><defs><path id="s135" d="M49.8,224.2L49.4,224.6L49.3,224.9L49.4,225.3L49.7,225.6L50.0,226.1L50.0,226.6L49.5,227.1L48.8,227.7L48.9,228.4L49.0,229.0L49.0,229.4L48.8,229.6L48.5,229.7L48.1,229.8L47.5,229.9L47.2,230.7L47.4,231.7L47.1,232.1L46.7,232.4L46.3,232.5L46.0,232.7L45.8,233.0L45.9,233.7L46.0,234.6L45.2,235.1L44.7,235.3L44.4,235.5L44.4,235.7L44.4,235.9L44.4,236.3L44.5,236.9L44.0,237.5L43.1,237.9L42.9,238.4L43.0,238.9L43.2,239.3L43.2,239.6L43.1,240.0L42.5,240.3L41.6,240.8L41.6,241.7L41.5,242.4L41.2,242.7L40.8,242.7L40.5,242.7L40.0,242.8L39.6,243.1L39.7,244.1L39.6,244.9L38.9,245.1L38.4,245.2L38.1,245.4L38.0,245.8L38.0,246.1L38.3,246.5L38.8,247.0L38.8,247.5L38.6,247.9L38.4,248.3L38.5,248.7L38.8,249.0L39.2,249.0L39.7,248.8L40.2,248.4L40.7,248.5L41.1,248.8L41.4,249.0L41.8,249.0L42.1,248.9L42.4,248.6L42.5,247.9L43.0,247.2L43.8,247.3L44.4,247.3L44.7,247.1L44.8,246.8L44.8,246.4L44.8,246.0L44.8,245.4L45.5,245.1L46.4,244.9L46.6,244.3L46.5,243.7L46.3,243.3L46.3,242.9L46.5,242.6L47.0,242.5L47.4,242.8L47.7,243.1L47.9,243.3L47.9,243.3L48.1,243.4L48.5,243.6L49.0,243.9L49.2,244.4L49.0,245.3L49.1,246.0L49.7,246.3L50.0,246.5L50.3,246.8L50.4,247.0L50.3,247.4L49.9,248.1L50.1,248.9L50.9,249.5L51.2,250.0L51.1,250.4L50.9,250.7L50.8,251.0L50.7,251.4L51.0,251.8L51.9,252.3L52.2,253.1L51.8,253.9L51.9,254.5L52.4,254.8L52.8,255.0L53.0,255.0L53.1,255.0L53.4,255.1L53.8,255.4L54.3,255.4L54.6,255.1L54.7,254.6L54.4,254.0L54.2,253.3L54.9,252.7L55.6,251.9L55.2,250.9L55.3,250.3L55.6,250.0L56.0,249.8L56.3,249.5L56.5,249.2L56.2,248.5L56.0,247.5L56.9,246.8L57.2,246.2L57.1,245.8L56.9,245.4L56.8,245.0L56.8,244.6L57.2,244.2L58.0,243.5L57.8,242.6L57.6,242.0L57.7,241.7L57.9,241.5L58.1,241.3L58.5,241.1L59.0,240.7L58.8,239.8L58.6,238.8L59.2,238.4L59.7,238.1L59.9,237.8L59.9,237.5L59.7,237.0L59.4,236.3L59.9,235.6L60.6,234.8L60.2,233.9L59.9,233.2L60.1,232.7L60.5,232.4L60.7,232.2L60.7,232.3L60.4,232.4L60.4,232.4L60.4,232.4L60.7,232.6L61.1,233.0L61.4,233.6L61.0,234.3L60.6,235.2L61.6,236.2L61.4,237.1L61.0,237.8L61.1,238.2L61.3,238.6L61.7,238.9L62.0,239.3L61.9,240.0L61.4,241.1L62.2,242.0L62.4,242.6L62.2,243.1L61.9,243.4L61.8,243.8L61.8,244.2L62.4,244.8L62.7,245.8L62.1,246.8L62.4,247.5L62.8,247.9L63.1,248.2L63.2,248.5L63.0,248.9L62.5,249.7L62.9,250.6L63.5,251.6L63.1,252.3L62.8,252.8L62.9,253.1L63.1,253.4L63.6,253.8L63.9,254.4L63.4,255.4L63.6,256.5L64.2,257.3L63.9,258.0L63.4,258.6L63.4,259.1L63.7,259.4L64.0,259.6L64.2,259.5L64.2,259.3L64.2,259.1L64.3,258.9L64.7,258.6L65.3,258.1L65.3,257.4L64.8,256.4L65.6,255.4L65.9,254.5L65.5,253.8L65.3,253.4L65.4,253.1L65.7,252.7L66.1,252.3L66.3,251.6L65.6,250.6L66.1,249.6L66.6,249.0L66.6,248.6L66.4,248.2L66.1,247.9L66.0,247.4L66.3,246.8L67.0,245.9L66.3,244.6L66.7,243.7L67.3,242.9L66.9,242.2L66.5,241.6L66.5,241.2L66.8,240.8L67.2,240.8L67.4,241.1L67.3,241.4L67.2,241.8L67.5,242.2L68.1,242.8L68.2,243.7L67.7,244.8L68.7,245.7L68.7,246.8L68.4,247.6L68.6,248.1L69.0,248.4L69.4,248.6L69.6,249.0L69.4,249.7L69.2,250.7L70.1,251.5L70.3,252.3L69.8,253.1L69.8,253.7L70.1,254.0L70.4,254.2L70.6,254.1L70.6,253.9L70.7,253.7L70.9,253.6L71.4,253.4L71.9,252.9L71.9,252.3L71.3,251.4L71.7,250.5L72.4,249.5L71.8,248.3L72.0,247.7L72.5,247.3L72.7,247.0L72.8,246.7L72.7,246.3L72.2,245.6L72.5,244.6L73.2,243.6L72.7,242.9L72.5,242.4L72.5,242.0L72.7,241.7L73.2,241.3L73.5,240.7L73.0,239.8L73.0,238.8L73.7,238.3L74.0,237.8L73.9,237.5L73.7,237.1L73.5,236.9L73.4,236.5L73.4,236.1"/></defs><use href="#s135" stroke="#532079" stroke-width="3.1"/><use href="#s135" stroke="#6b2a9c" stroke-width="2.11"/><use href="#s135" stroke="#9769b9" stroke-width="0.78" transform="translate(-0.3,-0.4)"/></g>
<g fill="none" stroke-linecap="round" stroke-linejoin="round"><defs><path id="s136" d="M67.8,236.6L67.4,237.3L67.7,237.9L68.2,238.3L68.5,238.8L68.3,239.5L67.8,240.3L68.5,241.3L68.4,242.6L68.3,243.9L68.9,244.6L68.9,245.2L68.5,245.6L68.2,246.0L68.1,246.5L68.7,247.4L68.4,248.6L68.1,249.8L68.7,250.8L68.3,251.3L67.8,251.7L67.5,252.1L67.6,252.7L68.2,253.5L67.7,254.6L67.6,255.8L68.2,256.9L67.6,257.7L67.4,258.4L67.7,258.9L68.1,259.1L68.3,259.0L68.4,259.0L68.5,259.0L68.7,259.0L69.2,258.9L69.7,258.5L69.6,257.7L69.3,256.8L70.1,255.9L70.2,254.6L70.2,253.4L70.9,252.8L71.0,252.2L70.7,251.8L70.3,251.3L70.2,250.7L71.0,249.9L70.7,248.6L70.8,247.3L71.4,246.6L71.3,246.0L71.0,245.6L70.8,245.2L70.8,244.6L71.6,243.9L71.3,242.6L71.4,241.3L72.1,240.5L71.9,239.9L71.6,239.3L71.5,238.9L71.8,238.4L72.4,237.7L71.9,236.6L71.7,235.5L72.3,234.6L71.9,233.9L71.3,233.6L71.0,233.3L70.9,233.0L71.0,232.6L71.3,232.4L71.7,232.3L71.8,232.4L71.7,232.4L71.8,232.5L72.1,232.6L72.7,232.8L73.3,233.3L73.1,234.3L73.1,235.1L73.7,235.4L74.1,235.8L74.3,236.2L74.2,236.6L73.8,237.3L73.8,238.0L74.8,238.9L74.5,240.0L74.4,240.8L74.7,241.1L75.1,241.4L75.4,241.6L75.6,242.0L75.3,242.8L75.3,243.9L76.3,244.7L76.1,245.6L75.7,246.3L75.8,246.7L76.2,247.1L76.7,247.4L77.0,247.8L76.8,248.6L76.7,249.4L77.0,249.8L77.3,249.9L77.6,249.8L77.6,249.7L77.7,249.5L77.9,249.5L78.2,249.5"/></defs><use href="#s136" stroke="#532079" stroke-width="3.1"/><use href="#s136" stroke="#6b2a9c" stroke-width="2.11"/><use href="#s136" stroke="#9769b9" stroke-width="0.78" transform="translate(-0.3,-0.4)"/></g>
<g fill="none" stroke-linecap="round" stroke-linejoin="round"><defs><path id="s137" d="M73.2,234.2L73.4,234.6L73.7,234.8L73.9,234.9L74.2,234.8L74.6,234.7L75.2,234.5L75.7,234.7L76.1,235.6L76.6,236.1L77.2,236.0L77.6,235.9L77.9,235.9L78.2,236.0L78.4,236.2L78.6,236.8L79.0,237.6L79.8,237.6L80.4,237.5L80.8,237.7L80.9,237.9L81.0,238.1L81.1,238.5L81.4,239.0L82.1,239.2L83.0,239.0L83.4,239.1L83.6,239.5L83.8,239.7L83.9,240.0L84.1,240.3L84.5,240.4L85.2,240.2L85.9,240.0L86.3,240.2L86.6,240.5L86.8,240.8L86.9,241.0L87.1,241.1L87.3,241.2L87.5,241.2"/></defs><use href="#s137" stroke="#532079" stroke-width="3.1"/><use href="#s137" stroke="#6b2a9c" stroke-width="2.11"/><use href="#s137" stroke="#9769b9" stroke-width="0.78" transform="translate(-0.3,-0.4)"/></g>
<g fill="none" stroke-linecap="round" stroke-linejoin="round"><defs><path id="s138" d="M87.4,184.0L87.9,183.9L88.2,183.7L88.3,183.3L88.3,183.0L88.2,182.5L88.4,181.9L89.0,181.8L90.0,181.9L90.6,181.5L90.8,180.9L91.1,180.5L91.4,180.4L91.7,180.5L92.1,180.8L92.6,181.3L93.4,181.2L94.2,180.7L94.7,180.7L95.1,181.1L95.4,181.4L95.5,181.6L95.8,181.8L96.4,181.8L97.3,181.8L97.6,182.6L97.8,183.2L97.9,183.5L98.1,183.6L98.4,183.7L98.8,184.0L99.1,184.4L98.9,185.2L98.5,186.0L98.7,186.5L99.1,186.8L99.4,187.1L99.4,187.5L99.2,187.9L98.6,188.2L97.8,188.6L97.8,189.4L97.9,190.1L97.6,190.5L97.2,190.6L96.8,190.5L96.3,190.4L95.8,190.5L95.3,191.4L94.7,191.9L94.0,191.7L93.5,191.6L93.3,191.6L93.1,191.7L92.8,191.9L92.2,192.2L91.5,192.2L90.9,191.4L90.5,191.1L90.2,191.2L89.8,191.3L89.5,191.3L89.0,191.2L88.8,190.8L88.8,189.9L88.5,189.2L87.8,189.1L87.3,188.9L87.0,188.7L86.9,188.3L87.1,187.9L87.5,187.5L87.8,187.1L87.7,186.5L87.5,186.2L87.4,185.8L87.6,185.5L87.8,185.3L88.1,185.2L88.6,185.4L89.4,185.6L89.9,185.2L90.1,184.8L90.2,184.4L90.5,184.1L90.8,184.0L91.1,184.2L91.6,184.6L92.2,185.0L92.8,184.8L93.4,184.4L93.8,184.3L94.1,184.5L94.4,184.8L94.5,185.2L94.5,185.7L94.9,186.1L95.7,186.1L96.2,186.3L96.5,186.5L96.5,186.9L96.3,187.2L96.0,187.5L95.7,187.7L95.4,188.0L95.5,188.5L95.5,189.0L95.4,189.4L95.2,189.7L94.8,189.7L94.4,189.5L93.9,189.1L93.4,189.0L92.9,189.2L92.4,189.5L91.9,189.5L91.6,189.3L91.5,188.9L91.5,188.5L91.4,188.2L91.2,187.8"/></defs><use href="#s138" stroke="#a91d16" stroke-width="3.1"/><use href="#s138" stroke="#d9261d" stroke-width="2.11"/><use href="#s138" stroke="#e46760" stroke-width="0.78" transform="translate(-0.3,-0.4)"/></g>
<g fill="none" stroke-linecap="round" stroke-linejoin="round"><defs><path id="s139" d="M87.4,187.0L86.9,187.3L86.7,187.6L86.8,188.0L86.9,188.4L87.1,188.9L87.1,189.4L86.5,189.9L85.8,190.4L86.0,191.3L86.1,192.0L85.9,192.4L85.5,192.6L85.2,192.7L84.9,192.9L84.7,193.1L84.7,193.5"/></defs><use href="#s139" stroke="#a91d16" stroke-width="3.1"/><use href="#s139" stroke="#d9261d" stroke-width="2.11"/><use href="#s139" stroke="#e46760" stroke-width="0.78" transform="translate(-0.3,-0.4)"/></g>
<g fill="none" stroke-linecap="round" stroke-linejoin="round"><defs><path id="s140" d="M89.8,185.8L90.5,185.7L90.8,185.3L90.8,184.6L90.9,183.9L91.4,183.6L92.2,183.7L92.8,183.7L93.4,183.1L94.1,182.7L94.7,183.1L95.1,183.6L95.3,183.8L95.6,183.9L96.2,184.1L96.6,184.5L96.6,185.2L96.2,185.9L96.2,186.3L96.4,186.6L96.6,187.0L96.6,187.6L96.2,187.9L95.4,187.9L94.6,188.1L94.3,188.9L93.9,189.6L93.4,189.7L92.9,189.4L92.5,189.1L92.1,189.0L91.6,189.2L90.9,189.5L90.3,189.3L90.0,188.7L90.0,188.3L90.0,188.1L89.8,187.9L89.6,187.7L89.5,187.3L89.5,186.8L89.8,186.4L90.3,186.4L90.8,186.6L91.2,186.9L91.6,186.8L92.0,186.5L92.4,186.1L92.7,186.0"/></defs><use href="#s140" stroke="#981a14" stroke-width="3.1"/><use href="#s140" stroke="#c3221a" stroke-width="2.11"/><use href="#s140" stroke="#d5645e" stroke-width="0.78" transform="translate(-0.3,-0.4)"/></g>
<g fill="none" stroke-linecap="round" stroke-linejoin="round"><defs><path id="s141" d="M98.8,185.2L99.2,185.2L99.6,185.1L99.7,184.9L99.8,184.7L99.9,184.3L100.0,183.8L100.4,183.4L101.2,183.4L102.0,183.4L102.3,183.1L102.4,182.7L102.5,182.3L102.7,182.1L103.1,181.9L103.5,182.0L104.2,182.5L104.9,182.5L105.3,182.2L105.6,181.8L105.9,181.7L106.3,181.7L106.5,181.9L106.7,182.4L107.0,183.1L107.6,183.4L108.1,183.3L108.6,183.3L108.9,183.4L109.1,183.7L109.0,184.1L108.8,184.6L108.6,185.3L109.0,185.8L109.4,186.2L109.6,186.5L109.6,186.9L109.4,187.2L109.0,187.3L108.4,187.5L108.0,188.0L108.2,188.7L108.3,189.2L108.2,189.6L108.0,189.8L107.7,189.9L107.4,189.9L107.0,189.7L106.5,189.6L106.1,189.8L105.8,190.0L105.4,190.0L105.0,189.9L104.9,189.8L104.8,189.6L104.6,189.3L104.1,189.1L103.6,189.2L103.3,189.6L103.3,190.1L103.3,190.4L103.4,190.7L103.3,190.9L103.1,191.3L102.7,191.9L102.7,192.4L103.2,192.7L103.7,192.7L104.1,192.5L104.5,192.5L104.8,192.7L105.0,193.1L104.7,193.6L104.4,194.0L104.3,194.2L104.3,194.4L104.4,194.7L104.3,195.1L104.0,195.5L103.6,195.7L103.0,195.4L102.5,195.1L102.3,195.0L102.2,195.0L102.0,195.0L101.6,195.0L101.3,195.1L101.0,195.2L100.6,195.2L100.1,194.8L99.7,194.6L99.4,194.5L99.1,194.7L98.9,194.9L98.8,195.3L99.0,195.6L99.2,196.0L99.2,196.3L99.1,196.6L99.1,197.0L99.2,197.5L99.3,197.7L99.6,197.9L100.0,198.0L100.3,198.4L100.4,198.9L100.2,199.2L99.8,199.4L99.5,199.4L99.3,199.3L99.0,199.2L98.7,199.2L98.2,199.5L97.7,199.9L97.2,199.8L97.0,199.6L96.9,199.2L96.9,198.9L96.8,198.4L96.4,198.1L95.8,198.1L95.3,198.5L94.9,198.7L94.8,198.7L94.7,198.7L94.6,198.7L94.3,198.7L93.8,198.6L93.2,198.6L92.8,199.1L92.5,199.7L92.3,200.0L92.0,200.0L91.7,200.0L91.4,200.0L90.9,200.2L90.6,200.6L90.7,201.2L91.0,201.7L91.1,201.9L91.1,202.0L91.1,202.2L91.1,202.5L91.1,203.0L91.3,203.5L91.7,203.7L92.2,203.7L92.5,203.6L92.6,203.5L92.8,203.4L93.1,203.4L93.5,203.7L94.0,204.1L94.6,204.2L95.0,203.8L95.1,203.4L95.2,203.0L95.3,202.8L95.7,202.6L96.1,202.7L96.4,203.2L96.6,203.7L96.9,204.0L97.1,204.0L97.5,204.1L97.9,204.3L98.1,204.7L98.0,205.1L97.6,205.6L97.2,206.0L97.0,206.2L97.0,206.3L97.0,206.4L96.9,206.7L96.7,207.1L96.5,207.5L95.9,207.6L95.2,207.5L94.9,207.5L94.7,207.5L94.5,207.7L94.3,207.8L94.2,208.1L94.0,208.6L93.6,209.0L93.0,208.9L92.4,208.8L92.1,208.8L91.9,209.0L91.7,209.3L91.7,209.6L91.9,210.0L92.0,210.5L91.8,210.9L91.5,211.2L91.3,211.4L91.2,211.6L91.2,211.9L91.3,212.2L91.7,212.4L92.4,212.7L92.9,213.1L92.9,213.5L92.8,213.9L92.8,214.2L92.9,214.5L93.0,214.8L93.4,215.0L94.2,215.0L94.7,215.3L94.8,215.7L94.9,216.0L94.9,216.2L95.0,216.4L95.0,216.6L95.1,216.9L95.7,217.1L96.4,217.2L96.8,217.5L96.9,217.8L96.9,218.2L96.8,218.5L96.7,218.7L96.6,218.9L96.7,219.4L97.1,219.9L97.2,220.4L97.1,220.7L96.8,221.0L96.4,221.0L96.0,220.9L95.6,220.7L95.2,220.8L94.8,221.2L94.4,221.5L94.1,221.5L93.8,221.4L93.6,221.2L93.5,220.8L93.5,220.2L93.0,219.6L92.3,219.7L91.8,219.7L91.4,219.5L91.3,219.3L91.2,219.1L91.2,218.7L91.0,218.2L90.6,217.8L89.9,217.9L89.5,218.1L89.3,218.2L89.2,218.2L89.0,218.2L88.8,218.1L88.5,217.8L88.1,217.3L87.6,217.1L87.3,217.1L86.9,217.2L86.7,217.3L86.5,217.3L86.4,217.4L86.1,217.4L85.6,217.0L85.0,216.7L84.5,216.7L84.2,217.0L83.9,217.4L83.8,217.7L83.8,217.8L83.6,217.9L83.2,218.2L82.9,218.6L82.8,219.0L83.0,219.4L83.4,219.6L83.9,219.6L84.4,219.6L84.7,220.0L84.9,220.7L85.3,221.3L85.8,221.4L86.2,221.2L86.4,221.0L86.6,220.8L86.9,220.7L87.2,220.8L87.4,221.0"/></defs><use href="#s141" stroke="#a91d16" stroke-width="3.1"/><use href="#s141" stroke="#d9261d" stroke-width="2.11"/><use href="#s141" stroke="#e46760" stroke-width="0.78" transform="translate(-0.3,-0.4)"/></g>
<g fill="none" stroke-linecap="round" stroke-linejoin="round"><defs><path id="s142" d="M83.2,218.2L82.7,218.1L82.3,218.2L82.1,218.5L82.0,218.8L81.9,219.3L81.6,219.8L81.0,219.9L80.0,219.6L79.5,220.1L79.1,220.6L78.7,220.9L78.4,221.0L78.2,220.9L77.9,220.7L77.4,220.7L76.9,220.9L76.7,221.5L76.7,222.0L76.7,222.3L76.7,222.4L76.7,222.5L76.6,222.7L76.4,223.2L76.2,223.7L76.4,224.2L76.8,224.5L77.2,224.6L77.4,224.7L77.6,224.7L77.7,224.9L77.9,225.3L78.4,225.7L78.9,225.8L79.3,225.4L79.4,224.9L79.4,224.5L79.6,224.2L79.9,224.0L80.4,224.1L80.7,224.5L81.0,224.7L81.1,224.8L81.2,224.8L81.4,224.9L81.7,225.1L82.0,225.4L82.1,225.9L81.8,226.7L81.8,227.3L82.2,227.6L82.5,227.8L82.8,228.0L83.0,228.1L83.2,228.4L83.2,228.9L82.9,229.7L83.1,230.4L83.7,230.7L84.1,230.9L84.3,231.1L84.4,231.3L84.3,231.6L84.1,232.1L84.0,232.8L84.3,233.2L84.8,233.5L85.1,233.6L85.2,233.8L85.3,233.9L85.3,234.0L85.4,234.1L85.4,234.3"/></defs><use href="#s142" stroke="#a91d16" stroke-width="3.1"/><use href="#s142" stroke="#d9261d" stroke-width="2.11"/><use href="#s142" stroke="#e46760" stroke-width="0.78" transform="translate(-0.3,-0.4)"/></g>
<g fill="none" stroke-linecap="round" stroke-linejoin="round"><defs><path id="s143" d="M76.8,221.6L77.2,221.7L77.5,221.7L77.7,221.6L77.8,221.4L78.0,221.1L78.1,220.7L78.5,220.2L79.1,220.1L79.9,220.4L80.3,220.5L80.6,220.3L80.7,220.1L80.9,219.9L81.1,219.6L81.6,219.4L82.2,219.6L82.9,220.1L83.4,220.1L83.8,219.7L84.2,219.4L84.5,219.3L84.9,219.4L85.2,219.8L85.1,220.5L85.1,221.0L85.1,221.2L85.3,221.3L85.4,221.6L85.5,222.0L85.5,222.5L85.1,222.9L84.3,223.3L84.0,223.8L84.1,224.4L84.0,224.9L83.8,225.2L83.6,225.3L83.3,225.4L82.7,225.6L82.4,226.3L82.9,227.1L83.1,227.6L83.0,227.8L82.9,228.1L82.8,228.4L82.7,228.9L82.8,229.4L83.6,229.9L84.0,230.7L83.7,231.3L83.5,231.7L83.5,232.0L83.7,232.3L84.0,232.5L84.6,232.8L84.9,233.5L84.6,234.4L84.6,234.9L84.8,235.1L85.0,235.3L85.2,235.4L85.6,235.5L86.0,235.8L86.0,236.5L85.7,237.4L85.9,237.9L86.4,238.2L86.8,238.4L87.1,238.6L87.2,238.8L87.1,239.2L87.0,239.6"/></defs><use href="#s143" stroke="#a91d16" stroke-width="3.1"/><use href="#s143" stroke="#d9261d" stroke-width="2.11"/><use href="#s143" stroke="#e46760" stroke-width="0.78" transform="translate(-0.3,-0.4)"/></g>
<g fill="none" stroke-linecap="round" stroke-linejoin="round"><defs><path id="s144" d="M77.4,222.2L77.3,222.7L77.3,223.0L77.5,223.3L77.9,223.5L78.4,223.7L78.8,223.9L78.9,224.5L78.9,225.5L79.5,225.9L80.2,225.9L80.6,226.0L80.8,226.1L81.0,226.3L81.1,226.6L81.2,227.0L81.4,227.3"/></defs><use href="#s144" stroke="#a91d16" stroke-width="3.1"/><use href="#s144" stroke="#d9261d" stroke-width="2.11"/><use href="#s144" stroke="#e46760" stroke-width="0.78" transform="translate(-0.3,-0.4)"/></g>
<text x="9.50" y="169.60" font-size="9.3" font-weight="bold" text-anchor="start" fill="#111"  stroke="#111" stroke-width="0.22">Ori</text>
<text x="101.70" y="215.90" font-size="9.8" font-weight="bold" text-anchor="start" fill="#111"  stroke="#111" stroke-width="0.22">Ter</text>
<text x="57.00" y="272.50" font-size="9.5" font-weight="bold" text-anchor="middle" fill="#111"  stroke="#111" stroke-width="0.22">Norm_Log</text>
<g fill="none" stroke-linecap="round" stroke-linejoin="round"><defs><path id="s145" d="M170.6,188.2L171.0,188.3L171.4,188.2L171.6,188.0L171.7,187.7L171.8,187.3L172.0,186.8L172.4,186.5L173.0,186.8L173.5,187.3L173.8,187.6L174.1,187.6L174.4,187.6L174.8,187.5L175.2,187.5L175.4,187.6L175.6,187.9"/></defs><use href="#s145" stroke="#0e6b38" stroke-width="3.0"/><use href="#s145" stroke="#128a48" stroke-width="2.04"/><use href="#s145" stroke="#59ad7e" stroke-width="0.75" transform="translate(-0.3,-0.4)"/></g>
<g fill="none" stroke-linecap="round" stroke-linejoin="round"><defs><path id="s146" d="M157.4,198.4L158.0,198.6L158.4,198.4L158.6,198.0L158.7,197.5L159.0,197.0L159.5,196.8L160.2,197.3L161.0,197.7L161.9,197.0L162.6,196.9L163.1,197.5L163.4,198.0L163.6,198.2L164.1,198.3L164.7,198.4L165.1,198.9L164.9,199.5L164.5,199.8L164.2,200.0L164.0,200.1L163.9,200.6L163.6,201.3L163.0,201.6L162.1,201.2L161.4,201.1L161.0,201.5L160.4,201.9L159.9,201.9L159.6,201.5L159.4,200.9L159.2,200.5L158.7,200.4"/></defs><use href="#s146" stroke="#0e6b38" stroke-width="3.0"/><use href="#s146" stroke="#128a48" stroke-width="2.04"/><use href="#s146" stroke="#59ad7e" stroke-width="0.75" transform="translate(-0.3,-0.4)"/></g>
<g fill="none" stroke-linecap="round" stroke-linejoin="round"><defs><path id="s147" d="M164.0,209.8L163.3,209.9L163.0,210.3L163.0,210.9L163.0,211.5L162.6,211.9L161.8,212.0L161.1,212.4L161.2,213.5L160.8,214.3L160.0,214.5L159.4,214.6L159.2,214.9L159.2,215.3L159.4,215.7L159.8,215.8L160.2,216.2L160.2,216.8L160.2,217.4L160.4,217.8L160.9,217.9L161.4,217.7L161.9,217.2L162.6,217.2L163.4,218.0L164.2,217.9L164.6,217.4L164.8,217.1L165.0,216.9L165.2,216.9L165.7,216.9L166.4,217.1L167.1,216.6L167.5,215.6L168.2,215.5L168.8,215.6L169.3,215.5L169.5,215.3L169.6,214.9L169.9,214.4L170.6,214.1L171.2,214.7L171.5,215.2L171.7,215.4L172.1,215.4L172.5,215.5L172.9,215.7L173.1,215.8L173.2,216.2"/></defs><use href="#s147" stroke="#0e6b38" stroke-width="3.0"/><use href="#s147" stroke="#128a48" stroke-width="2.04"/><use href="#s147" stroke="#59ad7e" stroke-width="0.75" transform="translate(-0.3,-0.4)"/></g>
<g fill="none" stroke-linecap="round" stroke-linejoin="round"><defs><path id="s148" d="M163.4,218.2L163.1,218.8L163.2,219.3L163.6,219.7L164.1,220.1L164.2,220.6L163.8,221.3L163.8,222.2L165.0,222.8L165.0,223.9L164.7,224.8L165.1,225.2L165.7,225.5L166.0,225.6L166.2,225.7L166.4,226.2L166.8,227.0L167.6,227.0L168.3,226.6L168.8,226.5L169.2,226.8L169.8,226.9L170.4,226.7L170.5,226.0L170.2,225.2L170.4,224.8L170.8,224.3L171.1,223.7L170.8,223.2L170.2,223.0L169.5,222.9L169.2,222.5L169.4,221.8"/></defs><use href="#s148" stroke="#0e6b38" stroke-width="3.0"/><use href="#s148" stroke="#128a48" stroke-width="2.04"/><use href="#s148" stroke="#59ad7e" stroke-width="0.75" transform="translate(-0.3,-0.4)"/></g>
<g fill="none" stroke-linecap="round" stroke-linejoin="round"><defs><path id="s149" d="M173.0,217.0L172.7,217.6L172.8,218.1L173.2,218.5L173.7,218.9L173.8,219.4L173.4,220.1L173.4,221.0L174.6,221.6L174.7,222.6L174.7,223.5L175.1,223.8L175.7,223.8L176.2,223.7L176.6,224.0L176.7,224.6L176.2,225.5L176.3,226.1L176.7,226.8L176.6,227.5L176.0,227.6L175.4,227.6L174.9,227.8L174.8,228.5L175.4,229.0L176.1,229.4L176.2,229.9L176.2,230.5L176.4,231.0L176.9,231.1L177.5,230.7L178.2,230.3L179.0,230.8L179.8,231.3L180.5,230.8L180.9,230.3L181.2,230.1L181.6,230.2L182.2,230.2L182.8,229.8L182.7,229.0L182.3,228.4L182.3,228.1L182.4,227.6L182.3,227.0L182.1,226.6L181.6,226.5L180.9,226.1L181.0,225.3L181.9,224.8L182.3,224.4L182.2,223.9L182.2,223.3L182.5,222.8L183.1,222.8L183.7,223.2L184.4,223.5L185.0,223.0L185.6,222.8L186.1,223.0L186.3,223.4L186.2,224.0L186.1,224.6L186.6,225.1L187.7,225.1L188.2,225.7L188.2,226.6L188.4,227.0L188.7,227.1L189.1,227.2L189.5,227.2L189.8,227.2L190.2,227.5"/></defs><use href="#s149" stroke="#0e6b38" stroke-width="3.0"/><use href="#s149" stroke="#128a48" stroke-width="2.04"/><use href="#s149" stroke="#59ad7e" stroke-width="0.75" transform="translate(-0.3,-0.4)"/></g>
<g fill="none" stroke-linecap="round" stroke-linejoin="round"><defs><path id="s150" d="M179.0,202.6L179.6,202.7L180.0,202.6L180.2,202.1L180.4,201.5L180.7,201.0L181.3,201.0L182.0,201.3L182.7,201.2L183.1,200.4L183.3,200.0L183.5,199.9L183.7,199.8L184.1,199.8L184.3,200.1L184.4,200.6L184.8,201.2L185.5,201.2L186.2,201.0L186.6,201.1L186.8,201.4L186.9,201.9L186.8,202.6L187.2,203.2L188.4,203.6L188.4,204.7L188.4,205.4L188.7,205.7L189.2,206.0L189.6,206.3L189.8,206.8L189.3,207.6L189.6,208.7L190.6,209.4L190.3,210.3L190.2,211.0L190.5,211.3L190.9,211.5L191.4,211.9L191.5,212.5L190.7,213.4L190.7,214.3L191.3,215.1L191.1,215.8L190.6,216.1L190.1,216.2L189.9,216.2L189.6,216.6L189.3,217.3L188.7,217.6L188.3,217.4L188.1,217.0L188.1,216.5L188.0,216.1L187.5,215.8L186.5,215.6L186.2,214.6L185.9,213.6L185.1,213.5L184.5,213.4L184.2,213.1L184.2,212.6L184.3,212.0L184.1,211.3L183.1,211.1L182.3,210.6L182.4,209.8L182.5,209.2L182.3,208.9L182.0,208.8L181.7,208.7L181.2,208.9L180.7,209.1L180.2,208.7L180.0,208.3L179.7,208.1L179.3,208.1L179.0,208.3L178.8,208.6L178.9,209.3L178.8,210.1L178.0,210.4L177.2,210.6L177.0,211.2L177.3,211.8L177.5,212.3L177.4,212.7L176.9,213.0L176.3,213.3"/></defs><use href="#s150" stroke="#0e6b38" stroke-width="3.0"/><use href="#s150" stroke="#128a48" stroke-width="2.04"/><use href="#s150" stroke="#59ad7e" stroke-width="0.75" transform="translate(-0.3,-0.4)"/></g>
<g fill="none" stroke-linecap="round" stroke-linejoin="round"><defs><path id="s151" d="M176.6,214.6L176.7,215.2L177.0,215.5L177.3,215.5L177.7,215.4L178.3,215.3L178.9,215.4L179.0,216.3L179.2,217.3L180.4,217.6L180.9,218.1L180.7,218.8L180.4,219.4L180.5,219.8L181.0,220.2L181.8,220.3L182.2,221.0L182.3,222.1L182.9,222.4L183.5,222.2L183.8,221.9L184.1,221.8L184.4,221.9L184.7,222.1L185.0,222.6"/></defs><use href="#s151" stroke="#60957e" stroke-width="2.2"/><use href="#s151" stroke="#7cc0a2" stroke-width="1.50"/><use href="#s151" stroke="#a3d2bd" stroke-width="0.55" transform="translate(-0.3,-0.4)"/></g>
<g fill="none" stroke-linecap="round" stroke-linejoin="round"><defs><path id="s152" d="M185.0,211.4L184.8,212.1L185.2,212.5L185.8,212.8L186.3,213.1L186.4,213.7L186.1,214.6L186.8,215.4L187.8,216.3L187.8,217.8L188.9,218.0L189.4,218.3L189.5,218.9L189.4,219.5L189.5,220.0L190.4,220.4L191.0,221.5L190.7,222.8L191.7,223.3L192.2,223.9L192.0,224.5L191.6,224.9L191.3,225.2L191.5,225.8L191.8,226.8L191.1,227.4L190.4,227.7L190.2,227.9L190.2,228.3L189.9,228.7L189.5,229.1L188.9,228.9L188.2,228.2L187.5,228.1L186.9,228.5L186.3,228.5L185.9,228.1L185.9,227.5L185.9,227.0L185.7,226.5L185.1,226.4"/></defs><use href="#s152" stroke="#0e6b38" stroke-width="3.0"/><use href="#s152" stroke="#128a48" stroke-width="2.04"/><use href="#s152" stroke="#59ad7e" stroke-width="0.75" transform="translate(-0.3,-0.4)"/></g>
<g fill="none" stroke-linecap="round" stroke-linejoin="round"><defs><path id="s153" d="M188.8,207.5L188.7,208.3L189.2,208.7L190.0,208.9L190.5,209.2L190.5,209.9L190.4,210.6L190.7,211.1L191.4,211.3"/></defs><use href="#s153" stroke="#0e6b38" stroke-width="3.0"/><use href="#s153" stroke="#128a48" stroke-width="2.04"/><use href="#s153" stroke="#59ad7e" stroke-width="0.75" transform="translate(-0.3,-0.4)"/></g>
<g fill="none" stroke-linecap="round" stroke-linejoin="round"><defs><path id="s154" d="M203.0,203.8L203.1,204.4L203.5,204.6L203.9,204.6L204.3,204.4L204.9,204.3L205.4,204.7L205.3,205.4L204.9,206.3L205.4,207.0L205.9,207.5L205.9,208.0L205.5,208.4L204.9,208.6L204.4,209.0L204.7,210.0L204.5,211.1L203.4,211.8L203.7,212.6L203.9,213.2L203.9,213.6L203.7,213.9L203.1,214.1L202.4,214.6L202.7,215.9L202.0,216.8L201.2,217.4L201.3,218.0L201.5,218.6L201.5,219.1L201.1,219.4L200.2,219.7L199.8,220.5L199.9,221.7L199.2,222.1L198.5,222.3L198.3,222.6L198.3,222.8L198.3,223.0L198.0,223.2L197.5,223.5L197.0,223.2L196.8,222.8L196.7,222.3L196.8,222.0L196.6,221.7L195.9,221.3L195.5,220.5L196.2,219.3L195.6,218.3L195.1,217.5L195.7,216.8L196.1,216.3L196.0,215.7L195.6,215.0L195.8,214.2L196.9,213.5L196.6,212.5L196.5,211.7L196.9,211.4L197.3,211.3L197.6,211.4L197.9,211.6L198.2,211.6L198.6,211.4"/></defs><use href="#s154" stroke="#bfb089" stroke-width="2.0"/><use href="#s154" stroke="#f6e2b0" stroke-width="1.36"/><use href="#s154" stroke="#f8eac7" stroke-width="0.50" transform="translate(-0.3,-0.4)"/></g>
<g fill="none" stroke-linecap="round" stroke-linejoin="round"><defs><path id="s155" d="M203.0,196.6L202.5,196.9L202.3,197.4L202.5,197.9L202.8,198.5L202.7,199.0L202.3,199.4L201.7,199.7L201.3,200.0"/></defs><use href="#s155" stroke="#bfb089" stroke-width="2.0"/><use href="#s155" stroke="#f6e2b0" stroke-width="1.36"/><use href="#s155" stroke="#f8eac7" stroke-width="0.50" transform="translate(-0.3,-0.4)"/></g>
<g fill="none" stroke-linecap="round" stroke-linejoin="round"><defs><path id="s156" d="M196.5,211.4L196.5,212.1L197.0,212.4L197.8,212.4L198.5,212.5L198.7,213.2L198.5,213.9L198.6,214.5L199.3,215.2L199.2,216.1L198.4,216.3L197.8,216.2L197.4,216.6L197.1,217.3L196.8,217.7L196.1,217.7L195.3,218.2L195.6,219.1L196.2,219.7L196.1,220.2L195.9,220.8L196.0,221.4L196.5,221.7L197.1,221.5L197.7,221.1L198.2,221.2L198.7,221.4L199.2,221.3L199.6,221.0L199.5,220.4L199.4,219.5L200.1,219.0L201.3,218.7L201.4,217.5L201.7,216.9L202.3,216.9L202.8,216.9L203.2,216.9L203.5,216.6L203.6,215.9L203.7,214.9L204.8,214.5L205.3,213.8L204.9,213.0L204.8,212.4L205.1,212.0L205.5,211.8L205.6,212.0L205.7,212.4L206.1,212.6L206.9,212.7L207.5,213.1L207.3,214.0L206.9,214.8L207.6,215.6L207.8,216.6L206.8,217.6L207.3,218.8L207.0,219.7L206.1,219.8L205.6,219.9L205.3,220.4L205.1,221.1L204.8,221.5L204.2,221.6"/></defs><use href="#s156" stroke="#bfb089" stroke-width="2.0"/><use href="#s156" stroke="#f6e2b0" stroke-width="1.36"/><use href="#s156" stroke="#f8eac7" stroke-width="0.50" transform="translate(-0.3,-0.4)"/></g>
<g fill="none" stroke-linecap="round" stroke-linejoin="round"><defs><path id="s157" d="M203.4,203.4L203.4,204.1L203.8,204.4L204.4,204.4L205.0,204.2L205.6,204.5L205.6,205.2L205.2,206.1L205.9,207.0L206.2,208.0L205.5,208.7L205.2,209.1L205.3,209.6L205.5,210.4L205.1,211.0L204.0,211.6L204.4,213.1L203.4,214.2L203.1,215.1L203.6,215.9L203.6,216.4L203.2,216.8L202.6,217.2L202.3,217.9L202.7,219.2L201.4,219.9L201.1,220.6L201.3,221.4L201.1,221.9L200.8,222.1L200.4,222.1L199.9,222.1L199.4,222.3"/></defs><use href="#s157" stroke="#bfb089" stroke-width="2.0"/><use href="#s157" stroke="#f6e2b0" stroke-width="1.36"/><use href="#s157" stroke="#f8eac7" stroke-width="0.50" transform="translate(-0.3,-0.4)"/></g>
<g fill="none" stroke-linecap="round" stroke-linejoin="round"><defs><path id="s158" d="M205.8,170.4L206.2,170.4L206.6,170.3L206.8,170.1L206.8,169.8L206.8,169.5L207.0,169.0L207.5,168.7L208.2,169.1L208.7,169.8L209.1,169.9L209.7,169.9L210.3,169.9L210.6,170.2L210.7,170.8L211.1,171.4L211.8,171.4L212.4,170.7L212.5,170.3L212.6,170.3L212.8,170.1L213.2,169.9L213.7,169.7L214.0,169.4L214.1,168.4L214.5,167.8L215.1,167.7L215.7,167.7L216.0,167.6L216.1,167.5L216.2,167.2L216.5,166.7L217.1,166.3L217.8,166.7L218.3,167.1L218.6,167.2L218.8,167.1L219.1,167.0L219.6,167.0L220.1,167.2L220.3,167.9L220.2,168.8L220.4,169.1L220.7,169.2L221.1,169.5L221.3,169.8L221.5,170.2L221.2,170.8L220.9,171.8L221.8,172.3L222.4,172.8L222.4,173.2L222.2,173.6L222.1,174.0L222.1,174.5L222.5,174.8L223.5,175.0L224.0,175.5L224.0,176.0L224.1,176.4L224.3,176.6L224.5,176.8L224.6,176.8L225.0,176.8L225.9,176.7L226.3,177.2L226.3,177.7L226.2,178.1L226.2,178.4L226.2,178.6L226.3,178.9L226.8,179.1L227.7,179.1L228.1,179.6L228.2,180.3L228.3,180.8L228.6,181.0L228.9,181.1L229.2,181.0L229.6,180.9L230.0,180.9"/></defs><use href="#s158" stroke="#2463a2" stroke-width="3.0"/><use href="#s158" stroke="#2f7fd0" stroke-width="2.04"/><use href="#s158" stroke="#6da5de" stroke-width="0.75" transform="translate(-0.3,-0.4)"/></g>
<g fill="none" stroke-linecap="round" stroke-linejoin="round"><defs><path id="s159" d="M206.4,171.0L205.8,171.0L205.4,171.2L205.3,171.7L205.3,172.3L205.1,172.8L204.6,173.0L203.7,173.1L203.2,173.8L203.2,174.9L202.8,175.3L202.3,175.3L201.9,175.3L201.6,175.4L201.3,175.8L201.4,176.3L201.9,177.1L201.8,177.8L201.1,178.3L200.8,178.8L201.0,179.3L201.4,179.6L201.8,179.7L202.2,179.9L202.3,180.5L202.4,181.1L202.8,181.5L203.2,181.5L203.5,181.3L203.7,180.8L203.9,180.2L204.4,179.9L205.3,180.2L206.1,180.1L206.3,179.4L206.3,178.9L206.4,178.5L206.7,178.3L207.2,178.2L207.7,178.5L208.2,178.7L208.8,178.3L209.2,178.0L209.6,178.0L209.9,178.2L210.1,178.5L210.0,179.0L209.9,179.7L210.3,180.2L211.3,180.4L211.8,180.7L211.8,181.3L211.6,181.8L211.5,182.2L211.6,182.5L212.0,182.8L212.5,182.9"/></defs><use href="#s159" stroke="#2463a2" stroke-width="3.0"/><use href="#s159" stroke="#2f7fd0" stroke-width="2.04"/><use href="#s159" stroke="#6da5de" stroke-width="0.75" transform="translate(-0.3,-0.4)"/></g>
<g fill="none" stroke-linecap="round" stroke-linejoin="round"><defs><path id="s160" d="M207.0,174.6L207.5,174.9L208.0,174.8L208.2,174.5L208.4,174.1L208.7,173.6L209.3,173.4L209.9,173.9L210.5,174.5L211.3,174.2L212.0,174.0L212.5,174.2L212.6,174.7L212.6,175.2L212.7,175.6L213.0,175.9L213.5,176.0"/></defs><use href="#s160" stroke="#2463a2" stroke-width="3.0"/><use href="#s160" stroke="#2f7fd0" stroke-width="2.04"/><use href="#s160" stroke="#6da5de" stroke-width="0.75" transform="translate(-0.3,-0.4)"/></g>
<g fill="none" stroke-linecap="round" stroke-linejoin="round"><defs><path id="s161" d="M213.0,186.6L213.1,187.2L213.4,187.5L213.8,187.5L214.3,187.4L214.8,187.3L215.3,187.5L215.4,188.4L215.6,189.3L216.7,189.5L217.3,189.8L217.4,190.4L217.2,190.9L217.1,191.2L217.1,191.6L217.5,192.0L218.2,192.5L218.2,193.2L217.8,193.7L217.5,193.9L217.3,194.0L217.2,194.1L217.2,194.3L217.2,194.7L217.3,195.0"/></defs><use href="#s161" stroke="#2463a2" stroke-width="2.3"/><use href="#s161" stroke="#2f7fd0" stroke-width="1.56"/><use href="#s161" stroke="#6da5de" stroke-width="0.57" transform="translate(-0.3,-0.4)"/></g>
<g fill="none" stroke-linecap="round" stroke-linejoin="round"><defs><path id="s162" d="M163.4,184.0L163.9,184.2L164.3,184.2L164.5,184.1L164.7,183.8L164.9,183.3L165.3,182.8L166.0,182.9L167.1,183.3L167.8,182.3L168.4,181.9L169.0,182.2L169.5,182.5L169.9,182.6L170.3,182.3L170.8,181.6L171.7,181.4L172.8,181.8L173.3,181.5L173.5,181.0L173.6,180.7L173.8,180.5L174.0,180.3L174.6,180.4L175.6,180.8L176.2,180.3L176.5,179.5L176.9,179.3L177.3,179.3L177.7,179.4L178.1,179.6L178.5,179.7L179.0,179.3L179.6,178.8L180.1,178.9L180.4,179.2L180.5,179.6L180.4,179.9L180.3,180.2L180.3,180.5L180.5,180.8"/></defs><use href="#s162" stroke="#ad8119" stroke-width="3.3"/><use href="#s162" stroke="#f1b424" stroke-width="3.23" stroke-dasharray="0.01 2.64"/><use href="#s162" stroke="#f6d27b" stroke-width="1.25" stroke-dasharray="0.01 2.64" transform="translate(-0.35,-0.45)"/></g>
<g fill="none" stroke-linecap="round" stroke-linejoin="round"><defs><path id="s163" d="M174.8,181.0L174.2,181.4L174.1,181.8L174.3,182.4L174.6,182.9L174.5,183.5L173.7,183.9L173.0,184.6L173.4,186.0L172.4,186.7L171.8,187.3L172.0,187.8L172.1,188.3L172.1,188.8L171.8,189.1L170.8,189.4L170.6,190.6L170.4,191.8L169.5,192.0L169.1,192.3L169.0,192.6L169.1,193.1L169.3,193.7L168.9,194.4L167.8,195.2L168.2,196.7L167.6,197.3L166.9,197.6L166.7,198.0L166.8,198.5L167.2,199.2L166.9,200.1L166.1,201.3L166.4,202.9L165.3,203.9L165.8,204.9L166.0,205.6L165.4,206.2L164.8,206.8L165.2,207.6L165.6,208.6L164.8,209.5L164.7,210.1L165.0,210.5L165.3,210.6L165.5,210.4L165.6,210.2L165.8,210.1L166.1,210.2"/></defs><use href="#s163" stroke="#ad8119" stroke-width="3.3"/><use href="#s163" stroke="#f1b424" stroke-width="3.23" stroke-dasharray="0.01 2.64"/><use href="#s163" stroke="#f6d27b" stroke-width="1.25" stroke-dasharray="0.01 2.64" transform="translate(-0.35,-0.45)"/></g>
<g fill="none" stroke-linecap="round" stroke-linejoin="round"><defs><path id="s164" d="M179.0,179.8L178.3,180.3L178.4,181.0L178.8,181.6L178.8,182.2L178.1,182.7L177.4,183.3L177.9,184.6L176.9,185.7L176.9,187.1L177.0,188.0L176.4,188.4L175.9,188.7L175.6,189.1L175.8,189.7L176.2,190.7L175.0,191.7L175.4,193.1L175.3,193.9L174.7,194.3L174.3,194.6L174.2,194.9L174.5,195.6L174.9,196.5L173.7,197.7L174.4,199.3L173.7,200.2L173.2,200.8L173.4,201.4L173.9,202.0L173.8,202.7L172.8,203.5L173.4,205.1L172.4,206.4L172.5,207.5L172.9,208.4L172.3,208.9L171.8,209.3L171.6,209.7L171.8,210.3L172.3,211.1"/></defs><use href="#s164" stroke="#ad8119" stroke-width="3.3"/><use href="#s164" stroke="#f1b424" stroke-width="3.23" stroke-dasharray="0.01 2.64"/><use href="#s164" stroke="#f6d27b" stroke-width="1.25" stroke-dasharray="0.01 2.64" transform="translate(-0.35,-0.45)"/></g>
<g fill="none" stroke-linecap="round" stroke-linejoin="round"><defs><path id="s165" d="M180.8,182.2L180.5,182.8L180.6,183.3L181.0,183.6L181.5,183.9L181.8,184.4L181.5,185.1L181.2,186.1L182.4,186.9L182.3,188.0L182.0,188.9L182.5,189.3L183.0,189.6L183.3,189.9L183.4,190.3L183.2,191.1L183.5,192.0L184.6,192.4L184.7,193.2L184.4,193.9L184.4,194.4L184.8,194.8L185.3,194.7L185.6,194.3L186.0,193.7L186.7,193.8L187.5,193.9L187.9,193.4L187.8,192.7L187.7,191.9L188.4,191.4L189.2,190.7L188.8,189.2L189.8,188.5L190.4,187.9L190.2,187.2L189.9,186.8L189.8,186.5L190.0,186.1L190.6,185.5L190.8,184.6L190.0,183.7L190.1,183.0L190.5,182.5L190.7,182.0L190.6,181.7L190.3,181.5L190.0,181.4L189.5,181.1"/></defs><use href="#s165" stroke="#ad8119" stroke-width="3.3"/><use href="#s165" stroke="#f1b424" stroke-width="3.23" stroke-dasharray="0.01 2.64"/><use href="#s165" stroke="#f6d27b" stroke-width="1.25" stroke-dasharray="0.01 2.64" transform="translate(-0.35,-0.45)"/></g>
<g fill="none" stroke-linecap="round" stroke-linejoin="round"><defs><path id="s166" d="M183.8,187.0L184.5,187.4L184.9,187.1L185.3,186.6L185.6,186.0L186.2,186.0L186.9,186.5L187.6,186.8L188.7,186.0L189.6,186.4L190.0,187.2L190.5,187.3L191.0,187.3L191.5,187.2L191.9,187.4L192.0,187.6L192.2,188.2"/></defs><use href="#s166" stroke="#ad8119" stroke-width="3.3"/><use href="#s166" stroke="#f1b424" stroke-width="3.23" stroke-dasharray="0.01 2.64"/><use href="#s166" stroke="#f6d27b" stroke-width="1.25" stroke-dasharray="0.01 2.64" transform="translate(-0.35,-0.45)"/></g>
<g fill="none" stroke-linecap="round" stroke-linejoin="round"><defs><path id="s167" d="M193.4,188.2L193.3,189.0L193.8,189.4L194.6,189.4L195.2,189.7L195.2,190.4L194.9,191.3L195.5,192.0L196.2,192.9L195.5,194.0L195.6,194.7L196.0,195.2L196.2,195.6L196.0,196.1L195.5,196.3L194.6,196.7L194.7,197.8L194.5,198.9L193.5,199.3L193.2,199.9L193.4,200.6L193.4,201.1L193.1,201.4L192.6,201.6L191.9,201.8"/></defs><use href="#s167" stroke="#ad8119" stroke-width="3.3"/><use href="#s167" stroke="#f1b424" stroke-width="3.23" stroke-dasharray="0.01 2.64"/><use href="#s167" stroke="#f6d27b" stroke-width="1.25" stroke-dasharray="0.01 2.64" transform="translate(-0.35,-0.45)"/></g>
<g fill="none" stroke-linecap="round" stroke-linejoin="round"><defs><path id="s168" d="M201.8,187.0L201.2,187.4L201.1,187.9L201.3,188.5L201.3,189.1L201.0,189.6L200.2,190.1L200.2,190.9L201.1,191.7L200.7,192.8L200.5,193.7L201.2,194.2L201.8,194.6L201.9,194.9L202.0,195.5L202.5,195.9L203.1,195.8L203.4,195.1L203.5,194.6L203.8,194.3L204.5,194.0L205.0,193.4L204.6,192.4L204.7,191.5L205.9,190.8L205.6,189.6L205.4,188.9L205.8,188.4L206.1,188.0L206.3,187.8L206.3,187.8L206.3,187.5L206.5,186.8L207.0,186.3L207.6,186.4L208.0,186.7L208.3,187.0L208.6,187.1L209.2,187.0L210.0,187.2L210.1,188.3L210.4,189.1L211.2,189.3L211.8,189.5L212.0,190.0L211.7,190.6L211.2,191.2L211.3,191.9L211.9,193.1L210.9,193.9L210.6,194.5L210.8,195.1L210.8,195.7L210.5,196.0L209.9,196.2L209.0,196.6L209.3,197.9L208.6,198.9L207.8,199.3L207.8,200.0L207.9,200.6L208.0,201.0L207.8,201.3L207.4,201.9L207.4,202.7L208.4,203.3L208.8,203.8L208.6,204.6L208.9,205.3L209.5,205.4L210.1,205.0L210.7,204.6L211.4,205.0L212.3,205.2L212.7,204.6L212.6,203.9L212.6,203.3L213.1,202.9L213.8,202.5L213.9,202.1L213.7,201.4"/></defs><use href="#s168" stroke="#ad8119" stroke-width="3.3"/><use href="#s168" stroke="#f1b424" stroke-width="3.23" stroke-dasharray="0.01 2.64"/><use href="#s168" stroke="#f6d27b" stroke-width="1.25" stroke-dasharray="0.01 2.64" transform="translate(-0.35,-0.45)"/></g>
<g fill="none" stroke-linecap="round" stroke-linejoin="round"><defs><path id="s169" d="M207.8,206.2L207.9,206.9L208.3,207.2L208.9,207.2L209.5,207.2L209.9,207.5L210.1,208.2L210.5,208.9L211.4,208.7L212.1,208.2L212.6,208.3L213.1,208.6L213.6,208.6L214.0,208.4L214.1,208.1L214.1,207.6L214.2,207.1"/></defs><use href="#s169" stroke="#ad8119" stroke-width="3.3"/><use href="#s169" stroke="#f1b424" stroke-width="3.23" stroke-dasharray="0.01 2.64"/><use href="#s169" stroke="#f6d27b" stroke-width="1.25" stroke-dasharray="0.01 2.64" transform="translate(-0.35,-0.45)"/></g>
<g fill="none" stroke-linecap="round" stroke-linejoin="round"><defs><path id="s170" d="M209.4,184.8L209.4,185.3L209.6,185.7L210.0,185.8L210.3,185.7L210.8,185.7L211.3,185.9L211.5,186.5L211.0,187.2L210.8,187.9L211.0,188.3L211.3,188.7L211.4,189.2L211.3,189.6L210.8,189.8L210.1,190.0L209.7,190.6L209.9,191.6L209.8,192.2L209.3,192.4L208.9,192.4L208.6,192.4L208.3,192.4L208.0,192.6L207.9,193.0"/></defs><use href="#s170" stroke="#ad8119" stroke-width="3.3"/><use href="#s170" stroke="#f1b424" stroke-width="3.23" stroke-dasharray="0.01 2.64"/><use href="#s170" stroke="#f6d27b" stroke-width="1.25" stroke-dasharray="0.01 2.64" transform="translate(-0.35,-0.45)"/></g>
<g fill="none" stroke-linecap="round" stroke-linejoin="round"><defs><path id="s171" d="M201.0,187.2L200.9,187.8L201.1,188.2L201.6,188.4L202.2,188.4L202.7,188.7L202.8,189.3L202.4,190.1L202.4,190.8L203.2,191.5L203.4,192.1L203.1,192.5L202.7,192.7L202.3,192.8L202.0,193.0L201.9,193.7L202.0,194.7L201.2,195.1L200.5,195.2L200.3,195.4L200.2,195.6L200.1,195.9L199.9,196.4L199.5,196.9L198.6,196.7L197.7,196.8L197.3,197.5L196.9,198.0L196.5,198.2L196.1,198.0L195.7,197.7L195.3,197.5L194.9,197.5"/></defs><use href="#s171" stroke="#ad8119" stroke-width="3.3"/><use href="#s171" stroke="#f1b424" stroke-width="3.23" stroke-dasharray="0.01 2.64"/><use href="#s171" stroke="#f6d27b" stroke-width="1.25" stroke-dasharray="0.01 2.64" transform="translate(-0.35,-0.45)"/></g>
<g fill="none" stroke-linecap="round" stroke-linejoin="round"><defs><path id="s172" d="M217.2,193.8L216.6,194.0L216.4,194.4L216.4,194.8L216.6,195.2L216.8,195.8L216.6,196.3L215.7,196.6L215.1,197.2L215.2,198.4L214.7,198.9L213.9,198.9L213.3,198.9L213.0,199.2L213.0,199.6L213.1,200.0L213.4,200.3L213.5,200.5L213.4,200.6L213.5,200.8L213.9,201.1L214.3,201.3L214.7,201.2L215.3,200.7L216.1,200.5L216.7,201.3L217.2,201.8L217.7,201.6L218.2,201.3L218.6,201.1L219.1,201.2L219.3,201.6L219.1,202.2L218.8,202.6L218.6,202.7L218.5,202.8L218.4,203.1L218.3,203.6L218.1,204.2L217.4,204.4L216.3,204.2L215.9,204.9L215.7,205.6L215.5,206.0L215.1,206.1L214.7,206.0L214.2,205.7L213.6,205.6L213.0,206.5L212.4,207.2L211.6,206.9L211.0,206.7L210.6,206.8L210.4,207.1L210.2,207.5L209.9,207.9L209.5,208.1"/></defs><use href="#s172" stroke="#ad8119" stroke-width="3.3"/><use href="#s172" stroke="#f1b424" stroke-width="3.23" stroke-dasharray="0.01 2.64"/><use href="#s172" stroke="#f6d27b" stroke-width="1.25" stroke-dasharray="0.01 2.64" transform="translate(-0.35,-0.45)"/></g>
<g fill="none" stroke-linecap="round" stroke-linejoin="round"><defs><path id="s173" d="M206.4,190.8L206.2,191.4L206.3,191.9L206.8,192.1L207.4,192.3L207.8,192.7L207.7,193.3L207.1,194.1L207.5,195.0L208.0,196.0L207.3,196.5L206.7,196.8L206.4,197.1L206.5,197.7L206.7,198.2L206.8,198.5L206.4,199.2L206.2,200.1L206.8,200.5L207.4,200.4L207.9,200.2L208.2,200.3L208.6,200.6L208.9,201.1L209.2,201.5"/></defs><use href="#s173" stroke="#ad8119" stroke-width="3.3"/><use href="#s173" stroke="#f1b424" stroke-width="3.23" stroke-dasharray="0.01 2.64"/><use href="#s173" stroke="#f6d27b" stroke-width="1.25" stroke-dasharray="0.01 2.64" transform="translate(-0.35,-0.45)"/></g>
<g fill="none" stroke-linecap="round" stroke-linejoin="round"><defs><path id="s174" d="M223.2,199.8L222.8,200.2L222.6,200.5L222.7,200.8L223.0,201.1L223.3,201.6L223.5,202.1L223.0,202.7L222.1,203.2L222.3,204.1L222.4,204.9L222.1,205.3L221.6,205.3L221.1,205.3L220.6,205.6L220.5,206.2L221.1,207.0L221.2,207.7L220.8,208.5L220.8,209.1L221.3,209.4L221.9,209.4L222.4,209.6L222.6,210.2L222.2,210.7L221.6,210.9L221.3,210.9L221.4,210.9L221.3,210.9L221.0,211.1L220.5,211.5L219.8,211.7L219.0,211.0L218.2,210.8L217.5,211.4L216.9,211.6L216.5,211.4L216.2,210.9L215.7,210.5L215.0,210.8L214.3,211.7L213.4,211.4L212.6,211.1L212.1,211.3L211.9,211.8L211.8,212.2L211.9,212.4L211.8,212.7L211.3,213.0L210.7,213.4L210.5,213.9L210.7,214.3L211.1,214.6L211.6,214.6L211.9,214.6L212.3,215.1L212.9,215.9L213.8,215.5L214.5,214.8L215.4,215.0L216.3,215.1L216.7,214.3L217.0,213.7L217.6,213.6L218.0,214.1L217.8,214.5L217.4,214.7L217.2,215.0L217.2,215.8L216.9,216.6L215.9,216.7L214.9,216.9L214.4,218.2L213.3,218.1L212.6,217.8L212.2,218.0L211.7,218.3L211.2,218.4L211.0,218.4L210.6,218.1L209.7,218.0L209.3,218.7L209.4,219.5L209.3,219.9L209.0,220.1L208.6,220.5L208.4,221.0L208.7,221.6L209.7,221.8L210.1,222.3L210.2,223.0L210.5,223.6L211.0,223.7L211.6,223.4L212.2,223.1L212.7,223.2L213.0,223.8"/></defs><use href="#s174" stroke="#532079" stroke-width="3.7"/><use href="#s174" stroke="#6b2a9c" stroke-width="2.52"/><use href="#s174" stroke="#9769b9" stroke-width="0.93" transform="translate(-0.3,-0.4)"/></g>
<g fill="none" stroke-linecap="round" stroke-linejoin="round"><defs><path id="s175" d="M221.9,206.3L221.4,206.7L221.3,207.1L221.5,207.5L221.9,208.0L222.1,208.5L221.8,209.0L220.9,209.3L220.4,209.9L220.4,211.0L220.1,211.4L219.6,211.4L219.2,211.3L218.8,211.1L218.3,211.2L217.8,211.9L216.9,212.4L215.8,211.7L215.1,212.0L214.5,212.5L214.0,212.6L213.7,212.2L213.1,211.8L212.4,211.8L211.9,212.9L211.0,213.3L209.9,213.2L209.6,213.8L209.6,214.5L209.7,215.0L209.4,215.3L208.9,215.8L208.7,216.5L209.3,217.0L209.7,217.2L209.9,217.1L210.1,217.2L210.4,217.6L210.8,218.2L211.4,218.3L212.5,218.0L213.2,218.6L213.8,219.4L214.4,219.3L214.9,218.9L215.5,218.7L215.9,219.0L216.0,219.6L215.8,220.4L216.1,221.0L216.7,221.4L217.0,222.0L216.7,222.4L216.0,222.6L215.3,222.7L215.0,223.4L214.6,224.5L213.4,224.4L212.8,224.4L212.5,224.8L212.1,225.2L211.7,225.4L211.1,225.2L210.2,224.6L209.2,225.6L208.2,225.9L207.2,225.4L206.8,225.7L206.5,226.2L206.3,226.6L205.9,226.9L205.0,226.7L203.9,227.0L203.4,228.2L202.6,228.1L202.1,227.9L201.7,227.9L201.4,228.1L201.2,228.5L201.2,229.4L200.4,230.0L199.2,230.1L199.0,230.9L198.9,231.5L198.7,231.8L198.4,231.9L197.7,232.1L197.1,232.5L197.4,233.8L196.8,234.6L195.9,234.9L195.6,235.3L195.7,235.8L196.0,236.2L196.2,236.6L196.0,237.2L195.3,238.1L196.0,239.0L196.4,239.7L196.1,240.4L195.8,241.0L196.0,241.5L196.5,241.7L197.2,241.5L197.8,241.5L198.3,242.1L198.9,242.4L199.4,242.2L199.6,241.7L199.6,241.0L200.0,240.5L201.1,240.3L201.6,239.5L201.8,238.3L202.8,238.0L203.3,237.4L203.0,236.7L202.8,236.0L203.0,235.5L203.5,235.4L204.1,235.7L204.5,236.1L204.8,236.0L205.3,236.0L205.9,236.2L206.1,236.7L205.7,237.5L205.5,238.4L206.4,239.3L206.0,240.3L205.4,240.9L205.5,241.5L205.7,242.2L205.5,242.7L205.0,243.0L204.3,243.6L204.6,244.5L205.3,245.2L205.0,245.9L204.7,246.4L204.7,246.9L205.0,247.2L205.5,247.2L206.0,246.8L206.7,246.5L207.3,246.9L207.8,247.3L208.4,247.3L208.7,246.9L208.8,246.3L209.0,245.7L209.7,245.5L210.8,245.5L211.1,244.6L211.1,243.9L211.4,243.6L211.7,243.5L212.1,243.4L212.4,243.2L212.6,243.1L212.8,242.8"/></defs><use href="#s175" stroke="#532079" stroke-width="3.7"/><use href="#s175" stroke="#6b2a9c" stroke-width="2.52"/><use href="#s175" stroke="#9769b9" stroke-width="0.93" transform="translate(-0.3,-0.4)"/></g>
<g fill="none" stroke-linecap="round" stroke-linejoin="round"><defs><path id="s176" d="M232.2,176.4L231.7,176.7L231.5,177.0L231.5,177.3L231.7,177.6L231.9,178.1L232.0,178.7L231.4,179.2L230.5,179.8L230.8,180.9L230.9,181.6L230.5,181.9L230.0,182.1L229.6,182.2L229.3,182.6L229.5,183.4L229.7,184.4L228.5,185.0L228.2,185.6L228.5,186.5L228.5,187.0L228.2,187.3L227.9,187.4L227.7,187.7L227.8,188.1L228.2,188.3L228.6,188.3L228.9,188.0L229.0,187.5L229.0,186.8L229.4,186.3L230.5,186.3L231.1,185.5L231.4,184.4L232.2,184.3L232.8,184.4L233.2,184.2L233.4,183.8L233.4,183.2L233.6,182.5L234.6,182.4L235.6,182.2L235.7,181.5L235.6,180.9L235.6,180.5L235.8,180.3L236.2,180.2L236.6,180.4L237.0,180.8L237.3,181.2L237.6,181.2L237.7,181.1L238.0,181.1L238.4,181.2L238.8,181.6L238.7,182.2L238.4,183.2L238.9,183.8L239.6,184.1L239.9,184.4L239.9,184.8L239.7,185.2L239.3,185.7L239.3,186.4L240.4,187.1L240.4,188.0L240.0,188.8L240.0,189.2L240.2,189.4L240.5,189.7L241.0,189.9L241.3,190.4L240.9,191.5L241.2,192.3L242.0,192.8L242.3,193.1L242.2,193.4L242.1,193.8L242.0,194.3L242.1,194.8L242.9,195.1L243.8,195.0L244.2,195.4L244.6,196.0L245.1,196.2L245.4,196.1L245.6,195.9L245.9,195.8L246.4,196.1L246.5,196.7L246.1,197.1L245.7,197.1L245.2,196.9L244.6,196.9L244.2,197.3L244.2,198.1L244.0,198.8L243.1,199.1L242.6,199.5L242.5,200.0L242.7,200.4L243.0,200.7L243.2,201.0L243.1,201.5L242.7,202.3L242.8,203.0L243.3,203.2L243.7,203.2L244.0,203.1L244.3,203.1L244.6,203.4L244.8,204.2L245.1,204.9L246.1,205.0L246.8,205.2L247.0,205.7L247.1,206.3L247.1,206.6L247.2,206.8L247.6,207.1L248.2,207.6L248.2,208.2L247.8,208.6L247.4,208.6L247.0,208.5L246.7,208.6L246.3,209.0L246.2,209.8L245.7,210.3L244.7,210.3L244.2,210.4L244.1,210.7L244.0,210.9L244.0,211.2L244.0,211.7L243.9,212.2L243.0,212.4L242.1,212.7L242.0,213.2L242.1,213.7L242.1,214.1L242.0,214.4L241.7,214.7L241.0,214.8L240.2,215.1L240.1,216.0L239.8,216.7L239.3,216.8L238.9,216.6L238.5,216.5L238.1,216.6L237.8,217.1L238.2,217.8L238.6,218.4L238.6,218.8L238.4,219.2L238.4,219.7L238.5,220.2L239.0,220.4L239.8,220.5L240.3,221.2L240.0,222.3L240.4,222.8L241.0,223.0L241.4,223.1L241.7,223.3L241.8,223.6L241.8,224.0L241.7,224.5"/></defs><use href="#s176" stroke="#a91d16" stroke-width="3.3"/><use href="#s176" stroke="#d9261d" stroke-width="2.24"/><use href="#s176" stroke="#e46760" stroke-width="0.82" transform="translate(-0.3,-0.4)"/></g>
<g fill="none" stroke-linecap="round" stroke-linejoin="round"><defs><path id="s177" d="M244.2,205.6L243.6,206.0L243.4,206.5L243.6,207.2L243.6,207.8L243.1,208.2L242.4,208.7L242.4,209.4L243.2,210.0L243.5,210.6L243.4,211.3L243.5,211.9L243.9,212.2L244.5,212.0L245.0,211.6L245.5,211.5L246.1,211.9L246.8,212.4L247.4,212.2L247.5,211.5L247.5,211.0L247.6,210.7L247.7,210.6L248.2,211.0L248.2,210.9L247.8,210.9L247.4,211.0L247.0,211.2L246.9,211.6L246.9,212.4L246.6,213.0L245.4,213.1L244.7,213.7L244.4,214.9L243.6,214.9L242.9,214.7L242.6,214.7L242.3,215.0L242.1,215.5L241.9,216.2L241.1,216.5L240.0,216.7L239.8,217.5L239.7,218.1L239.5,218.4L239.3,218.4L239.0,218.6L238.6,219.1L238.7,219.7L239.4,220.2L239.8,220.3L240.0,220.4L240.2,220.7L240.5,221.2L240.8,221.7L241.5,221.7L242.6,221.8L242.8,222.9L242.9,223.5L243.3,223.7L243.7,223.8L244.1,223.8L244.6,224.0L244.7,224.5L244.5,225.6L245.0,226.2L245.9,226.4L246.3,226.6L246.4,227.0L246.4,227.4L246.1,227.7L245.8,227.9L245.7,228.4L246.0,229.1L246.0,229.6L245.8,230.0L245.3,230.0L244.9,229.8L244.4,229.4L243.7,229.3L242.9,230.2L242.1,230.1L241.5,229.4L241.2,229.1L240.7,229.2L240.2,229.4L239.7,229.6L239.2,229.4L238.4,228.8L237.7,229.0L237.4,229.6L237.4,229.9L237.5,230.1L237.4,230.3L237.0,230.6L236.4,230.6L235.7,230.7L235.3,231.4L235.1,232.0L234.8,232.2L234.5,232.2L234.2,232.1L233.8,231.9L233.2,231.7L232.6,232.1L232.2,233.0L231.7,233.2L231.3,233.0L231.0,232.8L230.6,232.6L230.2,232.6L229.9,232.9L229.7,233.8L229.2,234.4L228.5,234.4L227.9,234.2L227.5,234.4L227.3,234.8L227.4,235.2L227.8,235.6L228.1,236.1L227.9,236.7L227.6,237.2L227.6,237.7L227.9,238.0L228.3,238.1L229.0,237.9L229.7,237.9L230.1,238.8L230.6,239.6L231.4,239.5L232.1,239.4L232.4,239.6L232.6,239.9L232.9,240.4L233.4,240.6L234.0,240.2L234.5,239.4L235.0,239.3L235.5,239.4L236.0,239.4L236.4,239.0L236.4,238.5L236.0,238.0L235.4,237.5L235.5,237.0L235.8,236.4L235.9,235.9L235.7,235.5L235.2,235.4L234.6,235.6L233.9,235.7L233.4,234.9L232.8,234.2L232.1,234.4L231.6,234.9L231.2,235.1L230.8,235.0L230.4,234.7L229.9,234.5L229.5,234.4"/></defs><use href="#s177" stroke="#a91d16" stroke-width="3.3"/><use href="#s177" stroke="#d9261d" stroke-width="2.24"/><use href="#s177" stroke="#e46760" stroke-width="0.82" transform="translate(-0.3,-0.4)"/></g>
<g fill="none" stroke-linecap="round" stroke-linejoin="round"><defs><path id="s178" d="M214.3,241.9L214.9,241.7L215.2,241.4L215.2,240.9L215.0,240.4L215.1,239.8L215.7,239.5L216.6,239.2L216.7,238.0L217.0,237.1L217.9,236.9L218.4,236.7L218.5,236.5L218.6,236.1L218.4,235.5L218.5,234.8L219.5,234.4L220.1,233.5L219.7,232.5L220.0,231.9L220.6,231.5L220.9,231.2L221.0,231.1L221.0,230.8L221.2,230.3L221.7,230.0L222.2,230.1L222.5,230.6L222.4,231.1L222.4,231.6L222.8,232.1L223.5,232.7L223.3,233.6L222.7,234.5L223.0,235.0L223.4,235.5L223.5,236.0L223.2,236.3L222.6,236.6L221.8,237.0L222.1,238.2L221.8,239.1L220.9,239.4L220.4,239.6L220.3,240.1L220.3,240.6L220.4,240.9L220.4,241.2L219.9,241.9L219.7,242.8L220.4,243.2L221.0,243.4L221.3,243.6L221.5,244.2L221.9,244.8L222.5,244.8L223.2,244.2L223.8,244.0L224.2,244.2L224.6,244.4L225.1,244.3L225.4,244.0L225.3,243.4L225.0,242.5L225.5,241.8L226.5,241.3L226.4,240.5L225.9,240.0L225.6,239.6L225.8,239.1L226.2,238.6L226.6,238.2L226.5,237.5L226.3,236.6L226.6,236.2L227.1,236.1L227.4,236.3L227.6,236.5L227.8,236.7L228.2,236.8L228.5,236.6"/></defs><use href="#s178" stroke="#a91d16" stroke-width="3.3"/><use href="#s178" stroke="#d9261d" stroke-width="2.24"/><use href="#s178" stroke="#e46760" stroke-width="0.82" transform="translate(-0.3,-0.4)"/></g>
<g fill="none" stroke-linecap="round" stroke-linejoin="round"><defs><path id="s179" d="M216.8,234.3L216.8,234.8L216.9,235.1L217.1,235.3L217.5,235.5L218.0,235.5L218.5,235.6L218.8,236.2L219.1,237.2L220.0,237.3L220.7,237.1L221.0,237.1L221.2,237.3L221.4,237.7L221.8,238.1L222.3,238.4L223.2,237.9L224.1,237.9L224.6,238.7L225.1,239.0L225.5,238.9L225.9,238.6L226.3,238.3L226.6,238.2L227.1,238.4"/></defs><use href="#s179" stroke="#a91d16" stroke-width="3.3"/><use href="#s179" stroke="#d9261d" stroke-width="2.24"/><use href="#s179" stroke="#e46760" stroke-width="0.82" transform="translate(-0.3,-0.4)"/></g>
<text x="142.80" y="211.80" font-size="9.3" font-weight="bold" text-anchor="start" fill="#111"  stroke="#111" stroke-width="0.22">Ori</text>
<text x="248.00" y="223.40" font-size="9.8" font-weight="bold" text-anchor="start" fill="#111"  stroke="#111" stroke-width="0.22">Ter</text>
<text x="205.40" y="272.50" font-size="9.5" font-weight="bold" text-anchor="middle" fill="#111"  stroke="#111" stroke-width="0.22">Norm_Sta</text>
<rect x="319.40" y="38.60" width="92.40" height="94.70" fill="#fff"/>
<line x1="350.20" y1="38.60" x2="350.20" y2="133.30" stroke="#c2c2c2" stroke-width="0.6"/>
<line x1="381.00" y1="38.60" x2="381.00" y2="133.30" stroke="#c2c2c2" stroke-width="0.6"/>
<line x1="319.40" y1="116.08" x2="411.80" y2="116.08" stroke="#c2c2c2" stroke-width="0.6"/>
<line x1="319.40" y1="98.86" x2="411.80" y2="98.86" stroke="#c2c2c2" stroke-width="0.6"/>
<line x1="319.40" y1="81.65" x2="411.80" y2="81.65" stroke="#c2c2c2" stroke-width="0.6"/>
<line x1="319.40" y1="64.43" x2="411.80" y2="64.43" stroke="#c2c2c2" stroke-width="0.6"/>
<line x1="319.40" y1="47.21" x2="411.80" y2="47.21" stroke="#c2c2c2" stroke-width="0.6"/>
<path d="M319.40,133.30L319.40,122.87L320.02,122.87L320.02,123.35L320.63,123.35L320.63,126.81L321.25,126.81L321.25,125.92L321.86,125.92L321.86,123.85L322.48,123.85L322.48,121.82L323.10,121.82L323.10,120.21L323.71,120.21L323.71,118.34L324.33,118.34L324.33,117.04L324.94,117.04L324.94,115.43L325.56,115.43L325.56,113.82L326.18,113.82L326.18,112.19L326.79,112.19L326.79,110.34L327.41,110.34L327.41,109.05L328.02,109.05L328.02,107.26L328.64,107.26L328.64,105.68L329.26,105.68L329.26,104.81L329.87,104.81L329.87,103.75L330.49,103.75L330.49,102.65L331.10,102.65L331.10,102.02L331.72,102.02L331.72,100.90L332.34,100.90L332.34,100.47L332.95,100.47L332.95,99.42L333.57,99.42L333.57,98.65L334.18,98.65L334.18,98.08L334.80,98.08L334.80,97.81L335.42,97.81L335.42,97.40L336.03,97.40L336.03,96.84L336.65,96.84L336.65,96.19L337.26,96.19L337.26,96.34L337.88,96.34L337.88,97.26L338.50,97.26L338.50,96.99L339.11,96.99L339.11,97.08L339.73,97.08L339.73,97.50L340.34,97.50L340.34,97.25L340.96,97.25L340.96,97.56L341.58,97.56L341.58,97.51L342.19,97.51L342.19,97.57L342.81,97.57L342.81,98.13L343.42,98.13L343.42,97.96L344.04,97.96L344.04,97.64L344.66,97.64L344.66,97.46L345.27,97.46L345.27,97.31L345.89,97.31L345.89,97.31L346.50,97.31L346.50,97.47L347.12,97.47L347.12,96.57L347.74,96.57L347.74,95.85L348.35,95.85L348.35,95.61L348.97,95.61L348.97,94.77L349.58,94.77L349.58,92.90L350.20,92.90L350.20,91.93L350.82,91.93L350.82,91.17L351.43,91.17L351.43,90.49L352.05,90.49L352.05,89.29L352.66,89.29L352.66,87.33L353.28,87.33L353.28,85.10L353.90,85.10L353.90,83.71L354.51,83.71L354.51,81.07L355.13,81.07L355.13,78.68L355.74,78.68L355.74,76.10L356.36,76.10L356.36,72.82L356.98,72.82L356.98,70.48L357.59,70.48L357.59,67.56L358.21,67.56L358.21,64.51L358.82,64.51L358.82,61.60L359.44,61.60L359.44,59.88L360.06,59.88L360.06,56.97L360.67,56.97L360.67,54.67L361.29,54.67L361.29,50.60L361.90,50.60L361.90,48.22L362.52,48.22L362.52,45.86L363.14,45.86L363.14,45.68L363.75,45.68L363.75,42.96L364.37,42.96L364.37,42.75L364.98,42.75L364.98,41.35L365.60,41.35L365.60,40.52L366.22,40.52L366.22,41.02L366.83,41.02L366.83,38.42L367.45,38.42L367.45,39.56L368.06,39.56L368.06,40.61L368.68,40.61L368.68,41.49L369.30,41.49L369.30,42.71L369.91,42.71L369.91,44.53L370.53,44.53L370.53,46.18L371.14,46.18L371.14,47.67L371.76,47.67L371.76,49.76L372.38,49.76L372.38,52.05L372.99,52.05L372.99,56.70L373.61,56.70L373.61,58.65L374.22,58.65L374.22,62.97L374.84,62.97L374.84,65.81L375.46,65.81L375.46,69.82L376.07,69.82L376.07,72.77L376.69,72.77L376.69,75.74L377.30,75.74L377.30,78.78L377.92,78.78L377.92,82.02L378.54,82.02L378.54,86.11L379.15,86.11L379.15,88.80L379.77,88.80L379.77,92.32L380.38,92.32L380.38,95.46L381.00,95.46L381.00,98.67L381.62,98.67L381.62,101.46L382.23,101.46L382.23,104.42L382.85,104.42L382.85,107.90L383.46,107.90L383.46,110.38L384.08,110.38L384.08,113.12L384.70,113.12L384.70,115.93L385.31,115.93L385.31,118.03L385.93,118.03L385.93,119.78L386.54,119.78L386.54,121.71L387.16,121.71L387.16,123.12L387.78,123.12L387.78,124.37L388.39,124.37L388.39,125.53L389.01,125.53L389.01,126.62L389.62,126.62L389.62,127.35L390.24,127.35L390.24,128.17L390.86,128.17L390.86,128.89L391.47,128.89L391.47,129.46L392.09,129.46L392.09,129.99L392.70,129.99L392.70,130.52L393.32,130.52L393.32,130.86L393.94,130.86L393.94,131.17L394.55,131.17L394.55,131.49L395.17,131.49L395.17,131.68L395.78,131.68L395.78,131.85L396.40,131.85L396.40,131.98L397.02,131.98L397.02,132.12L397.63,132.12L397.63,132.26L398.25,132.26L398.25,132.42L398.86,132.42L398.86,132.54L399.48,132.54L399.48,132.62L400.10,132.62L400.10,132.70L400.71,132.70L400.71,132.78L401.33,132.78L401.33,132.86L401.94,132.86L401.94,132.94L402.56,132.94L402.56,133.02L403.18,133.02L403.18,133.07L403.79,133.07L403.79,133.11L404.41,133.11L404.41,133.15L405.02,133.15L405.02,133.19L405.64,133.19L405.64,133.30L406.26,133.30L406.26,133.30L406.87,133.30L406.87,133.30L407.49,133.30L407.49,133.30L408.10,133.30L408.10,133.30L408.72,133.30L408.72,133.30L409.34,133.30L409.34,133.30L409.95,133.30L409.95,133.30L410.57,133.30L410.57,133.30L411.18,133.30L411.18,133.30L411.80,133.30L411.80,133.30Z" fill="#096e2b"/>
<clipPath id="cTherm_Log"><path d="M319.40,133.30L319.40,122.87L320.02,122.87L320.02,123.35L320.63,123.35L320.63,126.81L321.25,126.81L321.25,125.92L321.86,125.92L321.86,123.85L322.48,123.85L322.48,121.82L323.10,121.82L323.10,120.21L323.71,120.21L323.71,118.34L324.33,118.34L324.33,117.04L324.94,117.04L324.94,115.43L325.56,115.43L325.56,113.82L326.18,113.82L326.18,112.19L326.79,112.19L326.79,110.34L327.41,110.34L327.41,109.05L328.02,109.05L328.02,107.26L328.64,107.26L328.64,105.68L329.26,105.68L329.26,104.81L329.87,104.81L329.87,103.75L330.49,103.75L330.49,102.65L331.10,102.65L331.10,102.02L331.72,102.02L331.72,100.90L332.34,100.90L332.34,100.47L332.95,100.47L332.95,99.42L333.57,99.42L333.57,98.65L334.18,98.65L334.18,98.08L334.80,98.08L334.80,97.81L335.42,97.81L335.42,97.40L336.03,97.40L336.03,96.84L336.65,96.84L336.65,96.19L337.26,96.19L337.26,96.34L337.88,96.34L337.88,97.26L338.50,97.26L338.50,96.99L339.11,96.99L339.11,97.08L339.73,97.08L339.73,97.50L340.34,97.50L340.34,97.25L340.96,97.25L340.96,97.56L341.58,97.56L341.58,97.51L342.19,97.51L342.19,97.57L342.81,97.57L342.81,98.13L343.42,98.13L343.42,97.96L344.04,97.96L344.04,97.64L344.66,97.64L344.66,97.46L345.27,97.46L345.27,97.31L345.89,97.31L345.89,97.31L346.50,97.31L346.50,97.47L347.12,97.47L347.12,96.57L347.74,96.57L347.74,95.85L348.35,95.85L348.35,95.61L348.97,95.61L348.97,94.77L349.58,94.77L349.58,92.90L350.20,92.90L350.20,91.93L350.82,91.93L350.82,91.17L351.43,91.17L351.43,90.49L352.05,90.49L352.05,89.29L352.66,89.29L352.66,87.33L353.28,87.33L353.28,85.10L353.90,85.10L353.90,83.71L354.51,83.71L354.51,81.07L355.13,81.07L355.13,78.68L355.74,78.68L355.74,76.10L356.36,76.10L356.36,72.82L356.98,72.82L356.98,70.48L357.59,70.48L357.59,67.56L358.21,67.56L358.21,64.51L358.82,64.51L358.82,61.60L359.44,61.60L359.44,59.88L360.06,59.88L360.06,56.97L360.67,56.97L360.67,54.67L361.29,54.67L361.29,50.60L361.90,50.60L361.90,48.22L362.52,48.22L362.52,45.86L363.14,45.86L363.14,45.68L363.75,45.68L363.75,42.96L364.37,42.96L364.37,42.75L364.98,42.75L364.98,41.35L365.60,41.35L365.60,40.52L366.22,40.52L366.22,41.02L366.83,41.02L366.83,38.42L367.45,38.42L367.45,39.56L368.06,39.56L368.06,40.61L368.68,40.61L368.68,41.49L369.30,41.49L369.30,42.71L369.91,42.71L369.91,44.53L370.53,44.53L370.53,46.18L371.14,46.18L371.14,47.67L371.76,47.67L371.76,49.76L372.38,49.76L372.38,52.05L372.99,52.05L372.99,56.70L373.61,56.70L373.61,58.65L374.22,58.65L374.22,62.97L374.84,62.97L374.84,65.81L375.46,65.81L375.46,69.82L376.07,69.82L376.07,72.77L376.69,72.77L376.69,75.74L377.30,75.74L377.30,78.78L377.92,78.78L377.92,82.02L378.54,82.02L378.54,86.11L379.15,86.11L379.15,88.80L379.77,88.80L379.77,92.32L380.38,92.32L380.38,95.46L381.00,95.46L381.00,98.67L381.62,98.67L381.62,101.46L382.23,101.46L382.23,104.42L382.85,104.42L382.85,107.90L383.46,107.90L383.46,110.38L384.08,110.38L384.08,113.12L384.70,113.12L384.70,115.93L385.31,115.93L385.31,118.03L385.93,118.03L385.93,119.78L386.54,119.78L386.54,121.71L387.16,121.71L387.16,123.12L387.78,123.12L387.78,124.37L388.39,124.37L388.39,125.53L389.01,125.53L389.01,126.62L389.62,126.62L389.62,127.35L390.24,127.35L390.24,128.17L390.86,128.17L390.86,128.89L391.47,128.89L391.47,129.46L392.09,129.46L392.09,129.99L392.70,129.99L392.70,130.52L393.32,130.52L393.32,130.86L393.94,130.86L393.94,131.17L394.55,131.17L394.55,131.49L395.17,131.49L395.17,131.68L395.78,131.68L395.78,131.85L396.40,131.85L396.40,131.98L397.02,131.98L397.02,132.12L397.63,132.12L397.63,132.26L398.25,132.26L398.25,132.42L398.86,132.42L398.86,132.54L399.48,132.54L399.48,132.62L400.10,132.62L400.10,132.70L400.71,132.70L400.71,132.78L401.33,132.78L401.33,132.86L401.94,132.86L401.94,132.94L402.56,132.94L402.56,133.02L403.18,133.02L403.18,133.07L403.79,133.07L403.79,133.11L404.41,133.11L404.41,133.15L405.02,133.15L405.02,133.19L405.64,133.19L405.64,133.30L406.26,133.30L406.26,133.30L406.87,133.30L406.87,133.30L407.49,133.30L407.49,133.30L408.10,133.30L408.10,133.30L408.72,133.30L408.72,133.30L409.34,133.30L409.34,133.30L409.95,133.30L409.95,133.30L410.57,133.30L410.57,133.30L411.18,133.30L411.18,133.30L411.80,133.30L411.80,133.30Z"/></clipPath>
<g clip-path="url(#cTherm_Log)" stroke="#45a88e" stroke-width="0.6"><line x1="350.20" y1="38.60" x2="350.20" y2="133.30"/><line x1="381.00" y1="38.60" x2="381.00" y2="133.30"/><line x1="319.40" y1="116.08" x2="411.80" y2="116.08"/><line x1="319.40" y1="98.86" x2="411.80" y2="98.86"/><line x1="319.40" y1="81.65" x2="411.80" y2="81.65"/><line x1="319.40" y1="64.43" x2="411.80" y2="64.43"/><line x1="319.40" y1="47.21" x2="411.80" y2="47.21"/></g>
<rect x="319.40" y="38.60" width="92.40" height="94.70" fill="none" stroke="#333" stroke-width="0.9"/>
<line x1="316.80" y1="133.30" x2="319.40" y2="133.30" stroke="#333" stroke-width="0.7"/>
<text x="315.20" y="135.40" font-size="6.2" font-weight="normal" text-anchor="end" fill="#222" >0</text>
<line x1="316.80" y1="116.08" x2="319.40" y2="116.08" stroke="#333" stroke-width="0.7"/>
<text x="315.20" y="118.18" font-size="6.2" font-weight="normal" text-anchor="end" fill="#222" >2000</text>
<line x1="316.80" y1="98.86" x2="319.40" y2="98.86" stroke="#333" stroke-width="0.7"/>
<text x="315.20" y="100.96" font-size="6.2" font-weight="normal" text-anchor="end" fill="#222" >4000</text>
<line x1="316.80" y1="81.65" x2="319.40" y2="81.65" stroke="#333" stroke-width="0.7"/>
<text x="315.20" y="83.75" font-size="6.2" font-weight="normal" text-anchor="end" fill="#222" >6000</text>
<line x1="316.80" y1="64.43" x2="319.40" y2="64.43" stroke="#333" stroke-width="0.7"/>
<text x="315.20" y="66.53" font-size="6.2" font-weight="normal" text-anchor="end" fill="#222" >8000</text>
<line x1="316.80" y1="47.21" x2="319.40" y2="47.21" stroke="#333" stroke-width="0.7"/>
<text x="315.20" y="49.31" font-size="6.2" font-weight="normal" text-anchor="end" fill="#222" >10000</text>
<line x1="319.40" y1="133.30" x2="319.40" y2="135.90" stroke="#333" stroke-width="0.7"/>
<text x="319.40" y="141.30" font-size="6.2" font-weight="normal" text-anchor="middle" fill="#222" >0</text>
<line x1="350.20" y1="133.30" x2="350.20" y2="135.90" stroke="#333" stroke-width="0.7"/>
<text x="350.20" y="141.30" font-size="6.2" font-weight="normal" text-anchor="middle" fill="#222" >20</text>
<line x1="381.00" y1="133.30" x2="381.00" y2="135.90" stroke="#333" stroke-width="0.7"/>
<text x="381.00" y="141.30" font-size="6.2" font-weight="normal" text-anchor="middle" fill="#222" >40</text>
<line x1="411.80" y1="133.30" x2="411.80" y2="135.90" stroke="#333" stroke-width="0.7"/>
<text x="411.80" y="141.30" font-size="6.2" font-weight="normal" text-anchor="middle" fill="#222" >60</text>
<text x="365.60" y="35.50" font-size="10.0" font-weight="bold" text-anchor="middle" fill="#111"  stroke="#111" stroke-width="0.22">Therm_Log</text>
<text x="365.60" y="151.60" font-size="7.5" font-weight="bold" text-anchor="middle" fill="#111"  stroke="#111" stroke-width="0.22">Distance</text>
<text x="294.60" y="86.45" font-size="7.5" font-weight="bold" text-anchor="middle" fill="#111" transform="rotate(-90 294.60 86.45)" stroke="#111" stroke-width="0.22">Amount</text>
<rect x="451.30" y="38.60" width="92.40" height="94.70" fill="#fff"/>
<line x1="482.10" y1="38.60" x2="482.10" y2="133.30" stroke="#c2c2c2" stroke-width="0.6"/>
<line x1="512.90" y1="38.60" x2="512.90" y2="133.30" stroke="#c2c2c2" stroke-width="0.6"/>
<line x1="451.30" y1="116.08" x2="543.70" y2="116.08" stroke="#c2c2c2" stroke-width="0.6"/>
<line x1="451.30" y1="98.86" x2="543.70" y2="98.86" stroke="#c2c2c2" stroke-width="0.6"/>
<line x1="451.30" y1="81.65" x2="543.70" y2="81.65" stroke="#c2c2c2" stroke-width="0.6"/>
<line x1="451.30" y1="64.43" x2="543.70" y2="64.43" stroke="#c2c2c2" stroke-width="0.6"/>
<line x1="451.30" y1="47.21" x2="543.70" y2="47.21" stroke="#c2c2c2" stroke-width="0.6"/>
<path d="M451.30,133.30L451.30,122.78L451.92,122.78L451.92,123.38L452.53,123.38L452.53,126.90L453.15,126.90L453.15,125.05L453.76,125.05L453.76,123.48L454.38,123.48L454.38,121.68L455.00,121.68L455.00,120.36L455.61,120.36L455.61,119.19L456.23,119.19L456.23,118.10L456.84,118.10L456.84,116.84L457.46,116.84L457.46,116.12L458.08,116.12L458.08,115.31L458.69,115.31L458.69,114.65L459.31,114.65L459.31,113.86L459.92,113.86L459.92,113.13L460.54,113.13L460.54,112.39L461.16,112.39L461.16,111.38L461.77,111.38L461.77,110.33L462.39,110.33L462.39,109.13L463.00,109.13L463.00,108.16L463.62,108.16L463.62,107.03L464.24,107.03L464.24,106.00L464.85,106.00L464.85,105.42L465.47,105.42L465.47,104.62L466.08,104.62L466.08,104.01L466.70,104.01L466.70,102.78L467.32,102.78L467.32,103.14L467.93,103.14L467.93,102.35L468.55,102.35L468.55,102.04L469.16,102.04L469.16,101.34L469.78,101.34L469.78,100.53L470.40,100.53L470.40,99.47L471.01,99.47L471.01,97.83L471.63,97.83L471.63,97.08L472.24,97.08L472.24,95.15L472.86,95.15L472.86,94.74L473.48,94.74L473.48,94.45L474.09,94.45L474.09,93.63L474.71,93.63L474.71,92.75L475.32,92.75L475.32,91.96L475.94,91.96L475.94,91.55L476.56,91.55L476.56,90.11L477.17,90.11L477.17,88.82L477.79,88.82L477.79,88.19L478.40,88.19L478.40,87.60L479.02,87.60L479.02,85.95L479.64,85.95L479.64,85.58L480.25,85.58L480.25,84.45L480.87,84.45L480.87,83.86L481.48,83.86L481.48,82.85L482.10,82.85L482.10,80.50L482.72,80.50L482.72,79.69L483.33,79.69L483.33,77.67L483.95,77.67L483.95,75.10L484.56,75.10L484.56,72.79L485.18,72.79L485.18,72.02L485.80,72.02L485.80,72.20L486.41,72.20L486.41,72.12L487.03,72.12L487.03,70.79L487.64,70.79L487.64,70.01L488.26,70.01L488.26,70.26L488.88,70.26L488.88,70.06L489.49,70.06L489.49,68.69L490.11,68.69L490.11,68.30L490.72,68.30L490.72,66.41L491.34,66.41L491.34,64.69L491.96,64.69L491.96,62.38L492.57,62.38L492.57,60.66L493.19,60.66L493.19,59.10L493.80,59.10L493.80,58.24L494.42,58.24L494.42,56.89L495.04,56.89L495.04,55.49L495.65,55.49L495.65,53.99L496.27,53.99L496.27,53.20L496.88,53.20L496.88,52.90L497.50,52.90L497.50,54.90L498.12,54.90L498.12,55.24L498.73,55.24L498.73,57.75L499.35,57.75L499.35,59.40L499.96,59.40L499.96,60.48L500.58,60.48L500.58,61.24L501.20,61.24L501.20,63.21L501.81,63.21L501.81,64.47L502.43,64.47L502.43,67.17L503.04,67.17L503.04,68.75L503.66,68.75L503.66,70.43L504.28,70.43L504.28,70.82L504.89,70.82L504.89,72.65L505.51,72.65L505.51,74.85L506.12,74.85L506.12,76.63L506.74,76.63L506.74,79.03L507.36,79.03L507.36,80.86L507.97,80.86L507.97,83.70L508.59,83.70L508.59,86.04L509.20,86.04L509.20,89.10L509.82,89.10L509.82,91.56L510.44,91.56L510.44,94.57L511.05,94.57L511.05,97.12L511.67,97.12L511.67,99.93L512.28,99.93L512.28,102.57L512.90,102.57L512.90,105.39L513.52,105.39L513.52,108.73L514.13,108.73L514.13,111.74L514.75,111.74L514.75,114.79L515.36,114.79L515.36,117.23L515.98,117.23L515.98,119.76L516.60,119.76L516.60,122.08L517.21,122.08L517.21,123.79L517.83,123.79L517.83,125.34L518.44,125.34L518.44,126.81L519.06,126.81L519.06,127.77L519.68,127.77L519.68,128.46L520.29,128.46L520.29,129.18L520.91,129.18L520.91,129.73L521.52,129.73L521.52,130.26L522.14,130.26L522.14,130.78L522.76,130.78L522.76,131.21L523.37,131.21L523.37,131.54L523.99,131.54L523.99,131.85L524.60,131.85L524.60,132.19L525.22,132.19L525.22,132.38L525.84,132.38L525.84,132.56L526.45,132.56L526.45,132.73L527.07,132.73L527.07,132.87L527.68,132.87L527.68,132.97L528.30,132.97L528.30,133.07L528.92,133.07L528.92,133.15L529.53,133.15L529.53,133.19L530.15,133.19L530.15,133.30L530.76,133.30L530.76,133.30L531.38,133.30L531.38,133.30L532.00,133.30L532.00,133.30L532.61,133.30L532.61,133.30L533.23,133.30L533.23,133.30L533.84,133.30L533.84,133.30L534.46,133.30L534.46,133.30L535.08,133.30L535.08,133.30L535.69,133.30L535.69,133.30L536.31,133.30L536.31,133.30L536.92,133.30L536.92,133.30L537.54,133.30L537.54,133.30L538.16,133.30L538.16,133.30L538.77,133.30L538.77,133.30L539.39,133.30L539.39,133.30L540.00,133.30L540.00,133.30L540.62,133.30L540.62,133.30L541.24,133.30L541.24,133.30L541.85,133.30L541.85,133.30L542.47,133.30L542.47,133.30L543.08,133.30L543.08,133.30L543.70,133.30L543.70,133.30Z" fill="#096e2b"/>
<clipPath id="cTherm_Sta"><path d="M451.30,133.30L451.30,122.78L451.92,122.78L451.92,123.38L452.53,123.38L452.53,126.90L453.15,126.90L453.15,125.05L453.76,125.05L453.76,123.48L454.38,123.48L454.38,121.68L455.00,121.68L455.00,120.36L455.61,120.36L455.61,119.19L456.23,119.19L456.23,118.10L456.84,118.10L456.84,116.84L457.46,116.84L457.46,116.12L458.08,116.12L458.08,115.31L458.69,115.31L458.69,114.65L459.31,114.65L459.31,113.86L459.92,113.86L459.92,113.13L460.54,113.13L460.54,112.39L461.16,112.39L461.16,111.38L461.77,111.38L461.77,110.33L462.39,110.33L462.39,109.13L463.00,109.13L463.00,108.16L463.62,108.16L463.62,107.03L464.24,107.03L464.24,106.00L464.85,106.00L464.85,105.42L465.47,105.42L465.47,104.62L466.08,104.62L466.08,104.01L466.70,104.01L466.70,102.78L467.32,102.78L467.32,103.14L467.93,103.14L467.93,102.35L468.55,102.35L468.55,102.04L469.16,102.04L469.16,101.34L469.78,101.34L469.78,100.53L470.40,100.53L470.40,99.47L471.01,99.47L471.01,97.83L471.63,97.83L471.63,97.08L472.24,97.08L472.24,95.15L472.86,95.15L472.86,94.74L473.48,94.74L473.48,94.45L474.09,94.45L474.09,93.63L474.71,93.63L474.71,92.75L475.32,92.75L475.32,91.96L475.94,91.96L475.94,91.55L476.56,91.55L476.56,90.11L477.17,90.11L477.17,88.82L477.79,88.82L477.79,88.19L478.40,88.19L478.40,87.60L479.02,87.60L479.02,85.95L479.64,85.95L479.64,85.58L480.25,85.58L480.25,84.45L480.87,84.45L480.87,83.86L481.48,83.86L481.48,82.85L482.10,82.85L482.10,80.50L482.72,80.50L482.72,79.69L483.33,79.69L483.33,77.67L483.95,77.67L483.95,75.10L484.56,75.10L484.56,72.79L485.18,72.79L485.18,72.02L485.80,72.02L485.80,72.20L486.41,72.20L486.41,72.12L487.03,72.12L487.03,70.79L487.64,70.79L487.64,70.01L488.26,70.01L488.26,70.26L488.88,70.26L488.88,70.06L489.49,70.06L489.49,68.69L490.11,68.69L490.11,68.30L490.72,68.30L490.72,66.41L491.34,66.41L491.34,64.69L491.96,64.69L491.96,62.38L492.57,62.38L492.57,60.66L493.19,60.66L493.19,59.10L493.80,59.10L493.80,58.24L494.42,58.24L494.42,56.89L495.04,56.89L495.04,55.49L495.65,55.49L495.65,53.99L496.27,53.99L496.27,53.20L496.88,53.20L496.88,52.90L497.50,52.90L497.50,54.90L498.12,54.90L498.12,55.24L498.73,55.24L498.73,57.75L499.35,57.75L499.35,59.40L499.96,59.40L499.96,60.48L500.58,60.48L500.58,61.24L501.20,61.24L501.20,63.21L501.81,63.21L501.81,64.47L502.43,64.47L502.43,67.17L503.04,67.17L503.04,68.75L503.66,68.75L503.66,70.43L504.28,70.43L504.28,70.82L504.89,70.82L504.89,72.65L505.51,72.65L505.51,74.85L506.12,74.85L506.12,76.63L506.74,76.63L506.74,79.03L507.36,79.03L507.36,80.86L507.97,80.86L507.97,83.70L508.59,83.70L508.59,86.04L509.20,86.04L509.20,89.10L509.82,89.10L509.82,91.56L510.44,91.56L510.44,94.57L511.05,94.57L511.05,97.12L511.67,97.12L511.67,99.93L512.28,99.93L512.28,102.57L512.90,102.57L512.90,105.39L513.52,105.39L513.52,108.73L514.13,108.73L514.13,111.74L514.75,111.74L514.75,114.79L515.36,114.79L515.36,117.23L515.98,117.23L515.98,119.76L516.60,119.76L516.60,122.08L517.21,122.08L517.21,123.79L517.83,123.79L517.83,125.34L518.44,125.34L518.44,126.81L519.06,126.81L519.06,127.77L519.68,127.77L519.68,128.46L520.29,128.46L520.29,129.18L520.91,129.18L520.91,129.73L521.52,129.73L521.52,130.26L522.14,130.26L522.14,130.78L522.76,130.78L522.76,131.21L523.37,131.21L523.37,131.54L523.99,131.54L523.99,131.85L524.60,131.85L524.60,132.19L525.22,132.19L525.22,132.38L525.84,132.38L525.84,132.56L526.45,132.56L526.45,132.73L527.07,132.73L527.07,132.87L527.68,132.87L527.68,132.97L528.30,132.97L528.30,133.07L528.92,133.07L528.92,133.15L529.53,133.15L529.53,133.19L530.15,133.19L530.15,133.30L530.76,133.30L530.76,133.30L531.38,133.30L531.38,133.30L532.00,133.30L532.00,133.30L532.61,133.30L532.61,133.30L533.23,133.30L533.23,133.30L533.84,133.30L533.84,133.30L534.46,133.30L534.46,133.30L535.08,133.30L535.08,133.30L535.69,133.30L535.69,133.30L536.31,133.30L536.31,133.30L536.92,133.30L536.92,133.30L537.54,133.30L537.54,133.30L538.16,133.30L538.16,133.30L538.77,133.30L538.77,133.30L539.39,133.30L539.39,133.30L540.00,133.30L540.00,133.30L540.62,133.30L540.62,133.30L541.24,133.30L541.24,133.30L541.85,133.30L541.85,133.30L542.47,133.30L542.47,133.30L543.08,133.30L543.08,133.30L543.70,133.30L543.70,133.30Z"/></clipPath>
<g clip-path="url(#cTherm_Sta)" stroke="#45a88e" stroke-width="0.6"><line x1="482.10" y1="38.60" x2="482.10" y2="133.30"/><line x1="512.90" y1="38.60" x2="512.90" y2="133.30"/><line x1="451.30" y1="116.08" x2="543.70" y2="116.08"/><line x1="451.30" y1="98.86" x2="543.70" y2="98.86"/><line x1="451.30" y1="81.65" x2="543.70" y2="81.65"/><line x1="451.30" y1="64.43" x2="543.70" y2="64.43"/><line x1="451.30" y1="47.21" x2="543.70" y2="47.21"/></g>
<rect x="451.30" y="38.60" width="92.40" height="94.70" fill="none" stroke="#333" stroke-width="0.9"/>
<line x1="448.70" y1="133.30" x2="451.30" y2="133.30" stroke="#333" stroke-width="0.7"/>
<text x="447.10" y="135.40" font-size="6.2" font-weight="normal" text-anchor="end" fill="#222" >0</text>
<line x1="448.70" y1="116.08" x2="451.30" y2="116.08" stroke="#333" stroke-width="0.7"/>
<text x="447.10" y="118.18" font-size="6.2" font-weight="normal" text-anchor="end" fill="#222" >2000</text>
<line x1="448.70" y1="98.86" x2="451.30" y2="98.86" stroke="#333" stroke-width="0.7"/>
<text x="447.10" y="100.96" font-size="6.2" font-weight="normal" text-anchor="end" fill="#222" >4000</text>
<line x1="448.70" y1="81.65" x2="451.30" y2="81.65" stroke="#333" stroke-width="0.7"/>
<text x="447.10" y="83.75" font-size="6.2" font-weight="normal" text-anchor="end" fill="#222" >6000</text>
<line x1="448.70" y1="64.43" x2="451.30" y2="64.43" stroke="#333" stroke-width="0.7"/>
<text x="447.10" y="66.53" font-size="6.2" font-weight="normal" text-anchor="end" fill="#222" >8000</text>
<line x1="448.70" y1="47.21" x2="451.30" y2="47.21" stroke="#333" stroke-width="0.7"/>
<text x="447.10" y="49.31" font-size="6.2" font-weight="normal" text-anchor="end" fill="#222" >10000</text>
<line x1="451.30" y1="133.30" x2="451.30" y2="135.90" stroke="#333" stroke-width="0.7"/>
<text x="451.30" y="141.30" font-size="6.2" font-weight="normal" text-anchor="middle" fill="#222" >0</text>
<line x1="482.10" y1="133.30" x2="482.10" y2="135.90" stroke="#333" stroke-width="0.7"/>
<text x="482.10" y="141.30" font-size="6.2" font-weight="normal" text-anchor="middle" fill="#222" >20</text>
<line x1="512.90" y1="133.30" x2="512.90" y2="135.90" stroke="#333" stroke-width="0.7"/>
<text x="512.90" y="141.30" font-size="6.2" font-weight="normal" text-anchor="middle" fill="#222" >40</text>
<line x1="543.70" y1="133.30" x2="543.70" y2="135.90" stroke="#333" stroke-width="0.7"/>
<text x="543.70" y="141.30" font-size="6.2" font-weight="normal" text-anchor="middle" fill="#222" >60</text>
<text x="497.50" y="35.50" font-size="10.0" font-weight="bold" text-anchor="middle" fill="#111"  stroke="#111" stroke-width="0.22">Therm_Sta</text>
<text x="497.50" y="151.60" font-size="7.5" font-weight="bold" text-anchor="middle" fill="#111"  stroke="#111" stroke-width="0.22">Distance</text>
<text x="428.00" y="86.45" font-size="7.5" font-weight="bold" text-anchor="middle" fill="#111" transform="rotate(-90 428.00 86.45)" stroke="#111" stroke-width="0.22">Amount</text>
<rect x="319.40" y="170.40" width="92.40" height="93.90" fill="#fff"/>
<line x1="350.20" y1="170.40" x2="350.20" y2="264.30" stroke="#c2c2c2" stroke-width="0.6"/>
<line x1="381.00" y1="170.40" x2="381.00" y2="264.30" stroke="#c2c2c2" stroke-width="0.6"/>
<line x1="319.40" y1="247.23" x2="411.80" y2="247.23" stroke="#c2c2c2" stroke-width="0.6"/>
<line x1="319.40" y1="230.15" x2="411.80" y2="230.15" stroke="#c2c2c2" stroke-width="0.6"/>
<line x1="319.40" y1="213.08" x2="411.80" y2="213.08" stroke="#c2c2c2" stroke-width="0.6"/>
<line x1="319.40" y1="196.01" x2="411.80" y2="196.01" stroke="#c2c2c2" stroke-width="0.6"/>
<line x1="319.40" y1="178.94" x2="411.80" y2="178.94" stroke="#c2c2c2" stroke-width="0.6"/>
<path d="M319.40,264.30L319.40,253.05L320.02,253.05L320.02,253.42L320.63,253.42L320.63,257.52L321.25,257.52L321.25,255.87L321.86,255.87L321.86,253.94L322.48,253.94L322.48,252.05L323.10,252.05L323.10,250.15L323.71,250.15L323.71,248.60L324.33,248.60L324.33,247.12L324.94,247.12L324.94,245.47L325.56,245.47L325.56,243.78L326.18,243.78L326.18,242.21L326.79,242.21L326.79,240.82L327.41,240.82L327.41,239.28L328.02,239.28L328.02,237.80L328.64,237.80L328.64,236.25L329.26,236.25L329.26,234.38L329.87,234.38L329.87,233.55L330.49,233.55L330.49,231.87L331.10,231.87L331.10,230.96L331.72,230.96L331.72,230.67L332.34,230.67L332.34,229.95L332.95,229.95L332.95,228.33L333.57,228.33L333.57,226.99L334.18,226.99L334.18,225.93L334.80,225.93L334.80,225.68L335.42,225.68L335.42,224.74L336.03,224.74L336.03,225.49L336.65,225.49L336.65,226.21L337.26,226.21L337.26,227.00L337.88,227.00L337.88,227.51L338.50,227.51L338.50,227.70L339.11,227.70L339.11,226.40L339.73,226.40L339.73,225.32L340.34,225.32L340.34,224.52L340.96,224.52L340.96,224.45L341.58,224.45L341.58,224.74L342.19,224.74L342.19,224.95L342.81,224.95L342.81,225.41L343.42,225.41L343.42,224.99L344.04,224.99L344.04,224.57L344.66,224.57L344.66,224.28L345.27,224.28L345.27,224.60L345.89,224.60L345.89,224.70L346.50,224.70L346.50,224.53L347.12,224.53L347.12,224.55L347.74,224.55L347.74,223.89L348.35,223.89L348.35,223.81L348.97,223.81L348.97,223.68L349.58,223.68L349.58,223.83L350.20,223.83L350.20,223.45L350.82,223.45L350.82,222.78L351.43,222.78L351.43,223.00L352.05,223.00L352.05,222.58L352.66,222.58L352.66,222.45L353.28,222.45L353.28,221.33L353.90,221.33L353.90,221.20L354.51,221.20L354.51,221.74L355.13,221.74L355.13,220.38L355.74,220.38L355.74,219.12L356.36,219.12L356.36,218.66L356.98,218.66L356.98,217.29L357.59,217.29L357.59,215.91L358.21,215.91L358.21,214.92L358.82,214.92L358.82,213.37L359.44,213.37L359.44,212.54L360.06,212.54L360.06,211.91L360.67,211.91L360.67,209.98L361.29,209.98L361.29,207.93L361.90,207.93L361.90,206.58L362.52,206.58L362.52,204.89L363.14,204.89L363.14,204.22L363.75,204.22L363.75,201.02L364.37,201.02L364.37,200.15L364.98,200.15L364.98,198.66L365.60,198.66L365.60,195.60L366.22,195.60L366.22,193.75L366.83,193.75L366.83,192.40L367.45,192.40L367.45,191.73L368.06,191.73L368.06,188.61L368.68,188.61L368.68,187.09L369.30,187.09L369.30,185.58L369.91,185.58L369.91,184.61L370.53,184.61L370.53,182.95L371.14,182.95L371.14,182.97L371.76,182.97L371.76,180.38L372.38,180.38L372.38,178.26L372.99,178.26L372.99,176.84L373.61,176.84L373.61,176.49L374.22,176.49L374.22,176.04L374.84,176.04L374.84,176.50L375.46,176.50L375.46,178.52L376.07,178.52L376.07,180.84L376.69,180.84L376.69,181.28L377.30,181.28L377.30,182.20L377.92,182.20L377.92,183.78L378.54,183.78L378.54,183.96L379.15,183.96L379.15,184.73L379.77,184.73L379.77,186.44L380.38,186.44L380.38,187.73L381.00,187.73L381.00,190.41L381.62,190.41L381.62,193.82L382.23,193.82L382.23,195.64L382.85,195.64L382.85,198.24L383.46,198.24L383.46,202.38L384.08,202.38L384.08,205.08L384.70,205.08L384.70,207.93L385.31,207.93L385.31,211.32L385.93,211.32L385.93,214.92L386.54,214.92L386.54,218.39L387.16,218.39L387.16,222.11L387.78,222.11L387.78,225.46L388.39,225.46L388.39,228.44L389.01,228.44L389.01,231.56L389.62,231.56L389.62,234.55L390.24,234.55L390.24,236.77L390.86,236.77L390.86,239.46L391.47,239.46L391.47,241.44L392.09,241.44L392.09,243.41L392.70,243.41L392.70,245.23L393.32,245.23L393.32,246.75L393.94,246.75L393.94,248.07L394.55,248.07L394.55,249.72L395.17,249.72L395.17,251.04L395.78,251.04L395.78,252.33L396.40,252.33L396.40,253.59L397.02,253.59L397.02,254.40L397.63,254.40L397.63,255.30L398.25,255.30L398.25,256.30L398.86,256.30L398.86,257.07L399.48,257.07L399.48,257.69L400.10,257.69L400.10,258.36L400.71,258.36L400.71,258.92L401.33,258.92L401.33,259.43L401.94,259.43L401.94,259.84L402.56,259.84L402.56,260.35L403.18,260.35L403.18,260.72L403.79,260.72L403.79,261.12L404.41,261.12L404.41,261.55L405.02,261.55L405.02,261.86L405.64,261.86L405.64,262.15L406.26,262.15L406.26,262.48L406.87,262.48L406.87,262.75L407.49,262.75L407.49,262.97L408.10,262.97L408.10,263.21L408.72,263.21L408.72,263.44L409.34,263.44L409.34,263.58L409.95,263.58L409.95,263.71L410.57,263.71L410.57,263.84L411.18,263.84L411.18,264.03L411.80,264.03L411.80,264.30Z" fill="#096e2b"/>
<clipPath id="cNorm_Log"><path d="M319.40,264.30L319.40,253.05L320.02,253.05L320.02,253.42L320.63,253.42L320.63,257.52L321.25,257.52L321.25,255.87L321.86,255.87L321.86,253.94L322.48,253.94L322.48,252.05L323.10,252.05L323.10,250.15L323.71,250.15L323.71,248.60L324.33,248.60L324.33,247.12L324.94,247.12L324.94,245.47L325.56,245.47L325.56,243.78L326.18,243.78L326.18,242.21L326.79,242.21L326.79,240.82L327.41,240.82L327.41,239.28L328.02,239.28L328.02,237.80L328.64,237.80L328.64,236.25L329.26,236.25L329.26,234.38L329.87,234.38L329.87,233.55L330.49,233.55L330.49,231.87L331.10,231.87L331.10,230.96L331.72,230.96L331.72,230.67L332.34,230.67L332.34,229.95L332.95,229.95L332.95,228.33L333.57,228.33L333.57,226.99L334.18,226.99L334.18,225.93L334.80,225.93L334.80,225.68L335.42,225.68L335.42,224.74L336.03,224.74L336.03,225.49L336.65,225.49L336.65,226.21L337.26,226.21L337.26,227.00L337.88,227.00L337.88,227.51L338.50,227.51L338.50,227.70L339.11,227.70L339.11,226.40L339.73,226.40L339.73,225.32L340.34,225.32L340.34,224.52L340.96,224.52L340.96,224.45L341.58,224.45L341.58,224.74L342.19,224.74L342.19,224.95L342.81,224.95L342.81,225.41L343.42,225.41L343.42,224.99L344.04,224.99L344.04,224.57L344.66,224.57L344.66,224.28L345.27,224.28L345.27,224.60L345.89,224.60L345.89,224.70L346.50,224.70L346.50,224.53L347.12,224.53L347.12,224.55L347.74,224.55L347.74,223.89L348.35,223.89L348.35,223.81L348.97,223.81L348.97,223.68L349.58,223.68L349.58,223.83L350.20,223.83L350.20,223.45L350.82,223.45L350.82,222.78L351.43,222.78L351.43,223.00L352.05,223.00L352.05,222.58L352.66,222.58L352.66,222.45L353.28,222.45L353.28,221.33L353.90,221.33L353.90,221.20L354.51,221.20L354.51,221.74L355.13,221.74L355.13,220.38L355.74,220.38L355.74,219.12L356.36,219.12L356.36,218.66L356.98,218.66L356.98,217.29L357.59,217.29L357.59,215.91L358.21,215.91L358.21,214.92L358.82,214.92L358.82,213.37L359.44,213.37L359.44,212.54L360.06,212.54L360.06,211.91L360.67,211.91L360.67,209.98L361.29,209.98L361.29,207.93L361.90,207.93L361.90,206.58L362.52,206.58L362.52,204.89L363.14,204.89L363.14,204.22L363.75,204.22L363.75,201.02L364.37,201.02L364.37,200.15L364.98,200.15L364.98,198.66L365.60,198.66L365.60,195.60L366.22,195.60L366.22,193.75L366.83,193.75L366.83,192.40L367.45,192.40L367.45,191.73L368.06,191.73L368.06,188.61L368.68,188.61L368.68,187.09L369.30,187.09L369.30,185.58L369.91,185.58L369.91,184.61L370.53,184.61L370.53,182.95L371.14,182.95L371.14,182.97L371.76,182.97L371.76,180.38L372.38,180.38L372.38,178.26L372.99,178.26L372.99,176.84L373.61,176.84L373.61,176.49L374.22,176.49L374.22,176.04L374.84,176.04L374.84,176.50L375.46,176.50L375.46,178.52L376.07,178.52L376.07,180.84L376.69,180.84L376.69,181.28L377.30,181.28L377.30,182.20L377.92,182.20L377.92,183.78L378.54,183.78L378.54,183.96L379.15,183.96L379.15,184.73L379.77,184.73L379.77,186.44L380.38,186.44L380.38,187.73L381.00,187.73L381.00,190.41L381.62,190.41L381.62,193.82L382.23,193.82L382.23,195.64L382.85,195.64L382.85,198.24L383.46,198.24L383.46,202.38L384.08,202.38L384.08,205.08L384.70,205.08L384.70,207.93L385.31,207.93L385.31,211.32L385.93,211.32L385.93,214.92L386.54,214.92L386.54,218.39L387.16,218.39L387.16,222.11L387.78,222.11L387.78,225.46L388.39,225.46L388.39,228.44L389.01,228.44L389.01,231.56L389.62,231.56L389.62,234.55L390.24,234.55L390.24,236.77L390.86,236.77L390.86,239.46L391.47,239.46L391.47,241.44L392.09,241.44L392.09,243.41L392.70,243.41L392.70,245.23L393.32,245.23L393.32,246.75L393.94,246.75L393.94,248.07L394.55,248.07L394.55,249.72L395.17,249.72L395.17,251.04L395.78,251.04L395.78,252.33L396.40,252.33L396.40,253.59L397.02,253.59L397.02,254.40L397.63,254.40L397.63,255.30L398.25,255.30L398.25,256.30L398.86,256.30L398.86,257.07L399.48,257.07L399.48,257.69L400.10,257.69L400.10,258.36L400.71,258.36L400.71,258.92L401.33,258.92L401.33,259.43L401.94,259.43L401.94,259.84L402.56,259.84L402.56,260.35L403.18,260.35L403.18,260.72L403.79,260.72L403.79,261.12L404.41,261.12L404.41,261.55L405.02,261.55L405.02,261.86L405.64,261.86L405.64,262.15L406.26,262.15L406.26,262.48L406.87,262.48L406.87,262.75L407.49,262.75L407.49,262.97L408.10,262.97L408.10,263.21L408.72,263.21L408.72,263.44L409.34,263.44L409.34,263.58L409.95,263.58L409.95,263.71L410.57,263.71L410.57,263.84L411.18,263.84L411.18,264.03L411.80,264.03L411.80,264.30Z"/></clipPath>
<g clip-path="url(#cNorm_Log)" stroke="#45a88e" stroke-width="0.6"><line x1="350.20" y1="170.40" x2="350.20" y2="264.30"/><line x1="381.00" y1="170.40" x2="381.00" y2="264.30"/><line x1="319.40" y1="247.23" x2="411.80" y2="247.23"/><line x1="319.40" y1="230.15" x2="411.80" y2="230.15"/><line x1="319.40" y1="213.08" x2="411.80" y2="213.08"/><line x1="319.40" y1="196.01" x2="411.80" y2="196.01"/><line x1="319.40" y1="178.94" x2="411.80" y2="178.94"/></g>
<rect x="319.40" y="170.40" width="92.40" height="93.90" fill="none" stroke="#333" stroke-width="0.9"/>
<line x1="316.80" y1="264.30" x2="319.40" y2="264.30" stroke="#333" stroke-width="0.7"/>
<text x="315.20" y="266.40" font-size="6.2" font-weight="normal" text-anchor="end" fill="#222" >0</text>
<line x1="316.80" y1="247.23" x2="319.40" y2="247.23" stroke="#333" stroke-width="0.7"/>
<text x="315.20" y="249.33" font-size="6.2" font-weight="normal" text-anchor="end" fill="#222" >2000</text>
<line x1="316.80" y1="230.15" x2="319.40" y2="230.15" stroke="#333" stroke-width="0.7"/>
<text x="315.20" y="232.25" font-size="6.2" font-weight="normal" text-anchor="end" fill="#222" >4000</text>
<line x1="316.80" y1="213.08" x2="319.40" y2="213.08" stroke="#333" stroke-width="0.7"/>
<text x="315.20" y="215.18" font-size="6.2" font-weight="normal" text-anchor="end" fill="#222" >6000</text>
<line x1="316.80" y1="196.01" x2="319.40" y2="196.01" stroke="#333" stroke-width="0.7"/>
<text x="315.20" y="198.11" font-size="6.2" font-weight="normal" text-anchor="end" fill="#222" >8000</text>
<line x1="316.80" y1="178.94" x2="319.40" y2="178.94" stroke="#333" stroke-width="0.7"/>
<text x="315.20" y="181.04" font-size="6.2" font-weight="normal" text-anchor="end" fill="#222" >10000</text>
<line x1="319.40" y1="264.30" x2="319.40" y2="266.90" stroke="#333" stroke-width="0.7"/>
<text x="319.40" y="272.30" font-size="6.2" font-weight="normal" text-anchor="middle" fill="#222" >0</text>
<line x1="350.20" y1="264.30" x2="350.20" y2="266.90" stroke="#333" stroke-width="0.7"/>
<text x="350.20" y="272.30" font-size="6.2" font-weight="normal" text-anchor="middle" fill="#222" >20</text>
<line x1="381.00" y1="264.30" x2="381.00" y2="266.90" stroke="#333" stroke-width="0.7"/>
<text x="381.00" y="272.30" font-size="6.2" font-weight="normal" text-anchor="middle" fill="#222" >40</text>
<line x1="411.80" y1="264.30" x2="411.80" y2="266.90" stroke="#333" stroke-width="0.7"/>
<text x="411.80" y="272.30" font-size="6.2" font-weight="normal" text-anchor="middle" fill="#222" >60</text>
<text x="365.60" y="167.30" font-size="10.0" font-weight="bold" text-anchor="middle" fill="#111"  stroke="#111" stroke-width="0.22">Norm_Log</text>
<text x="365.60" y="282.60" font-size="7.5" font-weight="bold" text-anchor="middle" fill="#111"  stroke="#111" stroke-width="0.22">Distance</text>
<text x="294.60" y="217.85" font-size="7.5" font-weight="bold" text-anchor="middle" fill="#111" transform="rotate(-90 294.60 217.85)" stroke="#111" stroke-width="0.22">Amount</text>
<rect x="451.30" y="170.40" width="92.40" height="93.90" fill="#fff"/>
<line x1="482.10" y1="170.40" x2="482.10" y2="264.30" stroke="#c2c2c2" stroke-width="0.6"/>
<line x1="512.90" y1="170.40" x2="512.90" y2="264.30" stroke="#c2c2c2" stroke-width="0.6"/>
<line x1="451.30" y1="247.23" x2="543.70" y2="247.23" stroke="#c2c2c2" stroke-width="0.6"/>
<line x1="451.30" y1="230.15" x2="543.70" y2="230.15" stroke="#c2c2c2" stroke-width="0.6"/>
<line x1="451.30" y1="213.08" x2="543.70" y2="213.08" stroke="#c2c2c2" stroke-width="0.6"/>
<line x1="451.30" y1="196.01" x2="543.70" y2="196.01" stroke="#c2c2c2" stroke-width="0.6"/>
<line x1="451.30" y1="178.94" x2="543.70" y2="178.94" stroke="#c2c2c2" stroke-width="0.6"/>
<path d="M451.30,264.30L451.30,255.26L451.92,255.26L451.92,255.65L452.53,255.65L452.53,257.50L453.15,257.50L453.15,255.95L453.76,255.95L453.76,253.86L454.38,253.86L454.38,252.02L455.00,252.02L455.00,250.52L455.61,250.52L455.61,249.06L456.23,249.06L456.23,247.72L456.84,247.72L456.84,246.23L457.46,246.23L457.46,245.42L458.08,245.42L458.08,244.54L458.69,244.54L458.69,243.61L459.31,243.61L459.31,242.72L459.92,242.72L459.92,241.83L460.54,241.83L460.54,241.38L461.16,241.38L461.16,240.40L461.77,240.40L461.77,240.18L462.39,240.18L462.39,239.07L463.00,239.07L463.00,238.52L463.62,238.52L463.62,238.27L464.24,238.27L464.24,237.59L464.85,237.59L464.85,237.04L465.47,237.04L465.47,236.45L466.08,236.45L466.08,236.36L466.70,236.36L466.70,236.07L467.32,236.07L467.32,235.73L467.93,235.73L467.93,235.87L468.55,235.87L468.55,235.04L469.16,235.04L469.16,234.11L469.78,234.11L469.78,233.24L470.40,233.24L470.40,232.56L471.01,232.56L471.01,230.92L471.63,230.92L471.63,229.55L472.24,229.55L472.24,228.09L472.86,228.09L472.86,228.00L473.48,228.00L473.48,229.02L474.09,229.02L474.09,229.31L474.71,229.31L474.71,229.26L475.32,229.26L475.32,229.80L475.94,229.80L475.94,229.57L476.56,229.57L476.56,228.66L477.17,228.66L477.17,227.21L477.79,227.21L477.79,225.53L478.40,225.53L478.40,224.13L479.02,224.13L479.02,221.10L479.64,221.10L479.64,218.48L480.25,218.48L480.25,216.06L480.87,216.06L480.87,213.79L481.48,213.79L481.48,211.43L482.10,211.43L482.10,208.12L482.72,208.12L482.72,206.20L483.33,206.20L483.33,202.51L483.95,202.51L483.95,200.29L484.56,200.29L484.56,197.39L485.18,197.39L485.18,195.69L485.80,195.69L485.80,193.59L486.41,193.59L486.41,192.05L487.03,192.05L487.03,190.89L487.64,190.89L487.64,189.79L488.26,189.79L488.26,187.15L488.88,187.15L488.88,186.65L489.49,186.65L489.49,183.89L490.11,183.89L490.11,182.38L490.72,182.38L490.72,180.85L491.34,180.85L491.34,179.65L491.96,179.65L491.96,179.81L492.57,179.81L492.57,177.70L493.19,177.70L493.19,176.85L493.80,176.85L493.80,177.34L494.42,177.34L494.42,175.49L495.04,175.49L495.04,176.22L495.65,176.22L495.65,177.55L496.27,177.55L496.27,177.52L496.88,177.52L496.88,178.24L497.50,178.24L497.50,177.98L498.12,177.98L498.12,177.76L498.73,177.76L498.73,177.58L499.35,177.58L499.35,180.09L499.96,180.09L499.96,180.50L500.58,180.50L500.58,181.77L501.20,181.77L501.20,183.08L501.81,183.08L501.81,186.46L502.43,186.46L502.43,188.17L503.04,188.17L503.04,189.70L503.66,189.70L503.66,192.26L504.28,192.26L504.28,194.01L504.89,194.01L504.89,197.21L505.51,197.21L505.51,198.81L506.12,198.81L506.12,202.69L506.74,202.69L506.74,205.32L507.36,205.32L507.36,208.41L507.97,208.41L507.97,211.31L508.59,211.31L508.59,215.47L509.20,215.47L509.20,218.17L509.82,218.17L509.82,222.12L510.44,222.12L510.44,225.29L511.05,225.29L511.05,228.57L511.67,228.57L511.67,232.10L512.28,232.10L512.28,235.50L512.90,235.50L512.90,238.75L513.52,238.75L513.52,242.45L514.13,242.45L514.13,246.47L514.75,246.47L514.75,250.03L515.36,250.03L515.36,252.35L515.98,252.35L515.98,254.79L516.60,254.79L516.60,257.25L517.21,257.25L517.21,258.39L517.83,258.39L517.83,259.50L518.44,259.50L518.44,260.57L519.06,260.57L519.06,261.24L519.68,261.24L519.68,261.79L520.29,261.79L520.29,262.34L520.91,262.34L520.91,262.74L521.52,262.74L521.52,262.98L522.14,262.98L522.14,263.24L522.76,263.24L522.76,263.47L523.37,263.47L523.37,263.59L523.99,263.59L523.99,263.69L524.60,263.69L524.60,263.79L525.22,263.79L525.22,263.84L525.84,263.84L525.84,263.89L526.45,263.89L526.45,263.94L527.07,263.94L527.07,264.00L527.68,264.00L527.68,264.05L528.30,264.05L528.30,264.10L528.92,264.10L528.92,264.14L529.53,264.14L529.53,264.17L530.15,264.17L530.15,264.19L530.76,264.19L530.76,264.30L531.38,264.30L531.38,264.30L532.00,264.30L532.00,264.30L532.61,264.30L532.61,264.30L533.23,264.30L533.23,264.30L533.84,264.30L533.84,264.30L534.46,264.30L534.46,264.30L535.08,264.30L535.08,264.30L535.69,264.30L535.69,264.30L536.31,264.30L536.31,264.30L536.92,264.30L536.92,264.30L537.54,264.30L537.54,264.30L538.16,264.30L538.16,264.30L538.77,264.30L538.77,264.30L539.39,264.30L539.39,264.30L540.00,264.30L540.00,264.30L540.62,264.30L540.62,264.30L541.24,264.30L541.24,264.30L541.85,264.30L541.85,264.30L542.47,264.30L542.47,264.30L543.08,264.30L543.08,264.30L543.70,264.30L543.70,264.30Z" fill="#096e2b"/>
<clipPath id="cNorm_Sta"><path d="M451.30,264.30L451.30,255.26L451.92,255.26L451.92,255.65L452.53,255.65L452.53,257.50L453.15,257.50L453.15,255.95L453.76,255.95L453.76,253.86L454.38,253.86L454.38,252.02L455.00,252.02L455.00,250.52L455.61,250.52L455.61,249.06L456.23,249.06L456.23,247.72L456.84,247.72L456.84,246.23L457.46,246.23L457.46,245.42L458.08,245.42L458.08,244.54L458.69,244.54L458.69,243.61L459.31,243.61L459.31,242.72L459.92,242.72L459.92,241.83L460.54,241.83L460.54,241.38L461.16,241.38L461.16,240.40L461.77,240.40L461.77,240.18L462.39,240.18L462.39,239.07L463.00,239.07L463.00,238.52L463.62,238.52L463.62,238.27L464.24,238.27L464.24,237.59L464.85,237.59L464.85,237.04L465.47,237.04L465.47,236.45L466.08,236.45L466.08,236.36L466.70,236.36L466.70,236.07L467.32,236.07L467.32,235.73L467.93,235.73L467.93,235.87L468.55,235.87L468.55,235.04L469.16,235.04L469.16,234.11L469.78,234.11L469.78,233.24L470.40,233.24L470.40,232.56L471.01,232.56L471.01,230.92L471.63,230.92L471.63,229.55L472.24,229.55L472.24,228.09L472.86,228.09L472.86,228.00L473.48,228.00L473.48,229.02L474.09,229.02L474.09,229.31L474.71,229.31L474.71,229.26L475.32,229.26L475.32,229.80L475.94,229.80L475.94,229.57L476.56,229.57L476.56,228.66L477.17,228.66L477.17,227.21L477.79,227.21L477.79,225.53L478.40,225.53L478.40,224.13L479.02,224.13L479.02,221.10L479.64,221.10L479.64,218.48L480.25,218.48L480.25,216.06L480.87,216.06L480.87,213.79L481.48,213.79L481.48,211.43L482.10,211.43L482.10,208.12L482.72,208.12L482.72,206.20L483.33,206.20L483.33,202.51L483.95,202.51L483.95,200.29L484.56,200.29L484.56,197.39L485.18,197.39L485.18,195.69L485.80,195.69L485.80,193.59L486.41,193.59L486.41,192.05L487.03,192.05L487.03,190.89L487.64,190.89L487.64,189.79L488.26,189.79L488.26,187.15L488.88,187.15L488.88,186.65L489.49,186.65L489.49,183.89L490.11,183.89L490.11,182.38L490.72,182.38L490.72,180.85L491.34,180.85L491.34,179.65L491.96,179.65L491.96,179.81L492.57,179.81L492.57,177.70L493.19,177.70L493.19,176.85L493.80,176.85L493.80,177.34L494.42,177.34L494.42,175.49L495.04,175.49L495.04,176.22L495.65,176.22L495.65,177.55L496.27,177.55L496.27,177.52L496.88,177.52L496.88,178.24L497.50,178.24L497.50,177.98L498.12,177.98L498.12,177.76L498.73,177.76L498.73,177.58L499.35,177.58L499.35,180.09L499.96,180.09L499.96,180.50L500.58,180.50L500.58,181.77L501.20,181.77L501.20,183.08L501.81,183.08L501.81,186.46L502.43,186.46L502.43,188.17L503.04,188.17L503.04,189.70L503.66,189.70L503.66,192.26L504.28,192.26L504.28,194.01L504.89,194.01L504.89,197.21L505.51,197.21L505.51,198.81L506.12,198.81L506.12,202.69L506.74,202.69L506.74,205.32L507.36,205.32L507.36,208.41L507.97,208.41L507.97,211.31L508.59,211.31L508.59,215.47L509.20,215.47L509.20,218.17L509.82,218.17L509.82,222.12L510.44,222.12L510.44,225.29L511.05,225.29L511.05,228.57L511.67,228.57L511.67,232.10L512.28,232.10L512.28,235.50L512.90,235.50L512.90,238.75L513.52,238.75L513.52,242.45L514.13,242.45L514.13,246.47L514.75,246.47L514.75,250.03L515.36,250.03L515.36,252.35L515.98,252.35L515.98,254.79L516.60,254.79L516.60,257.25L517.21,257.25L517.21,258.39L517.83,258.39L517.83,259.50L518.44,259.50L518.44,260.57L519.06,260.57L519.06,261.24L519.68,261.24L519.68,261.79L520.29,261.79L520.29,262.34L520.91,262.34L520.91,262.74L521.52,262.74L521.52,262.98L522.14,262.98L522.14,263.24L522.76,263.24L522.76,263.47L523.37,263.47L523.37,263.59L523.99,263.59L523.99,263.69L524.60,263.69L524.60,263.79L525.22,263.79L525.22,263.84L525.84,263.84L525.84,263.89L526.45,263.89L526.45,263.94L527.07,263.94L527.07,264.00L527.68,264.00L527.68,264.05L528.30,264.05L528.30,264.10L528.92,264.10L528.92,264.14L529.53,264.14L529.53,264.17L530.15,264.17L530.15,264.19L530.76,264.19L530.76,264.30L531.38,264.30L531.38,264.30L532.00,264.30L532.00,264.30L532.61,264.30L532.61,264.30L533.23,264.30L533.23,264.30L533.84,264.30L533.84,264.30L534.46,264.30L534.46,264.30L535.08,264.30L535.08,264.30L535.69,264.30L535.69,264.30L536.31,264.30L536.31,264.30L536.92,264.30L536.92,264.30L537.54,264.30L537.54,264.30L538.16,264.30L538.16,264.30L538.77,264.30L538.77,264.30L539.39,264.30L539.39,264.30L540.00,264.30L540.00,264.30L540.62,264.30L540.62,264.30L541.24,264.30L541.24,264.30L541.85,264.30L541.85,264.30L542.47,264.30L542.47,264.30L543.08,264.30L543.08,264.30L543.70,264.30L543.70,264.30Z"/></clipPath>
<g clip-path="url(#cNorm_Sta)" stroke="#45a88e" stroke-width="0.6"><line x1="482.10" y1="170.40" x2="482.10" y2="264.30"/><line x1="512.90" y1="170.40" x2="512.90" y2="264.30"/><line x1="451.30" y1="247.23" x2="543.70" y2="247.23"/><line x1="451.30" y1="230.15" x2="543.70" y2="230.15"/><line x1="451.30" y1="213.08" x2="543.70" y2="213.08"/><line x1="451.30" y1="196.01" x2="543.70" y2="196.01"/><line x1="451.30" y1="178.94" x2="543.70" y2="178.94"/></g>
<rect x="451.30" y="170.40" width="92.40" height="93.90" fill="none" stroke="#333" stroke-width="0.9"/>
<line x1="448.70" y1="264.30" x2="451.30" y2="264.30" stroke="#333" stroke-width="0.7"/>
<text x="447.10" y="266.40" font-size="6.2" font-weight="normal" text-anchor="end" fill="#222" >0</text>
<line x1="448.70" y1="247.23" x2="451.30" y2="247.23" stroke="#333" stroke-width="0.7"/>
<text x="447.10" y="249.33" font-size="6.2" font-weight="normal" text-anchor="end" fill="#222" >2000</text>
<line x1="448.70" y1="230.15" x2="451.30" y2="230.15" stroke="#333" stroke-width="0.7"/>
<text x="447.10" y="232.25" font-size="6.2" font-weight="normal" text-anchor="end" fill="#222" >4000</text>
<line x1="448.70" y1="213.08" x2="451.30" y2="213.08" stroke="#333" stroke-width="0.7"/>
<text x="447.10" y="215.18" font-size="6.2" font-weight="normal" text-anchor="end" fill="#222" >6000</text>
<line x1="448.70" y1="196.01" x2="451.30" y2="196.01" stroke="#333" stroke-width="0.7"/>
<text x="447.10" y="198.11" font-size="6.2" font-weight="normal" text-anchor="end" fill="#222" >8000</text>
<line x1="448.70" y1="178.94" x2="451.30" y2="178.94" stroke="#333" stroke-width="0.7"/>
<text x="447.10" y="181.04" font-size="6.2" font-weight="normal" text-anchor="end" fill="#222" >10000</text>
<line x1="451.30" y1="264.30" x2="451.30" y2="266.90" stroke="#333" stroke-width="0.7"/>
<text x="451.30" y="272.30" font-size="6.2" font-weight="normal" text-anchor="middle" fill="#222" >0</text>
<line x1="482.10" y1="264.30" x2="482.10" y2="266.90" stroke="#333" stroke-width="0.7"/>
<text x="482.10" y="272.30" font-size="6.2" font-weight="normal" text-anchor="middle" fill="#222" >20</text>
<line x1="512.90" y1="264.30" x2="512.90" y2="266.90" stroke="#333" stroke-width="0.7"/>
<text x="512.90" y="272.30" font-size="6.2" font-weight="normal" text-anchor="middle" fill="#222" >40</text>
<line x1="543.70" y1="264.30" x2="543.70" y2="266.90" stroke="#333" stroke-width="0.7"/>
<text x="543.70" y="272.30" font-size="6.2" font-weight="normal" text-anchor="middle" fill="#222" >60</text>
<text x="497.50" y="167.30" font-size="10.0" font-weight="bold" text-anchor="middle" fill="#111"  stroke="#111" stroke-width="0.22">Norm_Sta</text>
<text x="497.50" y="282.60" font-size="7.5" font-weight="bold" text-anchor="middle" fill="#111"  stroke="#111" stroke-width="0.22">Distance</text>
<text x="428.00" y="217.85" font-size="7.5" font-weight="bold" text-anchor="middle" fill="#111" transform="rotate(-90 428.00 217.85)" stroke="#111" stroke-width="0.22">Amount</text>
<rect x="30.6" y="326.0" width="240.00000000000003" height="167.0" fill="#fff" stroke="#555" stroke-width="0.9"/>
<line x1="28.400000000000002" y1="487.60" x2="30.6" y2="487.60" stroke="#444" stroke-width="0.7"/>
<text x="26.00" y="489.65" font-size="6.2" font-weight="normal" text-anchor="end" fill="#1a1a1a" >0</text>
<line x1="28.400000000000002" y1="460.40" x2="30.6" y2="460.40" stroke="#444" stroke-width="0.7"/>
<text x="26.00" y="462.45" font-size="6.2" font-weight="normal" text-anchor="end" fill="#1a1a1a" >10</text>
<line x1="28.400000000000002" y1="433.20" x2="30.6" y2="433.20" stroke="#444" stroke-width="0.7"/>
<text x="26.00" y="435.25" font-size="6.2" font-weight="normal" text-anchor="end" fill="#1a1a1a" >20</text>
<line x1="28.400000000000002" y1="406.00" x2="30.6" y2="406.00" stroke="#444" stroke-width="0.7"/>
<text x="26.00" y="408.05" font-size="6.2" font-weight="normal" text-anchor="end" fill="#1a1a1a" >30</text>
<line x1="28.400000000000002" y1="378.80" x2="30.6" y2="378.80" stroke="#444" stroke-width="0.7"/>
<text x="26.00" y="380.85" font-size="6.2" font-weight="normal" text-anchor="end" fill="#1a1a1a" >40</text>
<line x1="28.400000000000002" y1="351.60" x2="30.6" y2="351.60" stroke="#444" stroke-width="0.7"/>
<text x="26.00" y="353.65" font-size="6.2" font-weight="normal" text-anchor="end" fill="#1a1a1a" >50</text>
<text x="15.20" y="409.70" font-size="7.5" font-weight="bold" text-anchor="middle" fill="#111" transform="rotate(-90 15.2 409.7)" stroke="#111" stroke-width="0.22">Distances</text>
<line x1="35.80" y1="344.20" x2="35.80" y2="416.80" stroke="#3c3c3c" stroke-width="0.95"/>
<line x1="34.00" y1="344.20" x2="37.60" y2="344.20" stroke="#3a3a3a" stroke-width="0.9"/>
<line x1="34.00" y1="416.80" x2="37.60" y2="416.80" stroke="#3a3a3a" stroke-width="0.9"/>
<rect x="32.95" y="371.30" width="5.7" height="18.70" fill="#08702a"/>
<line x1="33.20" y1="380.00" x2="38.40" y2="380.00" stroke="#2a5f8a" stroke-width="0.7"/>
<line x1="42.15" y1="361.60" x2="42.15" y2="420.30" stroke="#3c3c3c" stroke-width="0.95"/>
<line x1="40.35" y1="361.60" x2="43.95" y2="361.60" stroke="#3a3a3a" stroke-width="0.9"/>
<line x1="40.35" y1="420.30" x2="43.95" y2="420.30" stroke="#3a3a3a" stroke-width="0.9"/>
<rect x="39.30" y="380.30" width="5.7" height="16.50" fill="#0c58b0"/>
<line x1="39.55" y1="387.10" x2="44.75" y2="387.10" stroke="#4a55c0" stroke-width="0.7"/>
<line x1="48.50" y1="368.20" x2="48.50" y2="433.00" stroke="#3c3c3c" stroke-width="0.95"/>
<line x1="46.70" y1="368.20" x2="50.30" y2="368.20" stroke="#3a3a3a" stroke-width="0.9"/>
<line x1="46.70" y1="433.00" x2="50.30" y2="433.00" stroke="#3a3a3a" stroke-width="0.9"/>
<rect x="45.65" y="392.60" width="5.7" height="16.20" fill="#ff8c7c"/>
<line x1="45.90" y1="400.50" x2="51.10" y2="400.50" stroke="#9a6fd0" stroke-width="0.7"/>
<line x1="54.85" y1="350.80" x2="54.85" y2="420.30" stroke="#3c3c3c" stroke-width="0.95"/>
<line x1="53.05" y1="350.80" x2="56.65" y2="350.80" stroke="#3a3a3a" stroke-width="0.9"/>
<line x1="53.05" y1="420.30" x2="56.65" y2="420.30" stroke="#3a3a3a" stroke-width="0.9"/>
<rect x="52.00" y="376.10" width="5.7" height="18.20" fill="#ee3a32"/>
<line x1="52.25" y1="384.20" x2="57.45" y2="384.20" stroke="#b04aa0" stroke-width="0.7"/>
<text x="51.70" y="490.50" font-size="7.5" font-weight="bold" text-anchor="middle" fill="#111"  stroke="#111" stroke-width="0.22">LR</text>
<line x1="77.90" y1="340.90" x2="77.90" y2="416.30" stroke="#3c3c3c" stroke-width="0.95"/>
<line x1="76.10" y1="340.90" x2="79.70" y2="340.90" stroke="#3a3a3a" stroke-width="0.9"/>
<line x1="76.10" y1="416.30" x2="79.70" y2="416.30" stroke="#3a3a3a" stroke-width="0.9"/>
<rect x="75.05" y="370.20" width="5.7" height="20.40" fill="#08702a"/>
<line x1="75.30" y1="380.00" x2="80.50" y2="380.00" stroke="#2a5f8a" stroke-width="0.7"/>
<line x1="84.25" y1="351.50" x2="84.25" y2="434.30" stroke="#3c3c3c" stroke-width="0.95"/>
<line x1="82.45" y1="351.50" x2="86.05" y2="351.50" stroke="#3a3a3a" stroke-width="0.9"/>
<line x1="82.45" y1="434.30" x2="86.05" y2="434.30" stroke="#3a3a3a" stroke-width="0.9"/>
<rect x="81.40" y="382.90" width="5.7" height="20.90" fill="#0c58b0"/>
<line x1="81.65" y1="393.20" x2="86.85" y2="393.20" stroke="#4a55c0" stroke-width="0.7"/>
<line x1="90.60" y1="360.70" x2="90.60" y2="433.90" stroke="#3c3c3c" stroke-width="0.95"/>
<line x1="88.80" y1="360.70" x2="92.40" y2="360.70" stroke="#3a3a3a" stroke-width="0.9"/>
<line x1="88.80" y1="433.90" x2="92.40" y2="433.90" stroke="#3a3a3a" stroke-width="0.9"/>
<rect x="87.75" y="388.40" width="5.7" height="18.70" fill="#ff8c7c"/>
<line x1="88.00" y1="398.10" x2="93.20" y2="398.10" stroke="#9a6fd0" stroke-width="0.7"/>
<line x1="96.95" y1="352.40" x2="96.95" y2="435.00" stroke="#3c3c3c" stroke-width="0.95"/>
<line x1="95.15" y1="352.40" x2="98.75" y2="352.40" stroke="#3a3a3a" stroke-width="0.9"/>
<line x1="95.15" y1="435.00" x2="98.75" y2="435.00" stroke="#3a3a3a" stroke-width="0.9"/>
<rect x="94.10" y="382.90" width="5.7" height="21.30" fill="#ee3a32"/>
<line x1="94.35" y1="393.20" x2="99.55" y2="393.20" stroke="#b04aa0" stroke-width="0.7"/>
<text x="93.80" y="490.50" font-size="7.5" font-weight="bold" text-anchor="middle" fill="#111"  stroke="#111" stroke-width="0.22">OT</text>
<line x1="120.00" y1="337.50" x2="120.00" y2="482.00" stroke="#3c3c3c" stroke-width="0.95"/>
<line x1="118.20" y1="337.50" x2="121.80" y2="337.50" stroke="#3a3a3a" stroke-width="0.9"/>
<line x1="118.20" y1="482.00" x2="121.80" y2="482.00" stroke="#3a3a3a" stroke-width="0.9"/>
<rect x="117.15" y="385.50" width="5.7" height="41.90" fill="#08702a"/>
<line x1="117.40" y1="400.20" x2="122.60" y2="400.20" stroke="#2a5f8a" stroke-width="0.7"/>
<line x1="126.35" y1="380.60" x2="126.35" y2="474.60" stroke="#3c3c3c" stroke-width="0.95"/>
<line x1="124.55" y1="380.60" x2="128.15" y2="380.60" stroke="#3a3a3a" stroke-width="0.9"/>
<line x1="124.55" y1="474.60" x2="128.15" y2="474.60" stroke="#3a3a3a" stroke-width="0.9"/>
<rect x="123.50" y="410.40" width="5.7" height="26.00" fill="#0c58b0"/>
<line x1="123.75" y1="422.00" x2="128.95" y2="422.00" stroke="#4a55c0" stroke-width="0.7"/>
<line x1="132.70" y1="361.50" x2="132.70" y2="478.60" stroke="#3c3c3c" stroke-width="0.95"/>
<line x1="130.90" y1="361.50" x2="134.50" y2="361.50" stroke="#3a3a3a" stroke-width="0.9"/>
<line x1="130.90" y1="478.60" x2="134.50" y2="478.60" stroke="#3a3a3a" stroke-width="0.9"/>
<rect x="129.85" y="393.50" width="5.7" height="34.10" fill="#ff8c7c"/>
<line x1="130.10" y1="407.60" x2="135.30" y2="407.60" stroke="#9a6fd0" stroke-width="0.7"/>
<line x1="139.05" y1="365.50" x2="139.05" y2="486.00" stroke="#3c3c3c" stroke-width="0.95"/>
<line x1="137.25" y1="365.50" x2="140.85" y2="365.50" stroke="#3a3a3a" stroke-width="0.9"/>
<line x1="137.25" y1="486.00" x2="140.85" y2="486.00" stroke="#3a3a3a" stroke-width="0.9"/>
<rect x="136.20" y="406.00" width="5.7" height="35.60" fill="#ee3a32"/>
<line x1="136.45" y1="422.60" x2="141.65" y2="422.60" stroke="#b04aa0" stroke-width="0.7"/>
<text x="135.90" y="490.50" font-size="7.5" font-weight="bold" text-anchor="middle" fill="#111"  stroke="#111" stroke-width="0.22">LT</text>
<line x1="162.10" y1="364.40" x2="162.10" y2="461.00" stroke="#3c3c3c" stroke-width="0.95"/>
<line x1="160.30" y1="364.40" x2="163.90" y2="364.40" stroke="#3a3a3a" stroke-width="0.9"/>
<line x1="160.30" y1="461.00" x2="163.90" y2="461.00" stroke="#3a3a3a" stroke-width="0.9"/>
<rect x="159.25" y="394.00" width="5.7" height="26.60" fill="#08702a"/>
<line x1="159.50" y1="405.00" x2="164.70" y2="405.00" stroke="#2a5f8a" stroke-width="0.7"/>
<line x1="168.45" y1="370.00" x2="168.45" y2="473.60" stroke="#3c3c3c" stroke-width="0.95"/>
<line x1="166.65" y1="370.00" x2="170.25" y2="370.00" stroke="#3a3a3a" stroke-width="0.9"/>
<line x1="166.65" y1="473.60" x2="170.25" y2="473.60" stroke="#3a3a3a" stroke-width="0.9"/>
<rect x="165.60" y="393.20" width="5.7" height="32.20" fill="#0c58b0"/>
<line x1="165.85" y1="406.50" x2="171.05" y2="406.50" stroke="#4a55c0" stroke-width="0.7"/>
<line x1="174.80" y1="371.60" x2="174.80" y2="460.00" stroke="#3c3c3c" stroke-width="0.95"/>
<line x1="173.00" y1="371.60" x2="176.60" y2="371.60" stroke="#3a3a3a" stroke-width="0.9"/>
<line x1="173.00" y1="460.00" x2="176.60" y2="460.00" stroke="#3a3a3a" stroke-width="0.9"/>
<rect x="171.95" y="401.50" width="5.7" height="23.10" fill="#ff8c7c"/>
<line x1="172.20" y1="412.40" x2="177.40" y2="412.40" stroke="#9a6fd0" stroke-width="0.7"/>
<line x1="181.15" y1="367.00" x2="181.15" y2="468.40" stroke="#3c3c3c" stroke-width="0.95"/>
<line x1="179.35" y1="367.00" x2="182.95" y2="367.00" stroke="#3a3a3a" stroke-width="0.9"/>
<line x1="179.35" y1="468.40" x2="182.95" y2="468.40" stroke="#3a3a3a" stroke-width="0.9"/>
<rect x="178.30" y="404.40" width="5.7" height="25.60" fill="#ee3a32"/>
<line x1="178.55" y1="417.40" x2="183.75" y2="417.40" stroke="#b04aa0" stroke-width="0.7"/>
<text x="178.00" y="490.50" font-size="7.5" font-weight="bold" text-anchor="middle" fill="#111"  stroke="#111" stroke-width="0.22">RT</text>
<line x1="204.20" y1="333.60" x2="204.20" y2="431.40" stroke="#3c3c3c" stroke-width="0.95"/>
<line x1="202.40" y1="333.60" x2="206.00" y2="333.60" stroke="#3a3a3a" stroke-width="0.9"/>
<line x1="202.40" y1="431.40" x2="206.00" y2="431.40" stroke="#3a3a3a" stroke-width="0.9"/>
<rect x="201.35" y="370.40" width="5.7" height="24.60" fill="#08702a"/>
<line x1="201.60" y1="382.80" x2="206.80" y2="382.80" stroke="#2a5f8a" stroke-width="0.7"/>
<line x1="210.55" y1="367.40" x2="210.55" y2="438.20" stroke="#3c3c3c" stroke-width="0.95"/>
<line x1="208.75" y1="367.40" x2="212.35" y2="367.40" stroke="#3a3a3a" stroke-width="0.9"/>
<line x1="208.75" y1="438.20" x2="212.35" y2="438.20" stroke="#3a3a3a" stroke-width="0.9"/>
<rect x="207.70" y="395.40" width="5.7" height="19.20" fill="#0c58b0"/>
<line x1="207.95" y1="404.40" x2="213.15" y2="404.40" stroke="#4a55c0" stroke-width="0.7"/>
<line x1="216.90" y1="346.20" x2="216.90" y2="432.00" stroke="#3c3c3c" stroke-width="0.95"/>
<line x1="215.10" y1="346.20" x2="218.70" y2="346.20" stroke="#3a3a3a" stroke-width="0.9"/>
<line x1="215.10" y1="432.00" x2="218.70" y2="432.00" stroke="#3a3a3a" stroke-width="0.9"/>
<rect x="214.05" y="378.60" width="5.7" height="21.00" fill="#ff8c7c"/>
<line x1="214.30" y1="388.40" x2="219.50" y2="388.40" stroke="#9a6fd0" stroke-width="0.7"/>
<line x1="223.25" y1="366.20" x2="223.25" y2="443.20" stroke="#3c3c3c" stroke-width="0.95"/>
<line x1="221.45" y1="366.20" x2="225.05" y2="366.20" stroke="#3a3a3a" stroke-width="0.9"/>
<line x1="221.45" y1="443.20" x2="225.05" y2="443.20" stroke="#3a3a3a" stroke-width="0.9"/>
<rect x="220.40" y="395.40" width="5.7" height="19.00" fill="#ee3a32"/>
<line x1="220.65" y1="404.80" x2="225.85" y2="404.80" stroke="#b04aa0" stroke-width="0.7"/>
<text x="220.10" y="490.50" font-size="7.5" font-weight="bold" text-anchor="middle" fill="#111"  stroke="#111" stroke-width="0.22">LO</text>
<line x1="246.30" y1="356.00" x2="246.30" y2="447.00" stroke="#3c3c3c" stroke-width="0.95"/>
<line x1="244.50" y1="356.00" x2="248.10" y2="356.00" stroke="#3a3a3a" stroke-width="0.9"/>
<line x1="244.50" y1="447.00" x2="248.10" y2="447.00" stroke="#3a3a3a" stroke-width="0.9"/>
<rect x="243.45" y="384.40" width="5.7" height="25.20" fill="#08702a"/>
<line x1="243.70" y1="395.80" x2="248.90" y2="395.80" stroke="#2a5f8a" stroke-width="0.7"/>
<line x1="252.65" y1="367.00" x2="252.65" y2="449.40" stroke="#3c3c3c" stroke-width="0.95"/>
<line x1="250.85" y1="367.00" x2="254.45" y2="367.00" stroke="#3a3a3a" stroke-width="0.9"/>
<line x1="250.85" y1="449.40" x2="254.45" y2="449.40" stroke="#3a3a3a" stroke-width="0.9"/>
<rect x="249.80" y="397.40" width="5.7" height="21.00" fill="#0c58b0"/>
<line x1="250.05" y1="408.00" x2="255.25" y2="408.00" stroke="#4a55c0" stroke-width="0.7"/>
<line x1="259.00" y1="366.60" x2="259.00" y2="443.60" stroke="#3c3c3c" stroke-width="0.95"/>
<line x1="257.20" y1="366.60" x2="260.80" y2="366.60" stroke="#3a3a3a" stroke-width="0.9"/>
<line x1="257.20" y1="443.60" x2="260.80" y2="443.60" stroke="#3a3a3a" stroke-width="0.9"/>
<rect x="256.15" y="392.00" width="5.7" height="20.40" fill="#ff8c7c"/>
<line x1="256.40" y1="402.00" x2="261.60" y2="402.00" stroke="#9a6fd0" stroke-width="0.7"/>
<line x1="265.35" y1="372.60" x2="265.35" y2="446.00" stroke="#3c3c3c" stroke-width="0.95"/>
<line x1="263.55" y1="372.60" x2="267.15" y2="372.60" stroke="#3a3a3a" stroke-width="0.9"/>
<line x1="263.55" y1="446.00" x2="267.15" y2="446.00" stroke="#3a3a3a" stroke-width="0.9"/>
<rect x="262.50" y="399.80" width="5.7" height="18.80" fill="#ee3a32"/>
<line x1="262.75" y1="409.20" x2="267.95" y2="409.20" stroke="#b04aa0" stroke-width="0.7"/>
<text x="262.20" y="490.50" font-size="7.5" font-weight="bold" text-anchor="middle" fill="#111"  stroke="#111" stroke-width="0.22">RO</text>
<rect x="38" y="445" width="41.6" height="33" fill="#fff" fill-opacity="0.85" stroke="#d0d0d0" stroke-width="0.6"/>
<rect x="41.8" y="448.20" width="3.0" height="3.0" fill="#08702a"/>
<text x="45.90" y="451.70" font-size="6.35" font-weight="normal" text-anchor="start" fill="#1c1c1c" >Norm_Log</text>
<rect x="41.8" y="456.25" width="3.0" height="3.0" fill="#0c58b0"/>
<text x="45.90" y="459.75" font-size="6.35" font-weight="normal" text-anchor="start" fill="#1c1c1c" >Norm_Sta</text>
<rect x="41.8" y="464.30" width="3.0" height="3.0" fill="#ff8c7c"/>
<text x="45.90" y="467.80" font-size="6.35" font-weight="normal" text-anchor="start" fill="#1c1c1c" >Therm_Log</text>
<rect x="41.8" y="472.35" width="3.0" height="3.0" fill="#ee3a32"/>
<text x="45.90" y="475.85" font-size="6.35" font-weight="normal" text-anchor="start" fill="#1c1c1c" >Therm_Sta</text>
<rect x="320.0" y="326.9" width="221.29999999999995" height="155.70000000000005" fill="#fff" stroke="#8a8a8a" stroke-width="0.9"/>
<line x1="320.0" y1="326.9" x2="320.0" y2="482.6" stroke="#808080" stroke-width="1"/>
<line x1="320.0" y1="482.6" x2="541.3" y2="482.6" stroke="#808080" stroke-width="1"/>
<line x1="317.8" y1="482.60" x2="320.0" y2="482.60" stroke="#666" stroke-width="0.8"/>
<text x="315.00" y="484.95" font-size="7.2" font-weight="normal" text-anchor="end" fill="#1a1a1a" >2.4</text>
<line x1="317.8" y1="460.36" x2="320.0" y2="460.36" stroke="#666" stroke-width="0.8"/>
<text x="315.00" y="462.71" font-size="7.2" font-weight="normal" text-anchor="end" fill="#1a1a1a" >2.5</text>
<line x1="317.8" y1="438.11" x2="320.0" y2="438.11" stroke="#666" stroke-width="0.8"/>
<text x="315.00" y="440.46" font-size="7.2" font-weight="normal" text-anchor="end" fill="#1a1a1a" >2.6</text>
<line x1="317.8" y1="415.87" x2="320.0" y2="415.87" stroke="#666" stroke-width="0.8"/>
<text x="315.00" y="418.22" font-size="7.2" font-weight="normal" text-anchor="end" fill="#1a1a1a" >2.7</text>
<line x1="317.8" y1="393.63" x2="320.0" y2="393.63" stroke="#666" stroke-width="0.8"/>
<text x="315.00" y="395.98" font-size="7.2" font-weight="normal" text-anchor="end" fill="#1a1a1a" >2.8</text>
<line x1="317.8" y1="371.39" x2="320.0" y2="371.39" stroke="#666" stroke-width="0.8"/>
<text x="315.00" y="373.74" font-size="7.2" font-weight="normal" text-anchor="end" fill="#1a1a1a" >2.9</text>
<line x1="317.8" y1="349.14" x2="320.0" y2="349.14" stroke="#666" stroke-width="0.8"/>
<text x="315.00" y="351.49" font-size="7.2" font-weight="normal" text-anchor="end" fill="#1a1a1a" >3</text>
<line x1="317.8" y1="326.90" x2="320.0" y2="326.90" stroke="#666" stroke-width="0.8"/>
<text x="315.00" y="329.25" font-size="7.2" font-weight="normal" text-anchor="end" fill="#1a1a1a" >3.1</text>
<rect x="340" y="390.96" width="17" height="91.64" fill="#08702a"/>
<text x="348.50" y="385.36" font-size="7.6" font-weight="normal" text-anchor="middle" fill="#222" >2.812</text>
<text x="348.70" y="494.40" font-size="7.45" font-weight="bold" text-anchor="middle" fill="#111"  stroke="#111" stroke-width="0.22">Norm_Log</text>
<rect x="395" y="355.15" width="17" height="127.45" fill="#0c58b0"/>
<text x="403.50" y="349.55" font-size="7.6" font-weight="normal" text-anchor="middle" fill="#222" >2.973</text>
<text x="403.70" y="494.40" font-size="7.45" font-weight="bold" text-anchor="middle" fill="#111"  stroke="#111" stroke-width="0.22">Norm_Sta</text>
<rect x="450" y="360.49" width="17" height="122.11" fill="#ff8c7c"/>
<text x="458.50" y="354.89" font-size="7.6" font-weight="normal" text-anchor="middle" fill="#222" >2.949</text>
<text x="458.70" y="494.40" font-size="7.45" font-weight="bold" text-anchor="middle" fill="#111"  stroke="#111" stroke-width="0.22">Therm_Log</text>
<rect x="505" y="352.26" width="17" height="130.34" fill="#ee3a32"/>
<text x="513.50" y="346.66" font-size="7.6" font-weight="normal" text-anchor="middle" fill="#222" >2.986</text>
<text x="513.70" y="494.40" font-size="7.45" font-weight="bold" text-anchor="middle" fill="#111"  stroke="#111" stroke-width="0.22">Therm_Sta</text>
<text x="420.90" y="317.10" font-size="8.85" font-weight="bold" text-anchor="middle" fill="#111"  stroke="#111" stroke-width="0.22">Global Compactness</text>
</svg>
</body></html>
